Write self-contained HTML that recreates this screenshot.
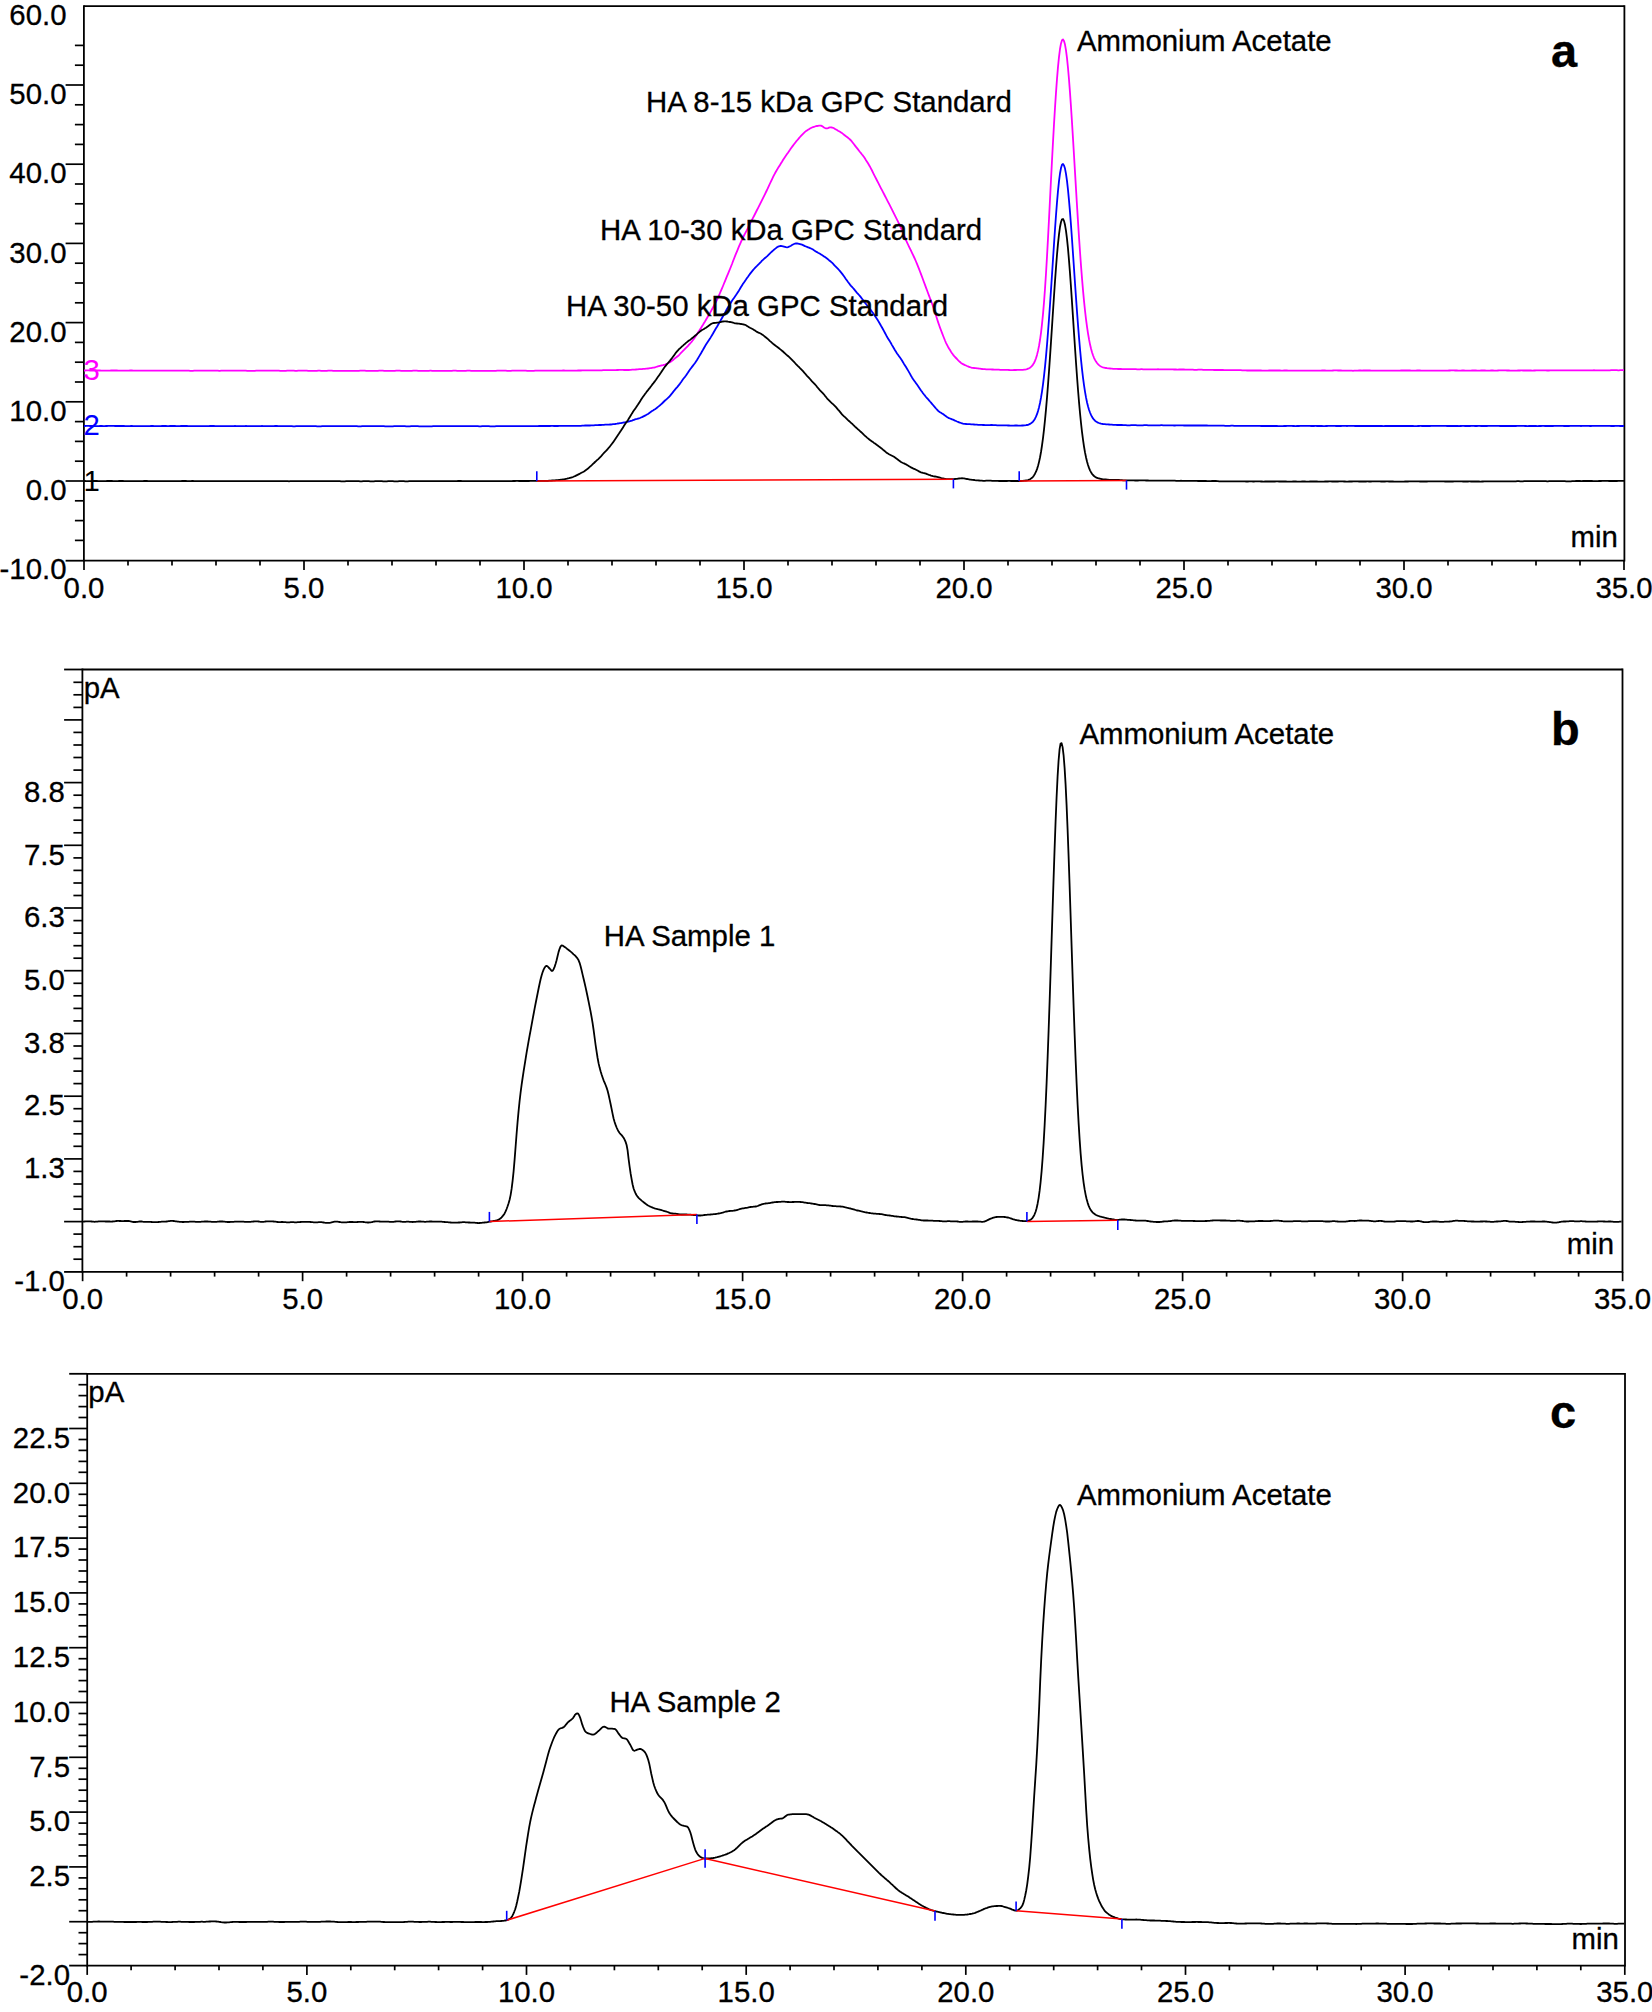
<!DOCTYPE html>
<html lang="en"><head><meta charset="utf-8"><title>GPC chromatograms</title>
<style>html,body{margin:0;padding:0;background:#fff;overflow:hidden}svg{display:block}text{font-family:'Liberation Sans', Arial, Helvetica, sans-serif;}</style></head>
<body>
<svg width="1652" height="2012" viewBox="0 0 1652 2012">
<rect x="0" y="0" width="1652" height="2012" fill="#ffffff"/>
<line x1="83.9" y1="6.2" x2="1624.4" y2="6.2" stroke="#000" stroke-width="1.8" stroke-linecap="butt"/>
<line x1="1624.4" y1="5.3" x2="1624.4" y2="561.6" stroke="#000" stroke-width="1.8" stroke-linecap="butt"/>
<line x1="83.9" y1="5.3" x2="83.9" y2="561.6" stroke="#000" stroke-width="1.8" stroke-linecap="butt"/>
<line x1="83.9" y1="560.7" x2="1624.4" y2="560.7" stroke="#000" stroke-width="1.8" stroke-linecap="butt"/>
<line x1="74.9" y1="540.4" x2="83.9" y2="540.4" stroke="#000" stroke-width="1.7" stroke-linecap="butt"/>
<line x1="74.9" y1="520.6" x2="83.9" y2="520.6" stroke="#000" stroke-width="1.7" stroke-linecap="butt"/>
<line x1="74.9" y1="500.8" x2="83.9" y2="500.8" stroke="#000" stroke-width="1.7" stroke-linecap="butt"/>
<line x1="74.9" y1="461.2" x2="83.9" y2="461.2" stroke="#000" stroke-width="1.7" stroke-linecap="butt"/>
<line x1="74.9" y1="441.4" x2="83.9" y2="441.4" stroke="#000" stroke-width="1.7" stroke-linecap="butt"/>
<line x1="74.9" y1="421.6" x2="83.9" y2="421.6" stroke="#000" stroke-width="1.7" stroke-linecap="butt"/>
<line x1="74.9" y1="382" x2="83.9" y2="382" stroke="#000" stroke-width="1.7" stroke-linecap="butt"/>
<line x1="74.9" y1="362.2" x2="83.9" y2="362.2" stroke="#000" stroke-width="1.7" stroke-linecap="butt"/>
<line x1="74.9" y1="342.4" x2="83.9" y2="342.4" stroke="#000" stroke-width="1.7" stroke-linecap="butt"/>
<line x1="74.9" y1="302.8" x2="83.9" y2="302.8" stroke="#000" stroke-width="1.7" stroke-linecap="butt"/>
<line x1="74.9" y1="283" x2="83.9" y2="283" stroke="#000" stroke-width="1.7" stroke-linecap="butt"/>
<line x1="74.9" y1="263.2" x2="83.9" y2="263.2" stroke="#000" stroke-width="1.7" stroke-linecap="butt"/>
<line x1="74.9" y1="223.6" x2="83.9" y2="223.6" stroke="#000" stroke-width="1.7" stroke-linecap="butt"/>
<line x1="74.9" y1="203.8" x2="83.9" y2="203.8" stroke="#000" stroke-width="1.7" stroke-linecap="butt"/>
<line x1="74.9" y1="184" x2="83.9" y2="184" stroke="#000" stroke-width="1.7" stroke-linecap="butt"/>
<line x1="74.9" y1="144.4" x2="83.9" y2="144.4" stroke="#000" stroke-width="1.7" stroke-linecap="butt"/>
<line x1="74.9" y1="124.6" x2="83.9" y2="124.6" stroke="#000" stroke-width="1.7" stroke-linecap="butt"/>
<line x1="74.9" y1="104.8" x2="83.9" y2="104.8" stroke="#000" stroke-width="1.7" stroke-linecap="butt"/>
<line x1="74.9" y1="65.2" x2="83.9" y2="65.2" stroke="#000" stroke-width="1.7" stroke-linecap="butt"/>
<line x1="74.9" y1="45.4" x2="83.9" y2="45.4" stroke="#000" stroke-width="1.7" stroke-linecap="butt"/>
<line x1="65.6" y1="85" x2="83.9" y2="85" stroke="#000" stroke-width="1.7" stroke-linecap="butt"/>
<line x1="65.6" y1="164.2" x2="83.9" y2="164.2" stroke="#000" stroke-width="1.7" stroke-linecap="butt"/>
<line x1="65.6" y1="243.4" x2="83.9" y2="243.4" stroke="#000" stroke-width="1.7" stroke-linecap="butt"/>
<line x1="65.6" y1="322.6" x2="83.9" y2="322.6" stroke="#000" stroke-width="1.7" stroke-linecap="butt"/>
<line x1="65.6" y1="401.8" x2="83.9" y2="401.8" stroke="#000" stroke-width="1.7" stroke-linecap="butt"/>
<line x1="65.6" y1="481" x2="83.9" y2="481" stroke="#000" stroke-width="1.7" stroke-linecap="butt"/>
<line x1="65.6" y1="560.7" x2="83.9" y2="560.7" stroke="#000" stroke-width="1.8" stroke-linecap="butt"/>
<text transform="translate(66.5 25) scale(1 1.025)" font-size="29.4" text-anchor="end" fill="#000" stroke="#000" stroke-width="0.3">60.0</text>
<text transform="translate(66.5 104.2) scale(1 1.025)" font-size="29.4" text-anchor="end" fill="#000" stroke="#000" stroke-width="0.3">50.0</text>
<text transform="translate(66.5 183.4) scale(1 1.025)" font-size="29.4" text-anchor="end" fill="#000" stroke="#000" stroke-width="0.3">40.0</text>
<text transform="translate(66.5 262.6) scale(1 1.025)" font-size="29.4" text-anchor="end" fill="#000" stroke="#000" stroke-width="0.3">30.0</text>
<text transform="translate(66.5 341.8) scale(1 1.025)" font-size="29.4" text-anchor="end" fill="#000" stroke="#000" stroke-width="0.3">20.0</text>
<text transform="translate(66.5 421) scale(1 1.025)" font-size="29.4" text-anchor="end" fill="#000" stroke="#000" stroke-width="0.3">10.0</text>
<text transform="translate(66.5 500.2) scale(1 1.025)" font-size="29.4" text-anchor="end" fill="#000" stroke="#000" stroke-width="0.3">0.0</text>
<text transform="translate(66.5 579.4) scale(1 1.025)" font-size="29.4" text-anchor="end" fill="#000" stroke="#000" stroke-width="0.3">-10.0</text>
<line x1="84" y1="560.7" x2="84" y2="570" stroke="#000" stroke-width="1.7" stroke-linecap="butt"/>
<line x1="128" y1="560.7" x2="128" y2="565.4" stroke="#000" stroke-width="1.7" stroke-linecap="butt"/>
<line x1="172" y1="560.7" x2="172" y2="565.4" stroke="#000" stroke-width="1.7" stroke-linecap="butt"/>
<line x1="216" y1="560.7" x2="216" y2="565.4" stroke="#000" stroke-width="1.7" stroke-linecap="butt"/>
<line x1="260" y1="560.7" x2="260" y2="565.4" stroke="#000" stroke-width="1.7" stroke-linecap="butt"/>
<line x1="304" y1="560.7" x2="304" y2="570" stroke="#000" stroke-width="1.7" stroke-linecap="butt"/>
<line x1="348" y1="560.7" x2="348" y2="565.4" stroke="#000" stroke-width="1.7" stroke-linecap="butt"/>
<line x1="392" y1="560.7" x2="392" y2="565.4" stroke="#000" stroke-width="1.7" stroke-linecap="butt"/>
<line x1="436" y1="560.7" x2="436" y2="565.4" stroke="#000" stroke-width="1.7" stroke-linecap="butt"/>
<line x1="480" y1="560.7" x2="480" y2="565.4" stroke="#000" stroke-width="1.7" stroke-linecap="butt"/>
<line x1="524" y1="560.7" x2="524" y2="570" stroke="#000" stroke-width="1.7" stroke-linecap="butt"/>
<line x1="568" y1="560.7" x2="568" y2="565.4" stroke="#000" stroke-width="1.7" stroke-linecap="butt"/>
<line x1="612" y1="560.7" x2="612" y2="565.4" stroke="#000" stroke-width="1.7" stroke-linecap="butt"/>
<line x1="656" y1="560.7" x2="656" y2="565.4" stroke="#000" stroke-width="1.7" stroke-linecap="butt"/>
<line x1="700" y1="560.7" x2="700" y2="565.4" stroke="#000" stroke-width="1.7" stroke-linecap="butt"/>
<line x1="744" y1="560.7" x2="744" y2="570" stroke="#000" stroke-width="1.7" stroke-linecap="butt"/>
<line x1="788" y1="560.7" x2="788" y2="565.4" stroke="#000" stroke-width="1.7" stroke-linecap="butt"/>
<line x1="832" y1="560.7" x2="832" y2="565.4" stroke="#000" stroke-width="1.7" stroke-linecap="butt"/>
<line x1="876" y1="560.7" x2="876" y2="565.4" stroke="#000" stroke-width="1.7" stroke-linecap="butt"/>
<line x1="920" y1="560.7" x2="920" y2="565.4" stroke="#000" stroke-width="1.7" stroke-linecap="butt"/>
<line x1="964" y1="560.7" x2="964" y2="570" stroke="#000" stroke-width="1.7" stroke-linecap="butt"/>
<line x1="1008" y1="560.7" x2="1008" y2="565.4" stroke="#000" stroke-width="1.7" stroke-linecap="butt"/>
<line x1="1052" y1="560.7" x2="1052" y2="565.4" stroke="#000" stroke-width="1.7" stroke-linecap="butt"/>
<line x1="1096" y1="560.7" x2="1096" y2="565.4" stroke="#000" stroke-width="1.7" stroke-linecap="butt"/>
<line x1="1140" y1="560.7" x2="1140" y2="565.4" stroke="#000" stroke-width="1.7" stroke-linecap="butt"/>
<line x1="1184" y1="560.7" x2="1184" y2="570" stroke="#000" stroke-width="1.7" stroke-linecap="butt"/>
<line x1="1228" y1="560.7" x2="1228" y2="565.4" stroke="#000" stroke-width="1.7" stroke-linecap="butt"/>
<line x1="1272" y1="560.7" x2="1272" y2="565.4" stroke="#000" stroke-width="1.7" stroke-linecap="butt"/>
<line x1="1316" y1="560.7" x2="1316" y2="565.4" stroke="#000" stroke-width="1.7" stroke-linecap="butt"/>
<line x1="1360" y1="560.7" x2="1360" y2="565.4" stroke="#000" stroke-width="1.7" stroke-linecap="butt"/>
<line x1="1404" y1="560.7" x2="1404" y2="570" stroke="#000" stroke-width="1.7" stroke-linecap="butt"/>
<line x1="1448" y1="560.7" x2="1448" y2="565.4" stroke="#000" stroke-width="1.7" stroke-linecap="butt"/>
<line x1="1492" y1="560.7" x2="1492" y2="565.4" stroke="#000" stroke-width="1.7" stroke-linecap="butt"/>
<line x1="1536" y1="560.7" x2="1536" y2="565.4" stroke="#000" stroke-width="1.7" stroke-linecap="butt"/>
<line x1="1580" y1="560.7" x2="1580" y2="565.4" stroke="#000" stroke-width="1.7" stroke-linecap="butt"/>
<line x1="1624" y1="560.7" x2="1624" y2="570" stroke="#000" stroke-width="1.7" stroke-linecap="butt"/>
<text transform="translate(84 597.8) scale(1 1.025)" font-size="29.4" text-anchor="middle" fill="#000" stroke="#000" stroke-width="0.3">0.0</text>
<text transform="translate(304 597.8) scale(1 1.025)" font-size="29.4" text-anchor="middle" fill="#000" stroke="#000" stroke-width="0.3">5.0</text>
<text transform="translate(524 597.8) scale(1 1.025)" font-size="29.4" text-anchor="middle" fill="#000" stroke="#000" stroke-width="0.3">10.0</text>
<text transform="translate(744 597.8) scale(1 1.025)" font-size="29.4" text-anchor="middle" fill="#000" stroke="#000" stroke-width="0.3">15.0</text>
<text transform="translate(964 597.8) scale(1 1.025)" font-size="29.4" text-anchor="middle" fill="#000" stroke="#000" stroke-width="0.3">20.0</text>
<text transform="translate(1184 597.8) scale(1 1.025)" font-size="29.4" text-anchor="middle" fill="#000" stroke="#000" stroke-width="0.3">25.0</text>
<text transform="translate(1404 597.8) scale(1 1.025)" font-size="29.4" text-anchor="middle" fill="#000" stroke="#000" stroke-width="0.3">30.0</text>
<text transform="translate(1624 597.8) scale(1 1.025)" font-size="29.4" text-anchor="middle" fill="#000" stroke="#000" stroke-width="0.3">35.0</text>
<text transform="translate(1617.8 547) scale(1 1.025)" font-size="29.4" text-anchor="end" fill="#000" stroke="#000" stroke-width="0.3">min</text>
<text transform="translate(1550.9 66.6) scale(1 1.0)" font-size="47" text-anchor="start" fill="#000" stroke="#000" stroke-width="0.3" font-weight="bold">a</text>
<path d="M84 370.5 L85 370.5 L86 370.4 L87 370.4 L88 370.4 L89 370.4 L90 370.5 L91 370.5 L92 370.5 L93 370.5 L94 370.5 L95 370.5 L96 370.5 L97 370.5 L98 370.5 L99 370.5 L100 370.5 L101 370.6 L102 370.6 L103 370.6 L104 370.6 L105 370.6 L106 370.6 L107 370.6 L108 370.6 L109 370.6 L110 370.6 L111 370.5 L112 370.5 L113 370.5 L114 370.5 L115 370.5 L116 370.5 L117 370.5 L118 370.6 L119 370.6 L120 370.6 L121 370.6 L122 370.6 L123 370.6 L124 370.6 L125 370.6 L126 370.6 L127 370.6 L128 370.6 L129 370.6 L130 370.5 L131 370.5 L132 370.5 L133 370.6 L134 370.6 L135 370.6 L136 370.7 L137 370.7 L138 370.7 L139 370.7 L140 370.6 L141 370.6 L142 370.6 L143 370.6 L144 370.6 L145 370.6 L146 370.6 L147 370.6 L148 370.7 L149 370.7 L150 370.6 L151 370.6 L152 370.6 L153 370.6 L154 370.7 L155 370.7 L156 370.7 L157 370.7 L158 370.7 L159 370.7 L160 370.7 L161 370.6 L162 370.6 L163 370.6 L164 370.6 L165 370.6 L166 370.6 L167 370.6 L168 370.6 L169 370.6 L170 370.6 L171 370.6 L172 370.6 L173 370.6 L174 370.6 L175 370.6 L176 370.7 L177 370.7 L178 370.7 L179 370.7 L180 370.7 L181 370.7 L182 370.7 L183 370.7 L184 370.7 L185 370.7 L186 370.6 L187 370.7 L188 370.7 L189 370.7 L190 370.8 L191 370.8 L192 370.8 L193 370.8 L194 370.7 L195 370.7 L196 370.6 L197 370.6 L198 370.7 L199 370.7 L200 370.7 L201 370.7 L202 370.7 L203 370.7 L204 370.7 L205 370.7 L206 370.7 L207 370.7 L208 370.7 L209 370.7 L210 370.7 L211 370.7 L212 370.7 L213 370.7 L214 370.7 L215 370.7 L216 370.7 L217 370.7 L218 370.7 L219 370.8 L220 370.8 L221 370.7 L222 370.7 L223 370.7 L224 370.7 L225 370.7 L226 370.7 L227 370.7 L228 370.7 L229 370.7 L230 370.7 L231 370.7 L232 370.7 L233 370.7 L234 370.7 L235 370.7 L236 370.7 L237 370.7 L238 370.7 L239 370.7 L240 370.7 L241 370.7 L242 370.7 L243 370.7 L244 370.7 L245 370.7 L246 370.7 L247 370.8 L248 370.8 L249 370.9 L250 370.9 L251 370.9 L252 370.9 L253 370.8 L254 370.8 L255 370.8 L256 370.7 L257 370.7 L258 370.7 L259 370.7 L260 370.7 L261 370.7 L262 370.7 L263 370.7 L264 370.7 L265 370.7 L266 370.7 L267 370.7 L268 370.7 L269 370.7 L270 370.7 L271 370.7 L272 370.7 L273 370.7 L274 370.7 L275 370.6 L276 370.6 L277 370.6 L278 370.7 L279 370.7 L280 370.8 L281 370.8 L282 370.8 L283 370.9 L284 370.8 L285 370.8 L286 370.8 L287 370.7 L288 370.7 L289 370.7 L290 370.6 L291 370.6 L292 370.6 L293 370.7 L294 370.7 L295 370.8 L296 370.8 L297 370.8 L298 370.7 L299 370.7 L300 370.7 L301 370.7 L302 370.7 L303 370.7 L304 370.7 L305 370.7 L306 370.7 L307 370.7 L308 370.8 L309 370.8 L310 370.8 L311 370.8 L312 370.8 L313 370.8 L314 370.8 L315 370.8 L316 370.8 L317 370.8 L318 370.7 L319 370.7 L320 370.7 L321 370.8 L322 370.8 L323 370.9 L324 370.9 L325 370.8 L326 370.8 L327 370.8 L328 370.7 L329 370.7 L330 370.7 L331 370.7 L332 370.7 L333 370.8 L334 370.8 L335 370.8 L336 370.8 L337 370.8 L338 370.8 L339 370.8 L340 370.8 L341 370.8 L342 370.8 L343 370.9 L344 370.9 L345 370.9 L346 370.9 L347 370.9 L348 370.8 L349 370.8 L350 370.9 L351 370.9 L352 370.9 L353 370.9 L354 370.9 L355 370.8 L356 370.8 L357 370.8 L358 370.8 L359 370.8 L360 370.7 L361 370.7 L362 370.7 L363 370.7 L364 370.7 L365 370.7 L366 370.8 L367 370.8 L368 370.8 L369 370.8 L370 370.8 L371 370.9 L372 370.9 L373 370.9 L374 370.9 L375 370.9 L376 370.8 L377 370.8 L378 370.8 L379 370.7 L380 370.7 L381 370.7 L382 370.7 L383 370.7 L384 370.8 L385 370.8 L386 370.8 L387 370.8 L388 370.8 L389 370.8 L390 370.8 L391 370.8 L392 370.8 L393 370.8 L394 370.8 L395 370.8 L396 370.7 L397 370.7 L398 370.7 L399 370.7 L400 370.7 L401 370.8 L402 370.8 L403 370.8 L404 370.8 L405 370.8 L406 370.8 L407 370.8 L408 370.8 L409 370.8 L410 370.8 L411 370.8 L412 370.8 L413 370.7 L414 370.7 L415 370.7 L416 370.7 L417 370.7 L418 370.8 L419 370.8 L420 370.9 L421 370.9 L422 370.9 L423 370.8 L424 370.8 L425 370.8 L426 370.8 L427 370.8 L428 370.8 L429 370.8 L430 370.7 L431 370.7 L432 370.8 L433 370.8 L434 370.8 L435 370.8 L436 370.8 L437 370.8 L438 370.8 L439 370.8 L440 370.8 L441 370.8 L442 370.8 L443 370.8 L444 370.8 L445 370.9 L446 370.9 L447 370.8 L448 370.8 L449 370.8 L450 370.8 L451 370.8 L452 370.8 L453 370.7 L454 370.7 L455 370.7 L456 370.7 L457 370.8 L458 370.8 L459 370.9 L460 370.9 L461 370.9 L462 370.9 L463 370.9 L464 370.9 L465 370.8 L466 370.8 L467 370.7 L468 370.7 L469 370.7 L470 370.7 L471 370.8 L472 370.8 L473 370.8 L474 370.8 L475 370.8 L476 370.8 L477 370.8 L478 370.9 L479 370.9 L480 370.9 L481 370.9 L482 370.9 L483 370.9 L484 370.9 L485 370.9 L486 370.8 L487 370.8 L488 370.8 L489 370.8 L490 370.8 L491 370.8 L492 370.8 L493 370.8 L494 370.8 L495 370.8 L496 370.8 L497 370.7 L498 370.7 L499 370.7 L500 370.7 L501 370.7 L502 370.7 L503 370.7 L504 370.7 L505 370.7 L506 370.7 L507 370.8 L508 370.8 L509 370.8 L510 370.8 L511 370.8 L512 370.7 L513 370.6 L514 370.6 L515 370.6 L516 370.6 L517 370.6 L518 370.6 L519 370.7 L520 370.7 L521 370.7 L522 370.7 L523 370.7 L524 370.7 L525 370.7 L526 370.7 L527 370.8 L528 370.8 L529 370.8 L530 370.8 L531 370.8 L532 370.8 L533 370.8 L534 370.8 L535 370.7 L536 370.7 L537 370.7 L538 370.7 L539 370.7 L540 370.7 L541 370.7 L542 370.7 L543 370.7 L544 370.6 L545 370.6 L546 370.6 L547 370.6 L548 370.6 L549 370.6 L550 370.7 L551 370.7 L552 370.7 L553 370.7 L554 370.7 L555 370.6 L556 370.6 L557 370.6 L558 370.6 L559 370.6 L560 370.6 L561 370.6 L562 370.6 L563 370.5 L564 370.5 L565 370.6 L566 370.6 L567 370.6 L568 370.6 L569 370.6 L570 370.6 L571 370.6 L572 370.6 L573 370.6 L574 370.6 L575 370.6 L576 370.6 L577 370.6 L578 370.5 L579 370.5 L580 370.5 L581 370.5 L582 370.4 L583 370.4 L584 370.4 L585 370.4 L586 370.4 L587 370.4 L588 370.4 L589 370.4 L590 370.4 L591 370.4 L592 370.3 L593 370.3 L594 370.3 L595 370.3 L596 370.3 L597 370.3 L598 370.3 L599 370.3 L600 370.3 L601 370.3 L602 370.3 L603 370.2 L604 370.2 L605 370.2 L606 370.2 L607 370.2 L608 370.2 L609 370.2 L610 370.2 L611 370.2 L612 370.1 L613 370.1 L614 370.1 L615 370.1 L616 370.1 L617 370 L618 370 L619 369.9 L620 369.9 L621 369.9 L622 369.9 L623 369.9 L624 370 L625 370 L626 370 L627 370 L628 370 L629 370 L630 369.9 L631 369.8 L632 369.7 L633 369.7 L634 369.6 L635 369.6 L636 369.5 L637 369.4 L638 369.3 L639 369.2 L640 369.2 L641 369.2 L642 369.1 L643 368.9 L644 368.9 L645 368.8 L646 368.7 L647 368.6 L648 368.5 L649 368.4 L650 368.2 L651 368.1 L652 367.9 L653 367.7 L654 367.6 L655 367.3 L656 367 L657 366.7 L658 366.3 L659 366 L660 365.8 L661 365.5 L662 365.3 L663 365.1 L664 364.8 L665 364.5 L666 364.1 L667 363.7 L668 363.2 L669 362.7 L670 362.2 L671 361.5 L672 360.8 L673 360 L674 359.1 L675 358.3 L676 357.6 L677 356.8 L678 356 L679 355.1 L680 354 L681 352.9 L682 351.9 L683 350.8 L684 349.9 L685 348.8 L686 347.8 L687 346.8 L688 345.8 L689 344.7 L690 343.6 L691 342.5 L692 341.3 L693 340 L694 338.7 L695 337.3 L696 335.8 L697 334.2 L698 332.6 L699 331.1 L700 329.5 L701 327.9 L702 326.3 L703 324.7 L704 323 L705 321.4 L706 319.7 L707 318 L708 316.2 L709 314.5 L710 312.9 L711 311.1 L712 309.3 L713 307.5 L714 305.6 L715 303.7 L716 301.8 L717 299.8 L718 297.6 L719 295.3 L720 293 L721 290.7 L722 288.4 L723 286 L724 283.5 L725 281.1 L726 278.6 L727 276.2 L728 273.8 L729 271.4 L730 269 L731 266.5 L732 264 L733 261.3 L734 258.7 L735 256.2 L736 253.7 L737 251.3 L738 248.8 L739 246.4 L740 244.1 L741 241.8 L742 239.6 L743 237.5 L744 235.5 L745 233.6 L746 231.8 L747 229.8 L748 227.8 L749 225.7 L750 223.6 L751 221.7 L752 219.8 L753 217.9 L754 216 L755 214 L756 212 L757 210 L758 208.1 L759 206.2 L760 204.2 L761 202.2 L762 200.2 L763 198.2 L764 196.1 L765 194.1 L766 192 L767 190 L768 187.8 L769 185.7 L770 183.5 L771 181.4 L772 179.3 L773 177.2 L774 175.2 L775 173.3 L776 171.5 L777 169.8 L778 168.1 L779 166.5 L780 164.9 L781 163.3 L782 161.7 L783 160 L784 158.4 L785 156.9 L786 155.5 L787 154.1 L788 152.7 L789 151.2 L790 149.8 L791 148.3 L792 146.9 L793 145.6 L794 144.3 L795 143 L796 141.7 L797 140.5 L798 139.4 L799 138.2 L800 137 L801 135.9 L802 134.8 L803 133.8 L804 132.8 L805 131.9 L806 131.1 L807 130.4 L808 129.8 L809 129.2 L810 128.6 L811 128 L812 127.5 L813 127.1 L814 126.8 L815 126.5 L816 126.2 L817 126 L818 125.8 L819 125.6 L820 125.6 L821 125.7 L822 126.1 L823 126.7 L824 127.4 L825 128 L826 128.4 L827 128.4 L828 128.1 L829 127.7 L830 127.3 L831 127.3 L832 127.5 L833 127.8 L834 128.3 L835 128.9 L836 129.5 L837 130.1 L838 130.7 L839 131.2 L840 131.8 L841 132.4 L842 133.1 L843 133.9 L844 134.7 L845 135.5 L846 136.3 L847 137 L848 137.8 L849 138.6 L850 139.5 L851 140.5 L852 141.7 L853 143 L854 144.3 L855 145.6 L856 146.9 L857 148.1 L858 149.4 L859 150.7 L860 152 L861 153.2 L862 154.5 L863 155.7 L864 157.1 L865 158.6 L866 160.2 L867 161.7 L868 163.3 L869 165 L870 166.7 L871 168.6 L872 170.5 L873 172.6 L874 174.6 L875 176.6 L876 178.5 L877 180.5 L878 182.4 L879 184.4 L880 186.4 L881 188.3 L882 190.2 L883 192.1 L884 194 L885 196 L886 197.9 L887 199.9 L888 201.8 L889 203.7 L890 205.6 L891 207.6 L892 209.6 L893 211.7 L894 213.7 L895 215.7 L896 217.6 L897 219.6 L898 221.6 L899 223.7 L900 225.9 L901 228.2 L902 230.5 L903 232.9 L904 235.3 L905 237.7 L906 240.1 L907 242.3 L908 244.5 L909 246.6 L910 248.6 L911 250.7 L912 252.8 L913 254.9 L914 257 L915 259.2 L916 261.5 L917 263.9 L918 266.4 L919 268.9 L920 271.5 L921 274.1 L922 276.7 L923 279.5 L924 282.2 L925 284.9 L926 287.6 L927 290.3 L928 293 L929 295.6 L930 298.2 L931 300.8 L932 303.5 L933 306.3 L934 309.2 L935 312.4 L936 315.6 L937 318.8 L938 321.9 L939 324.8 L940 327.6 L941 330.3 L942 332.9 L943 335.5 L944 338 L945 340.5 L946 342.8 L947 344.8 L948 346.7 L949 348.5 L950 350.1 L951 351.7 L952 353.2 L953 354.6 L954 355.9 L955 357 L956 358 L957 359 L958 360.1 L959 361.1 L960 362 L961 362.9 L962 363.6 L963 364.1 L964 364.6 L965 365.1 L966 365.5 L967 366 L968 366.4 L969 366.8 L970 367.2 L971 367.5 L972 367.8 L973 367.9 L974 368 L975 368.1 L976 368.2 L977 368.3 L978 368.4 L979 368.6 L980 368.7 L981 368.9 L982 369 L983 369.1 L984 369.2 L985 369.2 L986 369.3 L987 369.3 L988 369.3 L989 369.4 L990 369.4 L991 369.4 L992 369.5 L993 369.5 L994 369.6 L995 369.6 L996 369.6 L997 369.6 L998 369.7 L999 369.7 L1000 369.8 L1001 369.8 L1002 369.8 L1003 369.8 L1004 369.8 L1005 369.8 L1006 369.8 L1007 369.9 L1008 369.9 L1009 370 L1010 370.1 L1011 370.1 L1012 370.1 L1013 370.1 L1014 370 L1015 370 L1016 370 L1017 369.9 L1018 369.9 L1019 369.9 L1020 369.9 L1021 369.9 L1022 369.8 L1023 369.8 L1024 369.7 L1025 369.6 L1026 369.4 L1027 369.1 L1028 368.7 L1029 368.3 L1030 367.7 L1031 366.9 L1032 365.9 L1033 364.6 L1034 363 L1035 360.9 L1036 358.2 L1037 354.9 L1038 350.9 L1039 346 L1040 340 L1041 332.8 L1042 324.2 L1043 314.1 L1044 302.3 L1045 288.8 L1046 273.5 L1047 256.6 L1048 238.4 L1049 219.2 L1050 199.5 L1051 179.8 L1052 160.5 L1053 142 L1054 124.3 L1055 107.8 L1056 92.6 L1057 78.9 L1058 66.9 L1059 56.9 L1060 49 L1061 43.4 L1062 40.2 L1063 39.4 L1064 40.9 L1065 44.6 L1066 50.4 L1067 58.2 L1068 68 L1069 79.5 L1070 92.6 L1071 107 L1072 122.4 L1073 138.6 L1074 155.2 L1075 172.1 L1076 188.9 L1077 205.5 L1078 221.6 L1079 237.1 L1080 251.8 L1081 265.6 L1082 278.4 L1083 290.1 L1084 300.8 L1085 310.5 L1086 319.1 L1087 326.7 L1088 333.4 L1089 339.2 L1090 344.3 L1091 348.5 L1092 352.2 L1093 355.2 L1094 357.8 L1095 359.9 L1096 361.6 L1097 363 L1098 364.1 L1099 365.1 L1100 365.9 L1101 366.5 L1102 367 L1103 367.4 L1104 367.6 L1105 367.8 L1106 368 L1107 368.2 L1108 368.3 L1109 368.4 L1110 368.5 L1111 368.6 L1112 368.7 L1113 368.8 L1114 368.8 L1115 368.9 L1116 368.9 L1117 368.9 L1118 369 L1119 369 L1120 369 L1121 369 L1122 369.1 L1123 369.1 L1124 369.1 L1125 369.1 L1126 369.1 L1127 369.1 L1128 369.1 L1129 369.1 L1130 369.2 L1131 369.2 L1132 369.2 L1133 369.2 L1134 369.2 L1135 369.2 L1136 369.2 L1137 369.3 L1138 369.3 L1139 369.3 L1140 369.3 L1141 369.2 L1142 369.2 L1143 369.3 L1144 369.3 L1145 369.3 L1146 369.3 L1147 369.3 L1148 369.3 L1149 369.3 L1150 369.3 L1151 369.3 L1152 369.3 L1153 369.3 L1154 369.3 L1155 369.3 L1156 369.3 L1157 369.3 L1158 369.2 L1159 369.3 L1160 369.3 L1161 369.3 L1162 369.3 L1163 369.3 L1164 369.3 L1165 369.3 L1166 369.3 L1167 369.4 L1168 369.4 L1169 369.4 L1170 369.4 L1171 369.4 L1172 369.4 L1173 369.4 L1174 369.5 L1175 369.5 L1176 369.5 L1177 369.6 L1178 369.6 L1179 369.5 L1180 369.5 L1181 369.5 L1182 369.5 L1183 369.5 L1184 369.5 L1185 369.6 L1186 369.6 L1187 369.6 L1188 369.6 L1189 369.7 L1190 369.7 L1191 369.7 L1192 369.7 L1193 369.7 L1194 369.8 L1195 369.8 L1196 369.8 L1197 369.8 L1198 369.7 L1199 369.7 L1200 369.7 L1201 369.7 L1202 369.7 L1203 369.8 L1204 369.8 L1205 369.9 L1206 369.9 L1207 369.9 L1208 369.9 L1209 369.9 L1210 369.9 L1211 369.9 L1212 369.9 L1213 369.9 L1214 370 L1215 370 L1216 370 L1217 370 L1218 370 L1219 370 L1220 370 L1221 370 L1222 370 L1223 370 L1224 370.1 L1225 370.1 L1226 370.1 L1227 370.1 L1228 370.2 L1229 370.2 L1230 370.2 L1231 370.2 L1232 370.2 L1233 370.2 L1234 370.2 L1235 370.2 L1236 370.2 L1237 370.2 L1238 370.2 L1239 370.2 L1240 370.2 L1241 370.2 L1242 370.3 L1243 370.3 L1244 370.4 L1245 370.4 L1246 370.4 L1247 370.5 L1248 370.5 L1249 370.5 L1250 370.5 L1251 370.5 L1252 370.5 L1253 370.5 L1254 370.5 L1255 370.4 L1256 370.5 L1257 370.5 L1258 370.5 L1259 370.5 L1260 370.5 L1261 370.5 L1262 370.6 L1263 370.6 L1264 370.6 L1265 370.6 L1266 370.6 L1267 370.6 L1268 370.6 L1269 370.5 L1270 370.5 L1271 370.5 L1272 370.5 L1273 370.5 L1274 370.5 L1275 370.5 L1276 370.5 L1277 370.5 L1278 370.5 L1279 370.5 L1280 370.5 L1281 370.6 L1282 370.6 L1283 370.6 L1284 370.5 L1285 370.5 L1286 370.5 L1287 370.5 L1288 370.6 L1289 370.6 L1290 370.6 L1291 370.6 L1292 370.6 L1293 370.6 L1294 370.6 L1295 370.6 L1296 370.6 L1297 370.6 L1298 370.6 L1299 370.6 L1300 370.6 L1301 370.7 L1302 370.7 L1303 370.6 L1304 370.6 L1305 370.6 L1306 370.6 L1307 370.6 L1308 370.6 L1309 370.7 L1310 370.7 L1311 370.7 L1312 370.6 L1313 370.6 L1314 370.6 L1315 370.6 L1316 370.6 L1317 370.6 L1318 370.6 L1319 370.6 L1320 370.6 L1321 370.6 L1322 370.5 L1323 370.5 L1324 370.5 L1325 370.5 L1326 370.6 L1327 370.6 L1328 370.6 L1329 370.6 L1330 370.6 L1331 370.6 L1332 370.6 L1333 370.5 L1334 370.4 L1335 370.4 L1336 370.4 L1337 370.4 L1338 370.5 L1339 370.5 L1340 370.5 L1341 370.5 L1342 370.6 L1343 370.6 L1344 370.7 L1345 370.7 L1346 370.7 L1347 370.7 L1348 370.6 L1349 370.7 L1350 370.7 L1351 370.7 L1352 370.7 L1353 370.8 L1354 370.7 L1355 370.7 L1356 370.6 L1357 370.6 L1358 370.6 L1359 370.5 L1360 370.5 L1361 370.5 L1362 370.6 L1363 370.5 L1364 370.5 L1365 370.5 L1366 370.4 L1367 370.5 L1368 370.5 L1369 370.5 L1370 370.5 L1371 370.6 L1372 370.6 L1373 370.6 L1374 370.6 L1375 370.6 L1376 370.6 L1377 370.6 L1378 370.6 L1379 370.6 L1380 370.6 L1381 370.6 L1382 370.6 L1383 370.6 L1384 370.6 L1385 370.6 L1386 370.6 L1387 370.6 L1388 370.6 L1389 370.6 L1390 370.6 L1391 370.6 L1392 370.6 L1393 370.6 L1394 370.6 L1395 370.6 L1396 370.6 L1397 370.6 L1398 370.6 L1399 370.6 L1400 370.6 L1401 370.5 L1402 370.5 L1403 370.5 L1404 370.5 L1405 370.5 L1406 370.5 L1407 370.5 L1408 370.5 L1409 370.5 L1410 370.5 L1411 370.6 L1412 370.6 L1413 370.6 L1414 370.6 L1415 370.6 L1416 370.6 L1417 370.5 L1418 370.5 L1419 370.5 L1420 370.5 L1421 370.6 L1422 370.7 L1423 370.7 L1424 370.7 L1425 370.7 L1426 370.7 L1427 370.7 L1428 370.7 L1429 370.6 L1430 370.6 L1431 370.6 L1432 370.7 L1433 370.7 L1434 370.6 L1435 370.6 L1436 370.6 L1437 370.6 L1438 370.6 L1439 370.6 L1440 370.6 L1441 370.6 L1442 370.6 L1443 370.6 L1444 370.6 L1445 370.7 L1446 370.7 L1447 370.7 L1448 370.6 L1449 370.5 L1450 370.5 L1451 370.4 L1452 370.4 L1453 370.4 L1454 370.4 L1455 370.5 L1456 370.5 L1457 370.5 L1458 370.6 L1459 370.6 L1460 370.6 L1461 370.6 L1462 370.5 L1463 370.5 L1464 370.5 L1465 370.6 L1466 370.6 L1467 370.6 L1468 370.6 L1469 370.6 L1470 370.6 L1471 370.6 L1472 370.5 L1473 370.5 L1474 370.5 L1475 370.5 L1476 370.5 L1477 370.6 L1478 370.6 L1479 370.6 L1480 370.6 L1481 370.5 L1482 370.5 L1483 370.5 L1484 370.5 L1485 370.5 L1486 370.6 L1487 370.6 L1488 370.6 L1489 370.6 L1490 370.6 L1491 370.5 L1492 370.5 L1493 370.5 L1494 370.6 L1495 370.6 L1496 370.6 L1497 370.6 L1498 370.5 L1499 370.4 L1500 370.4 L1501 370.4 L1502 370.4 L1503 370.4 L1504 370.4 L1505 370.4 L1506 370.4 L1507 370.5 L1508 370.5 L1509 370.5 L1510 370.6 L1511 370.6 L1512 370.6 L1513 370.6 L1514 370.6 L1515 370.6 L1516 370.6 L1517 370.6 L1518 370.5 L1519 370.5 L1520 370.5 L1521 370.4 L1522 370.4 L1523 370.5 L1524 370.5 L1525 370.5 L1526 370.5 L1527 370.5 L1528 370.5 L1529 370.5 L1530 370.5 L1531 370.5 L1532 370.6 L1533 370.6 L1534 370.5 L1535 370.5 L1536 370.4 L1537 370.4 L1538 370.4 L1539 370.4 L1540 370.4 L1541 370.3 L1542 370.3 L1543 370.4 L1544 370.4 L1545 370.4 L1546 370.4 L1547 370.5 L1548 370.5 L1549 370.5 L1550 370.4 L1551 370.4 L1552 370.3 L1553 370.3 L1554 370.3 L1555 370.3 L1556 370.3 L1557 370.3 L1558 370.4 L1559 370.4 L1560 370.4 L1561 370.4 L1562 370.4 L1563 370.4 L1564 370.4 L1565 370.4 L1566 370.4 L1567 370.4 L1568 370.4 L1569 370.3 L1570 370.3 L1571 370.3 L1572 370.3 L1573 370.3 L1574 370.3 L1575 370.3 L1576 370.3 L1577 370.3 L1578 370.3 L1579 370.3 L1580 370.3 L1581 370.3 L1582 370.3 L1583 370.3 L1584 370.3 L1585 370.3 L1586 370.3 L1587 370.4 L1588 370.4 L1589 370.4 L1590 370.3 L1591 370.3 L1592 370.3 L1593 370.3 L1594 370.2 L1595 370.3 L1596 370.3 L1597 370.4 L1598 370.4 L1599 370.4 L1600 370.4 L1601 370.4 L1602 370.3 L1603 370.3 L1604 370.3 L1605 370.3 L1606 370.3 L1607 370.3 L1608 370.3 L1609 370.3 L1610 370.3 L1611 370.2 L1612 370.2 L1613 370.2 L1614 370.2 L1615 370.2 L1616 370.2 L1617 370.2 L1618 370.3 L1619 370.3 L1620 370.2 L1621 370.2 L1622 370.2 L1623 370.2 L1624 370.2" fill="none" stroke="#ff00ff" stroke-width="1.8" stroke-linejoin="round" stroke-linecap="butt"/>
<path d="M84 426 L85 426 L86 425.9 L87 425.9 L88 425.9 L89 425.9 L90 426 L91 426 L92 426 L93 426.1 L94 426.1 L95 426.1 L96 426.1 L97 426.1 L98 426.1 L99 426.1 L100 426 L101 426 L102 426 L103 426.1 L104 426.1 L105 426.1 L106 426 L107 426 L108 425.9 L109 425.8 L110 425.8 L111 425.8 L112 425.8 L113 425.9 L114 425.9 L115 426 L116 426 L117 426 L118 426 L119 426 L120 426 L121 426 L122 426 L123 426 L124 426 L125 426.1 L126 426.1 L127 426.1 L128 426.1 L129 426.1 L130 426.1 L131 426 L132 426 L133 426.1 L134 426.1 L135 426.1 L136 426.1 L137 426.1 L138 426.1 L139 426.1 L140 426.1 L141 426.1 L142 426.1 L143 426.1 L144 426.1 L145 426.1 L146 426.1 L147 426.1 L148 426.1 L149 426.1 L150 426.1 L151 426 L152 426 L153 426 L154 426.1 L155 426.1 L156 426.1 L157 426.1 L158 426.2 L159 426.1 L160 426.1 L161 426.1 L162 426 L163 426 L164 426 L165 426 L166 426 L167 426.1 L168 426.1 L169 426.1 L170 426 L171 426 L172 426 L173 426 L174 426 L175 426 L176 426.1 L177 426.1 L178 426.1 L179 426.1 L180 426.1 L181 426 L182 426 L183 426 L184 426 L185 426 L186 426 L187 426 L188 426.1 L189 426.1 L190 426.1 L191 426.1 L192 426.2 L193 426.2 L194 426.2 L195 426.2 L196 426.2 L197 426.2 L198 426.2 L199 426.1 L200 426.1 L201 426.1 L202 426.1 L203 426.1 L204 426.2 L205 426.2 L206 426.2 L207 426.1 L208 426.1 L209 426.1 L210 426 L211 426 L212 426 L213 426 L214 426 L215 426.1 L216 426.1 L217 426.2 L218 426.2 L219 426.2 L220 426.2 L221 426.2 L222 426.2 L223 426.2 L224 426.2 L225 426.1 L226 426.1 L227 426.1 L228 426.2 L229 426.2 L230 426.2 L231 426.2 L232 426.1 L233 426.1 L234 426.1 L235 426 L236 426.1 L237 426.1 L238 426.1 L239 426.1 L240 426.1 L241 426.2 L242 426.1 L243 426.1 L244 426.1 L245 426.1 L246 426 L247 426.1 L248 426.1 L249 426.1 L250 426.1 L251 426.1 L252 426.1 L253 426.1 L254 426.1 L255 426.1 L256 426.1 L257 426.1 L258 426.1 L259 426.1 L260 426.1 L261 426.1 L262 426 L263 426.1 L264 426.1 L265 426.1 L266 426.1 L267 426.1 L268 426.1 L269 426.2 L270 426.2 L271 426.2 L272 426.1 L273 426.1 L274 426.1 L275 426 L276 426 L277 426 L278 426.1 L279 426.1 L280 426.1 L281 426.1 L282 426.1 L283 426.1 L284 426.1 L285 426.1 L286 426.2 L287 426.2 L288 426.2 L289 426.2 L290 426.2 L291 426.2 L292 426.2 L293 426.3 L294 426.3 L295 426.3 L296 426.2 L297 426.1 L298 426.1 L299 426.1 L300 426.1 L301 426.1 L302 426.1 L303 426.1 L304 426.1 L305 426.1 L306 426.1 L307 426.2 L308 426.2 L309 426.1 L310 426.1 L311 426.1 L312 426.1 L313 426.1 L314 426.1 L315 426.2 L316 426.2 L317 426.3 L318 426.3 L319 426.3 L320 426.3 L321 426.3 L322 426.2 L323 426.1 L324 426.1 L325 426.1 L326 426.1 L327 426.1 L328 426.1 L329 426.2 L330 426.2 L331 426.2 L332 426.2 L333 426.2 L334 426.2 L335 426.1 L336 426.1 L337 426.1 L338 426.1 L339 426.1 L340 426.1 L341 426.1 L342 426.1 L343 426.1 L344 426.1 L345 426.1 L346 426.1 L347 426.2 L348 426.2 L349 426.2 L350 426.2 L351 426.2 L352 426.2 L353 426.2 L354 426.2 L355 426.2 L356 426.2 L357 426.2 L358 426.3 L359 426.3 L360 426.3 L361 426.3 L362 426.2 L363 426.2 L364 426.2 L365 426.2 L366 426.2 L367 426.2 L368 426.1 L369 426.1 L370 426.1 L371 426.1 L372 426.1 L373 426.1 L374 426.1 L375 426.2 L376 426.2 L377 426.2 L378 426.2 L379 426.2 L380 426.2 L381 426.2 L382 426.2 L383 426.2 L384 426.2 L385 426.3 L386 426.3 L387 426.3 L388 426.3 L389 426.3 L390 426.3 L391 426.3 L392 426.3 L393 426.3 L394 426.2 L395 426.2 L396 426.2 L397 426.2 L398 426.2 L399 426.2 L400 426.2 L401 426.2 L402 426.2 L403 426.2 L404 426.2 L405 426.2 L406 426.3 L407 426.3 L408 426.3 L409 426.3 L410 426.3 L411 426.2 L412 426.2 L413 426.2 L414 426.2 L415 426.2 L416 426.2 L417 426.2 L418 426.2 L419 426.3 L420 426.3 L421 426.3 L422 426.3 L423 426.3 L424 426.3 L425 426.3 L426 426.3 L427 426.3 L428 426.3 L429 426.3 L430 426.3 L431 426.3 L432 426.3 L433 426.2 L434 426.2 L435 426.2 L436 426.2 L437 426.2 L438 426.2 L439 426.2 L440 426.2 L441 426.2 L442 426.2 L443 426.2 L444 426.2 L445 426.2 L446 426.2 L447 426.2 L448 426.2 L449 426.2 L450 426.2 L451 426.2 L452 426.1 L453 426.1 L454 426.1 L455 426.1 L456 426.1 L457 426.1 L458 426.1 L459 426.1 L460 426.1 L461 426.1 L462 426.1 L463 426.1 L464 426.2 L465 426.2 L466 426.2 L467 426.2 L468 426.2 L469 426.2 L470 426.2 L471 426.2 L472 426.2 L473 426.2 L474 426.2 L475 426.2 L476 426.2 L477 426.2 L478 426.2 L479 426.3 L480 426.3 L481 426.3 L482 426.2 L483 426.2 L484 426.2 L485 426.2 L486 426.2 L487 426.2 L488 426.2 L489 426.2 L490 426.3 L491 426.3 L492 426.3 L493 426.3 L494 426.3 L495 426.3 L496 426.2 L497 426.2 L498 426.2 L499 426.2 L500 426.1 L501 426.1 L502 426.1 L503 426.1 L504 426.1 L505 426.2 L506 426.2 L507 426.2 L508 426.1 L509 426.1 L510 426.1 L511 426.1 L512 426.2 L513 426.2 L514 426.2 L515 426.2 L516 426.2 L517 426.2 L518 426.2 L519 426.2 L520 426.2 L521 426.2 L522 426.1 L523 426.1 L524 426.1 L525 426.1 L526 426.1 L527 426.2 L528 426.2 L529 426.2 L530 426.2 L531 426.2 L532 426.1 L533 426.1 L534 426.1 L535 426.1 L536 426.1 L537 426.1 L538 426.1 L539 426 L540 426 L541 426 L542 426 L543 426 L544 426 L545 425.9 L546 426 L547 426 L548 426 L549 426 L550 426 L551 425.9 L552 425.9 L553 425.9 L554 426 L555 426 L556 426 L557 426 L558 426 L559 425.9 L560 425.9 L561 425.9 L562 425.9 L563 425.9 L564 425.9 L565 425.9 L566 425.9 L567 425.8 L568 425.8 L569 425.8 L570 425.8 L571 425.8 L572 425.8 L573 425.8 L574 425.8 L575 425.8 L576 425.8 L577 425.9 L578 425.9 L579 425.9 L580 425.9 L581 425.8 L582 425.7 L583 425.6 L584 425.6 L585 425.5 L586 425.5 L587 425.5 L588 425.5 L589 425.5 L590 425.5 L591 425.4 L592 425.4 L593 425.3 L594 425.3 L595 425.2 L596 425.2 L597 425.1 L598 425.1 L599 425 L600 425 L601 425 L602 424.9 L603 424.9 L604 424.8 L605 424.7 L606 424.7 L607 424.6 L608 424.6 L609 424.6 L610 424.5 L611 424.5 L612 424.4 L613 424.2 L614 424.1 L615 424 L616 423.8 L617 423.7 L618 423.5 L619 423.4 L620 423.2 L621 423.1 L622 422.9 L623 422.7 L624 422.5 L625 422.3 L626 422.1 L627 421.9 L628 421.7 L629 421.5 L630 421.2 L631 420.9 L632 420.6 L633 420.2 L634 419.8 L635 419.4 L636 419.1 L637 418.9 L638 418.6 L639 418.3 L640 418 L641 417.5 L642 417.1 L643 416.6 L644 416.1 L645 415.6 L646 415.1 L647 414.5 L648 413.9 L649 413.2 L650 412.5 L651 411.8 L652 411.1 L653 410.5 L654 409.8 L655 409.2 L656 408.5 L657 407.7 L658 406.9 L659 406.1 L660 405.3 L661 404.4 L662 403.5 L663 402.5 L664 401.5 L665 400.5 L666 399.7 L667 398.8 L668 397.9 L669 397 L670 395.8 L671 394.6 L672 393.4 L673 392.1 L674 390.8 L675 389.6 L676 388.4 L677 387.3 L678 386.1 L679 384.9 L680 383.6 L681 382.2 L682 380.7 L683 379.3 L684 378 L685 376.8 L686 375.5 L687 374 L688 372.6 L689 371 L690 369.6 L691 368.2 L692 366.9 L693 365.6 L694 364.3 L695 362.9 L696 361.4 L697 359.9 L698 358.3 L699 356.6 L700 354.9 L701 353.3 L702 351.5 L703 349.8 L704 348 L705 346.2 L706 344.6 L707 343.1 L708 341.6 L709 340.1 L710 338.6 L711 336.9 L712 335.2 L713 333.5 L714 331.7 L715 330 L716 328.3 L717 326.7 L718 325 L719 323.3 L720 321.6 L721 319.8 L722 318 L723 316.3 L724 314.5 L725 312.7 L726 310.8 L727 309 L728 307.3 L729 305.6 L730 304 L731 302.4 L732 300.8 L733 299.3 L734 297.9 L735 296.5 L736 295.1 L737 293.6 L738 292 L739 290.4 L740 288.7 L741 287 L742 285.4 L743 283.8 L744 282.4 L745 281 L746 279.6 L747 278.1 L748 276.7 L749 275.2 L750 273.9 L751 272.6 L752 271.4 L753 270.2 L754 269 L755 267.9 L756 266.8 L757 265.9 L758 264.9 L759 263.9 L760 262.8 L761 261.8 L762 260.7 L763 259.8 L764 258.9 L765 258 L766 257.2 L767 256.3 L768 255.3 L769 254.3 L770 253.3 L771 252.4 L772 251.5 L773 250.6 L774 249.7 L775 248.9 L776 248.1 L777 247.3 L778 246.7 L779 246.3 L780 246 L781 246 L782 246.1 L783 246.3 L784 246.6 L785 246.9 L786 247.2 L787 247.3 L788 247.1 L789 246.7 L790 246.2 L791 245.7 L792 245.1 L793 244.5 L794 244 L795 243.7 L796 243.5 L797 243.5 L798 243.7 L799 243.9 L800 244.1 L801 244.4 L802 244.7 L803 245.1 L804 245.6 L805 246.1 L806 246.5 L807 246.9 L808 247.3 L809 247.7 L810 248.1 L811 248.5 L812 249 L813 249.6 L814 250.3 L815 250.9 L816 251.6 L817 252.1 L818 252.7 L819 253.2 L820 253.8 L821 254.4 L822 255.1 L823 255.7 L824 256.4 L825 257.1 L826 257.8 L827 258.5 L828 259.3 L829 260.2 L830 261 L831 261.8 L832 262.7 L833 263.7 L834 264.8 L835 265.9 L836 266.9 L837 267.9 L838 268.9 L839 270 L840 271.2 L841 272.4 L842 273.6 L843 274.9 L844 276.3 L845 277.7 L846 279.2 L847 280.6 L848 282 L849 283.3 L850 284.6 L851 285.8 L852 286.9 L853 288 L854 289.2 L855 290.4 L856 291.6 L857 292.8 L858 293.9 L859 295 L860 296.2 L861 297.4 L862 298.7 L863 300.1 L864 301.5 L865 302.8 L866 304 L867 305.3 L868 306.5 L869 307.8 L870 309.1 L871 310.4 L872 311.7 L873 313 L874 314.4 L875 315.9 L876 317.4 L877 319 L878 320.6 L879 322.3 L880 324 L881 325.8 L882 327.5 L883 329.3 L884 331.1 L885 333 L886 334.9 L887 336.8 L888 338.4 L889 340 L890 341.6 L891 343.3 L892 345.1 L893 346.8 L894 348.5 L895 350.2 L896 351.8 L897 353.4 L898 354.8 L899 356.2 L900 357.6 L901 359 L902 360.5 L903 362.2 L904 363.9 L905 365.5 L906 367.1 L907 368.7 L908 370.4 L909 372.1 L910 373.9 L911 375.7 L912 377.4 L913 379 L914 380.4 L915 381.8 L916 383.2 L917 384.6 L918 386 L919 387.5 L920 389 L921 390.5 L922 391.8 L923 393.2 L924 394.5 L925 395.7 L926 397 L927 398.1 L928 399.2 L929 400.3 L930 401.5 L931 402.6 L932 403.8 L933 405 L934 406.2 L935 407.3 L936 408.5 L937 409.6 L938 410.7 L939 411.5 L940 412.2 L941 412.8 L942 413.4 L943 414 L944 414.8 L945 415.6 L946 416.3 L947 417 L948 417.6 L949 418.1 L950 418.5 L951 418.9 L952 419.3 L953 419.7 L954 420.1 L955 420.6 L956 421 L957 421.5 L958 421.9 L959 422.3 L960 422.7 L961 423 L962 423.3 L963 423.6 L964 423.8 L965 423.9 L966 424 L967 424.1 L968 424.1 L969 424.2 L970 424.2 L971 424.3 L972 424.4 L973 424.4 L974 424.5 L975 424.6 L976 424.6 L977 424.7 L978 424.8 L979 424.8 L980 424.8 L981 424.9 L982 424.9 L983 425 L984 425 L985 425.1 L986 425.1 L987 425.1 L988 425.1 L989 425.1 L990 425.1 L991 425 L992 425 L993 425.1 L994 425.1 L995 425.2 L996 425.2 L997 425.3 L998 425.3 L999 425.4 L1000 425.4 L1001 425.4 L1002 425.4 L1003 425.4 L1004 425.4 L1005 425.4 L1006 425.4 L1007 425.4 L1008 425.5 L1009 425.5 L1010 425.6 L1011 425.6 L1012 425.6 L1013 425.6 L1014 425.6 L1015 425.5 L1016 425.5 L1017 425.5 L1018 425.6 L1019 425.6 L1020 425.6 L1021 425.6 L1022 425.5 L1023 425.5 L1024 425.4 L1025 425.3 L1026 425.2 L1027 425 L1028 424.8 L1029 424.4 L1030 423.9 L1031 423.3 L1032 422.6 L1033 421.6 L1034 420.3 L1035 418.7 L1036 416.7 L1037 414.2 L1038 411.1 L1039 407.4 L1040 403 L1041 397.7 L1042 391.6 L1043 384.4 L1044 376.2 L1045 366.8 L1046 356.4 L1047 344.8 L1048 332.3 L1049 318.9 L1050 304.7 L1051 289.9 L1052 274.7 L1053 259.4 L1054 244.1 L1055 229.3 L1056 215.3 L1057 202.4 L1058 190.9 L1059 181.2 L1060 173.5 L1061 168 L1062 164.8 L1063 164 L1064 165.4 L1065 168.6 L1066 173.8 L1067 180.9 L1068 189.8 L1069 200.3 L1070 212.2 L1071 225.3 L1072 239.2 L1073 253.7 L1074 268.4 L1075 283.2 L1076 297.6 L1077 311.6 L1078 324.9 L1079 337.4 L1080 349 L1081 359.6 L1082 369.1 L1083 377.7 L1084 385.2 L1085 391.7 L1086 397.4 L1087 402.2 L1088 406.2 L1089 409.7 L1090 412.5 L1091 414.9 L1092 416.8 L1093 418.4 L1094 419.7 L1095 420.7 L1096 421.5 L1097 422.1 L1098 422.6 L1099 423 L1100 423.3 L1101 423.6 L1102 423.8 L1103 424 L1104 424.1 L1105 424.2 L1106 424.3 L1107 424.3 L1108 424.4 L1109 424.5 L1110 424.6 L1111 424.6 L1112 424.7 L1113 424.8 L1114 424.8 L1115 424.9 L1116 424.9 L1117 425 L1118 425 L1119 425 L1120 425 L1121 425 L1122 425 L1123 425.1 L1124 425.1 L1125 425.2 L1126 425.2 L1127 425.3 L1128 425.3 L1129 425.3 L1130 425.3 L1131 425.2 L1132 425.2 L1133 425.2 L1134 425.2 L1135 425.2 L1136 425.2 L1137 425.3 L1138 425.3 L1139 425.3 L1140 425.3 L1141 425.3 L1142 425.3 L1143 425.3 L1144 425.2 L1145 425.2 L1146 425.2 L1147 425.2 L1148 425.3 L1149 425.3 L1150 425.3 L1151 425.4 L1152 425.4 L1153 425.4 L1154 425.4 L1155 425.4 L1156 425.4 L1157 425.4 L1158 425.3 L1159 425.3 L1160 425.3 L1161 425.2 L1162 425.2 L1163 425.3 L1164 425.3 L1165 425.4 L1166 425.4 L1167 425.4 L1168 425.4 L1169 425.3 L1170 425.3 L1171 425.4 L1172 425.4 L1173 425.4 L1174 425.5 L1175 425.5 L1176 425.4 L1177 425.4 L1178 425.4 L1179 425.4 L1180 425.4 L1181 425.4 L1182 425.4 L1183 425.4 L1184 425.5 L1185 425.5 L1186 425.5 L1187 425.5 L1188 425.5 L1189 425.5 L1190 425.5 L1191 425.5 L1192 425.5 L1193 425.5 L1194 425.5 L1195 425.5 L1196 425.5 L1197 425.5 L1198 425.5 L1199 425.5 L1200 425.5 L1201 425.5 L1202 425.5 L1203 425.5 L1204 425.5 L1205 425.5 L1206 425.5 L1207 425.5 L1208 425.6 L1209 425.6 L1210 425.6 L1211 425.6 L1212 425.6 L1213 425.6 L1214 425.6 L1215 425.6 L1216 425.7 L1217 425.7 L1218 425.7 L1219 425.7 L1220 425.7 L1221 425.7 L1222 425.7 L1223 425.7 L1224 425.7 L1225 425.8 L1226 425.8 L1227 425.8 L1228 425.8 L1229 425.8 L1230 425.8 L1231 425.7 L1232 425.7 L1233 425.7 L1234 425.8 L1235 425.8 L1236 425.8 L1237 425.8 L1238 425.8 L1239 425.8 L1240 425.8 L1241 425.8 L1242 425.8 L1243 425.8 L1244 425.8 L1245 425.8 L1246 425.8 L1247 425.8 L1248 425.8 L1249 425.8 L1250 425.8 L1251 425.8 L1252 425.8 L1253 425.8 L1254 425.8 L1255 425.9 L1256 425.9 L1257 425.9 L1258 425.9 L1259 425.9 L1260 425.9 L1261 426 L1262 426 L1263 426 L1264 426 L1265 426 L1266 426 L1267 426 L1268 426 L1269 426 L1270 426 L1271 426 L1272 426 L1273 426 L1274 426 L1275 426 L1276 426 L1277 426 L1278 426.1 L1279 426.1 L1280 426.1 L1281 426.1 L1282 426.1 L1283 426.1 L1284 426 L1285 426 L1286 426 L1287 425.9 L1288 425.9 L1289 425.9 L1290 425.9 L1291 425.9 L1292 425.9 L1293 426 L1294 426 L1295 426.1 L1296 426.1 L1297 426 L1298 426 L1299 426 L1300 425.9 L1301 425.9 L1302 425.9 L1303 425.9 L1304 425.9 L1305 425.9 L1306 425.8 L1307 425.8 L1308 425.8 L1309 425.9 L1310 425.9 L1311 426 L1312 426 L1313 426 L1314 426 L1315 425.9 L1316 425.9 L1317 426 L1318 426 L1319 426 L1320 426 L1321 426 L1322 426 L1323 426.1 L1324 426.1 L1325 426.1 L1326 426 L1327 426 L1328 425.9 L1329 425.9 L1330 425.9 L1331 425.9 L1332 425.9 L1333 425.9 L1334 425.9 L1335 425.9 L1336 426 L1337 426 L1338 426 L1339 426 L1340 426 L1341 426 L1342 425.9 L1343 425.9 L1344 425.9 L1345 425.9 L1346 425.9 L1347 426 L1348 425.9 L1349 425.9 L1350 425.9 L1351 425.9 L1352 425.9 L1353 425.9 L1354 425.9 L1355 426 L1356 426 L1357 426 L1358 426 L1359 426 L1360 426 L1361 426 L1362 426 L1363 426 L1364 426 L1365 426 L1366 426 L1367 426 L1368 426 L1369 426 L1370 426 L1371 426 L1372 426 L1373 426 L1374 426 L1375 426 L1376 426 L1377 426 L1378 426 L1379 426 L1380 426 L1381 426 L1382 426 L1383 426.1 L1384 426.1 L1385 426 L1386 426 L1387 426 L1388 426 L1389 426 L1390 426 L1391 426 L1392 426 L1393 426 L1394 426 L1395 426 L1396 426 L1397 426 L1398 426 L1399 426 L1400 426 L1401 426 L1402 426 L1403 426 L1404 426 L1405 426 L1406 426 L1407 426 L1408 426 L1409 426 L1410 426 L1411 426 L1412 426 L1413 426 L1414 426.1 L1415 426.1 L1416 426.1 L1417 426.1 L1418 426 L1419 426 L1420 425.9 L1421 425.9 L1422 426 L1423 426 L1424 426 L1425 426 L1426 426 L1427 426 L1428 426 L1429 426 L1430 426 L1431 425.9 L1432 425.9 L1433 425.9 L1434 425.9 L1435 425.9 L1436 425.9 L1437 425.9 L1438 425.9 L1439 425.9 L1440 425.9 L1441 425.9 L1442 425.9 L1443 425.9 L1444 425.9 L1445 425.9 L1446 425.9 L1447 426 L1448 426 L1449 426 L1450 426 L1451 426 L1452 426 L1453 426 L1454 426 L1455 425.9 L1456 426 L1457 426 L1458 426 L1459 426.1 L1460 426 L1461 426 L1462 425.9 L1463 425.9 L1464 425.9 L1465 426 L1466 426 L1467 426 L1468 426 L1469 426 L1470 426 L1471 425.9 L1472 425.9 L1473 425.9 L1474 425.9 L1475 426 L1476 426 L1477 426 L1478 425.9 L1479 425.9 L1480 425.9 L1481 426 L1482 426 L1483 426 L1484 426 L1485 426 L1486 426 L1487 426 L1488 425.9 L1489 425.9 L1490 425.9 L1491 425.9 L1492 425.9 L1493 425.9 L1494 425.9 L1495 425.9 L1496 425.9 L1497 425.9 L1498 425.9 L1499 425.9 L1500 426 L1501 426 L1502 426 L1503 426 L1504 426 L1505 426 L1506 426 L1507 426 L1508 426 L1509 426 L1510 426 L1511 426 L1512 426 L1513 426 L1514 426 L1515 426 L1516 426 L1517 425.9 L1518 425.9 L1519 425.9 L1520 425.9 L1521 425.9 L1522 425.9 L1523 425.9 L1524 425.9 L1525 426 L1526 426 L1527 426.1 L1528 426.1 L1529 426 L1530 426 L1531 426 L1532 425.9 L1533 426 L1534 426 L1535 426 L1536 426 L1537 426.1 L1538 426.1 L1539 426 L1540 426 L1541 426 L1542 425.9 L1543 425.9 L1544 425.9 L1545 426 L1546 426 L1547 426 L1548 426 L1549 426 L1550 426 L1551 426 L1552 426 L1553 426 L1554 425.9 L1555 425.9 L1556 425.9 L1557 425.9 L1558 425.8 L1559 425.9 L1560 425.9 L1561 425.9 L1562 425.9 L1563 425.9 L1564 426 L1565 426 L1566 426 L1567 426 L1568 426 L1569 426 L1570 425.9 L1571 425.9 L1572 425.9 L1573 425.9 L1574 425.9 L1575 425.9 L1576 425.9 L1577 425.9 L1578 425.9 L1579 425.9 L1580 425.9 L1581 426 L1582 425.9 L1583 425.9 L1584 425.9 L1585 425.9 L1586 425.9 L1587 425.9 L1588 425.9 L1589 425.9 L1590 426 L1591 426 L1592 425.9 L1593 425.9 L1594 425.9 L1595 425.9 L1596 425.9 L1597 425.9 L1598 425.9 L1599 425.9 L1600 425.8 L1601 425.8 L1602 425.8 L1603 425.9 L1604 425.9 L1605 425.9 L1606 425.9 L1607 425.9 L1608 425.9 L1609 425.9 L1610 425.9 L1611 426 L1612 426 L1613 426 L1614 426 L1615 425.9 L1616 425.9 L1617 425.9 L1618 425.9 L1619 425.9 L1620 426 L1621 426 L1622 426 L1623 426 L1624 425.9" fill="none" stroke="#0000ff" stroke-width="1.8" stroke-linejoin="round" stroke-linecap="butt"/>
<path d="M84 481 L85 481 L86 481.1 L87 481.1 L88 481.1 L89 481.1 L90 481.1 L91 481.1 L92 481.1 L93 481 L94 481 L95 481 L96 481 L97 481 L98 481.1 L99 481.1 L100 481.1 L101 481.1 L102 481.1 L103 481.1 L104 481.1 L105 481.1 L106 481.1 L107 481 L108 481 L109 481 L110 481 L111 481 L112 481 L113 481.1 L114 481.1 L115 481.1 L116 481.1 L117 481.1 L118 481.1 L119 481 L120 481 L121 481 L122 481 L123 481 L124 481.1 L125 481.1 L126 481.1 L127 481.1 L128 481.1 L129 481.1 L130 481.1 L131 481.1 L132 481.1 L133 481.1 L134 481.1 L135 481.1 L136 481.1 L137 481.1 L138 481.2 L139 481.2 L140 481.2 L141 481.1 L142 481.1 L143 481.1 L144 481 L145 481 L146 481 L147 481 L148 481.1 L149 481.1 L150 481.1 L151 481.1 L152 481.2 L153 481.1 L154 481.1 L155 481.1 L156 481.1 L157 481.1 L158 481.1 L159 481.1 L160 481.1 L161 481.1 L162 481.1 L163 481.1 L164 481.1 L165 481.1 L166 481.1 L167 481.1 L168 481.1 L169 481.1 L170 481.1 L171 481.1 L172 481.1 L173 481.1 L174 481.1 L175 481.2 L176 481.2 L177 481.2 L178 481.2 L179 481.2 L180 481.1 L181 481.1 L182 481 L183 481 L184 481 L185 481 L186 481 L187 481.1 L188 481.1 L189 481.1 L190 481.1 L191 481.1 L192 481 L193 481 L194 481.1 L195 481.1 L196 481.1 L197 481.1 L198 481.1 L199 481.2 L200 481.2 L201 481.2 L202 481.2 L203 481.2 L204 481.2 L205 481.2 L206 481.2 L207 481.1 L208 481.1 L209 481.1 L210 481.1 L211 481.1 L212 481.1 L213 481.1 L214 481.1 L215 481.1 L216 481.1 L217 481.1 L218 481.1 L219 481.1 L220 481.1 L221 481.1 L222 481.1 L223 481.2 L224 481.2 L225 481.2 L226 481.1 L227 481.1 L228 481.1 L229 481.1 L230 481.1 L231 481.2 L232 481.2 L233 481.2 L234 481.2 L235 481.2 L236 481.2 L237 481.2 L238 481.2 L239 481.2 L240 481.2 L241 481.2 L242 481.2 L243 481.2 L244 481.2 L245 481.1 L246 481.1 L247 481.1 L248 481.2 L249 481.2 L250 481.2 L251 481.2 L252 481.1 L253 481.1 L254 481.1 L255 481.2 L256 481.2 L257 481.2 L258 481.2 L259 481.2 L260 481.2 L261 481.2 L262 481.2 L263 481.2 L264 481.2 L265 481.2 L266 481.1 L267 481.1 L268 481.1 L269 481.2 L270 481.2 L271 481.2 L272 481.2 L273 481.2 L274 481.2 L275 481.2 L276 481.2 L277 481.2 L278 481.2 L279 481.2 L280 481.2 L281 481.2 L282 481.2 L283 481.2 L284 481.2 L285 481.2 L286 481.2 L287 481.2 L288 481.2 L289 481.3 L290 481.2 L291 481.2 L292 481.1 L293 481.1 L294 481.1 L295 481.1 L296 481.1 L297 481.1 L298 481.1 L299 481.2 L300 481.2 L301 481.2 L302 481.2 L303 481.1 L304 481.1 L305 481.1 L306 481.1 L307 481.1 L308 481.1 L309 481.2 L310 481.2 L311 481.2 L312 481.2 L313 481.2 L314 481.2 L315 481.2 L316 481.1 L317 481.1 L318 481.1 L319 481.1 L320 481.2 L321 481.2 L322 481.2 L323 481.2 L324 481.2 L325 481.1 L326 481.1 L327 481.1 L328 481.2 L329 481.2 L330 481.2 L331 481.2 L332 481.2 L333 481.2 L334 481.2 L335 481.2 L336 481.2 L337 481.2 L338 481.2 L339 481.2 L340 481.2 L341 481.3 L342 481.3 L343 481.3 L344 481.3 L345 481.3 L346 481.2 L347 481.2 L348 481.2 L349 481.2 L350 481.2 L351 481.2 L352 481.2 L353 481.2 L354 481.2 L355 481.2 L356 481.2 L357 481.2 L358 481.2 L359 481.2 L360 481.3 L361 481.3 L362 481.3 L363 481.2 L364 481.2 L365 481.2 L366 481.2 L367 481.2 L368 481.2 L369 481.2 L370 481.3 L371 481.3 L372 481.3 L373 481.3 L374 481.3 L375 481.2 L376 481.2 L377 481.2 L378 481.2 L379 481.2 L380 481.2 L381 481.2 L382 481.2 L383 481.3 L384 481.3 L385 481.3 L386 481.3 L387 481.3 L388 481.2 L389 481.2 L390 481.2 L391 481.2 L392 481.2 L393 481.2 L394 481.3 L395 481.3 L396 481.3 L397 481.3 L398 481.3 L399 481.2 L400 481.2 L401 481.2 L402 481.2 L403 481.2 L404 481.2 L405 481.3 L406 481.3 L407 481.3 L408 481.3 L409 481.2 L410 481.2 L411 481.1 L412 481.1 L413 481.1 L414 481.1 L415 481.1 L416 481.1 L417 481.1 L418 481.1 L419 481.2 L420 481.2 L421 481.2 L422 481.2 L423 481.2 L424 481.2 L425 481.2 L426 481.2 L427 481.2 L428 481.1 L429 481.2 L430 481.2 L431 481.2 L432 481.1 L433 481.1 L434 481.1 L435 481.1 L436 481.1 L437 481.1 L438 481.2 L439 481.2 L440 481.2 L441 481.2 L442 481.1 L443 481.1 L444 481.1 L445 481.1 L446 481.1 L447 481.2 L448 481.1 L449 481.1 L450 481.1 L451 481.1 L452 481.1 L453 481.1 L454 481.1 L455 481.1 L456 481.1 L457 481.1 L458 481 L459 481 L460 481 L461 481 L462 481.1 L463 481.1 L464 481.1 L465 481.1 L466 481.1 L467 481.1 L468 481.1 L469 481.1 L470 481.1 L471 481.1 L472 481.1 L473 481.1 L474 481.1 L475 481.2 L476 481.2 L477 481.2 L478 481.2 L479 481.2 L480 481.2 L481 481.2 L482 481.2 L483 481.2 L484 481.2 L485 481.2 L486 481.1 L487 481.1 L488 481.1 L489 481.1 L490 481.1 L491 481.1 L492 481.1 L493 481.1 L494 481.1 L495 481.1 L496 481.1 L497 481.1 L498 481.1 L499 481.1 L500 481.1 L501 481.2 L502 481.2 L503 481.2 L504 481.2 L505 481.1 L506 481.1 L507 481.1 L508 481.1 L509 481.1 L510 481.1 L511 481.1 L512 481.1 L513 481 L514 481 L515 481 L516 480.9 L517 480.9 L518 480.9 L519 481 L520 481 L521 481 L522 481 L523 481 L524 481 L525 481 L526 481 L527 481 L528 481 L529 481 L530 480.9 L531 480.9 L532 480.9 L533 480.9 L534 480.9 L535 480.9 L536 480.9 L537 480.9 L538 480.9 L539 480.9 L540 480.9 L541 480.9 L542 480.9 L543 480.9 L544 480.9 L545 480.9 L546 480.9 L547 480.8 L548 480.8 L549 480.7 L550 480.6 L551 480.6 L552 480.5 L553 480.4 L554 480.3 L555 480.3 L556 480.2 L557 480.1 L558 480.1 L559 480 L560 479.9 L561 479.7 L562 479.6 L563 479.4 L564 479.3 L565 479.1 L566 478.9 L567 478.7 L568 478.4 L569 478.2 L570 477.9 L571 477.6 L572 477.3 L573 477 L574 476.5 L575 476.1 L576 475.6 L577 475.1 L578 474.6 L579 474.1 L580 473.6 L581 473 L582 472.5 L583 472 L584 471.4 L585 470.7 L586 470 L587 469.3 L588 468.5 L589 467.6 L590 466.7 L591 465.8 L592 464.9 L593 463.9 L594 463 L595 462 L596 461.1 L597 460.2 L598 459.3 L599 458.3 L600 457.3 L601 456.3 L602 455.2 L603 454 L604 452.9 L605 451.9 L606 450.9 L607 449.8 L608 448.7 L609 447.5 L610 446.3 L611 445 L612 443.7 L613 442.4 L614 440.9 L615 439.4 L616 437.9 L617 436.4 L618 435 L619 433.6 L620 432.1 L621 430.6 L622 429 L623 427.4 L624 425.8 L625 424.3 L626 422.8 L627 421.4 L628 419.9 L629 418.3 L630 416.7 L631 415.1 L632 413.4 L633 411.8 L634 410.3 L635 408.9 L636 407.5 L637 406 L638 404.6 L639 403 L640 401.4 L641 399.8 L642 398.2 L643 396.8 L644 395.4 L645 394 L646 392.7 L647 391.3 L648 390.1 L649 388.8 L650 387.6 L651 386.3 L652 384.9 L653 383.7 L654 382.4 L655 381.1 L656 379.7 L657 378.2 L658 376.8 L659 375.4 L660 374 L661 372.6 L662 371 L663 369.5 L664 368 L665 366.6 L666 365.4 L667 364.2 L668 363 L669 361.8 L670 360.6 L671 359.3 L672 358.1 L673 356.7 L674 355.4 L675 354 L676 352.6 L677 351.4 L678 350.3 L679 349.2 L680 348.3 L681 347.4 L682 346.4 L683 345.6 L684 344.7 L685 343.8 L686 342.9 L687 342.1 L688 341.3 L689 340.6 L690 339.9 L691 339.1 L692 338.3 L693 337.5 L694 336.6 L695 335.8 L696 335 L697 334.1 L698 333.2 L699 332.3 L700 331.4 L701 330.7 L702 330 L703 329.5 L704 328.9 L705 328.3 L706 327.7 L707 327 L708 326.3 L709 325.5 L710 324.8 L711 324.1 L712 323.5 L713 323.2 L714 323 L715 322.9 L716 322.8 L717 322.7 L718 322.6 L719 322.4 L720 322.2 L721 322 L722 321.7 L723 321.5 L724 321.4 L725 321.3 L726 321.4 L727 321.5 L728 321.7 L729 321.8 L730 322 L731 322.2 L732 322.4 L733 322.7 L734 323 L735 323.3 L736 323.4 L737 323.5 L738 323.6 L739 323.7 L740 323.9 L741 324 L742 324.1 L743 324.3 L744 324.5 L745 324.8 L746 325.3 L747 325.9 L748 326.6 L749 327.2 L750 327.8 L751 328.3 L752 328.8 L753 329.3 L754 329.9 L755 330.6 L756 331.3 L757 331.9 L758 332.4 L759 332.8 L760 333.3 L761 333.8 L762 334.4 L763 335.1 L764 335.9 L765 336.7 L766 337.5 L767 338.3 L768 339.2 L769 340.1 L770 341.1 L771 341.9 L772 342.8 L773 343.7 L774 344.5 L775 345.3 L776 346.1 L777 346.7 L778 347.5 L779 348.3 L780 349.1 L781 349.9 L782 350.7 L783 351.5 L784 352.5 L785 353.4 L786 354.3 L787 355.2 L788 356 L789 356.9 L790 357.8 L791 358.8 L792 359.8 L793 360.9 L794 361.9 L795 363 L796 364.1 L797 365.1 L798 366.1 L799 367 L800 368.1 L801 369.1 L802 370.1 L803 371.2 L804 372.3 L805 373.5 L806 374.7 L807 375.8 L808 376.8 L809 377.9 L810 379 L811 380.2 L812 381.3 L813 382.3 L814 383.3 L815 384.4 L816 385.5 L817 386.8 L818 388 L819 389.2 L820 390.3 L821 391.3 L822 392.3 L823 393.3 L824 394.5 L825 395.8 L826 397 L827 398.3 L828 399.4 L829 400.4 L830 401.4 L831 402.4 L832 403.3 L833 404.2 L834 405.1 L835 406.1 L836 407.2 L837 408.4 L838 409.6 L839 410.7 L840 411.9 L841 413.1 L842 414.3 L843 415.4 L844 416.3 L845 417.2 L846 418.1 L847 419.1 L848 420.1 L849 421 L850 421.9 L851 422.8 L852 423.7 L853 424.7 L854 425.6 L855 426.6 L856 427.5 L857 428.4 L858 429.3 L859 430.2 L860 431.1 L861 432 L862 432.9 L863 433.9 L864 434.9 L865 435.8 L866 436.7 L867 437.6 L868 438.4 L869 439.2 L870 440 L871 440.7 L872 441.4 L873 442.1 L874 442.9 L875 443.6 L876 444.3 L877 445.1 L878 445.8 L879 446.6 L880 447.3 L881 448.1 L882 448.8 L883 449.7 L884 450.5 L885 451.3 L886 452.2 L887 452.9 L888 453.6 L889 454.2 L890 454.7 L891 455.2 L892 455.7 L893 456.2 L894 456.8 L895 457.5 L896 458.2 L897 458.9 L898 459.7 L899 460.5 L900 461.2 L901 461.9 L902 462.5 L903 463 L904 463.4 L905 463.9 L906 464.3 L907 464.9 L908 465.6 L909 466.2 L910 466.8 L911 467.4 L912 467.9 L913 468.4 L914 468.8 L915 469.2 L916 469.7 L917 470.2 L918 470.8 L919 471.4 L920 471.9 L921 472.3 L922 472.6 L923 472.9 L924 473.1 L925 473.4 L926 473.7 L927 474.1 L928 474.5 L929 474.9 L930 475.2 L931 475.6 L932 475.8 L933 476.1 L934 476.3 L935 476.5 L936 476.7 L937 476.9 L938 477.1 L939 477.4 L940 477.7 L941 478 L942 478.3 L943 478.4 L944 478.6 L945 478.8 L946 479 L947 479.1 L948 479.1 L949 479.1 L950 479.2 L951 479.2 L952 479.2 L953 479.2 L954 479.2 L955 479 L956 478.9 L957 478.8 L958 478.6 L959 478.5 L960 478.4 L961 478.3 L962 478.2 L963 478.3 L964 478.4 L965 478.6 L966 478.8 L967 479 L968 479.2 L969 479.4 L970 479.6 L971 479.7 L972 479.8 L973 479.9 L974 480 L975 480.2 L976 480.3 L977 480.3 L978 480.4 L979 480.5 L980 480.6 L981 480.7 L982 480.7 L983 480.8 L984 480.8 L985 480.8 L986 480.7 L987 480.7 L988 480.7 L989 480.7 L990 480.7 L991 480.7 L992 480.8 L993 480.8 L994 480.8 L995 480.8 L996 480.8 L997 480.9 L998 480.9 L999 481 L1000 481 L1001 481 L1002 481 L1003 481 L1004 480.9 L1005 481 L1006 481 L1007 481 L1008 480.9 L1009 480.9 L1010 480.9 L1011 481 L1012 481 L1013 481 L1014 481 L1015 481 L1016 481 L1017 481 L1018 481 L1019 481.1 L1020 481 L1021 481 L1022 480.9 L1023 480.8 L1024 480.7 L1025 480.7 L1026 480.5 L1027 480.4 L1028 480.1 L1029 479.7 L1030 479.2 L1031 478.6 L1032 477.8 L1033 476.8 L1034 475.4 L1035 473.7 L1036 471.7 L1037 469.1 L1038 466 L1039 462.1 L1040 457.5 L1041 452 L1042 445.5 L1043 438.1 L1044 429.6 L1045 420 L1046 409.4 L1047 397.6 L1048 384.9 L1049 371.2 L1050 356.9 L1051 341.9 L1052 326.6 L1053 311.2 L1054 296 L1055 281.3 L1056 267.5 L1057 254.8 L1058 243.7 L1059 234.3 L1060 227 L1061 222 L1062 219.3 L1063 219 L1064 220.9 L1065 224.8 L1066 230.8 L1067 238.8 L1068 248.7 L1069 260.3 L1070 273.3 L1071 287.3 L1072 302.1 L1073 317.4 L1074 332.7 L1075 347.8 L1076 362.5 L1077 376.5 L1078 389.7 L1079 401.9 L1080 413 L1081 423 L1082 431.9 L1083 439.7 L1084 446.5 L1085 452.4 L1086 457.3 L1087 461.5 L1088 465 L1089 467.9 L1090 470.3 L1091 472.2 L1092 473.8 L1093 475 L1094 476 L1095 476.8 L1096 477.4 L1097 477.8 L1098 478.2 L1099 478.5 L1100 478.7 L1101 479 L1102 479.1 L1103 479.3 L1104 479.4 L1105 479.4 L1106 479.5 L1107 479.6 L1108 479.7 L1109 479.8 L1110 479.9 L1111 480 L1112 480 L1113 480 L1114 480 L1115 480 L1116 480 L1117 480 L1118 480 L1119 480 L1120 480.1 L1121 480.2 L1122 480.2 L1123 480.3 L1124 480.3 L1125 480.3 L1126 480.3 L1127 480.3 L1128 480.3 L1129 480.3 L1130 480.3 L1131 480.3 L1132 480.3 L1133 480.4 L1134 480.4 L1135 480.5 L1136 480.5 L1137 480.5 L1138 480.5 L1139 480.4 L1140 480.4 L1141 480.4 L1142 480.4 L1143 480.4 L1144 480.4 L1145 480.4 L1146 480.5 L1147 480.5 L1148 480.5 L1149 480.6 L1150 480.6 L1151 480.6 L1152 480.6 L1153 480.6 L1154 480.6 L1155 480.6 L1156 480.7 L1157 480.7 L1158 480.7 L1159 480.7 L1160 480.7 L1161 480.7 L1162 480.7 L1163 480.6 L1164 480.6 L1165 480.6 L1166 480.6 L1167 480.6 L1168 480.7 L1169 480.7 L1170 480.7 L1171 480.7 L1172 480.7 L1173 480.7 L1174 480.7 L1175 480.7 L1176 480.8 L1177 480.8 L1178 480.8 L1179 480.8 L1180 480.8 L1181 480.7 L1182 480.8 L1183 480.8 L1184 480.8 L1185 480.8 L1186 480.8 L1187 480.8 L1188 480.9 L1189 480.9 L1190 480.9 L1191 480.9 L1192 480.9 L1193 480.9 L1194 480.9 L1195 480.9 L1196 480.9 L1197 480.9 L1198 481 L1199 481 L1200 481 L1201 481 L1202 481 L1203 481 L1204 481 L1205 481 L1206 481 L1207 481.1 L1208 481.1 L1209 481.1 L1210 481.1 L1211 481.1 L1212 481 L1213 481 L1214 481 L1215 481 L1216 481 L1217 481.1 L1218 481.2 L1219 481.3 L1220 481.3 L1221 481.3 L1222 481.3 L1223 481.3 L1224 481.3 L1225 481.3 L1226 481.3 L1227 481.3 L1228 481.3 L1229 481.3 L1230 481.3 L1231 481.3 L1232 481.3 L1233 481.3 L1234 481.3 L1235 481.3 L1236 481.3 L1237 481.3 L1238 481.4 L1239 481.4 L1240 481.4 L1241 481.4 L1242 481.4 L1243 481.4 L1244 481.4 L1245 481.4 L1246 481.5 L1247 481.5 L1248 481.5 L1249 481.4 L1250 481.4 L1251 481.4 L1252 481.4 L1253 481.5 L1254 481.5 L1255 481.4 L1256 481.4 L1257 481.4 L1258 481.4 L1259 481.4 L1260 481.4 L1261 481.5 L1262 481.5 L1263 481.6 L1264 481.6 L1265 481.5 L1266 481.5 L1267 481.5 L1268 481.5 L1269 481.5 L1270 481.5 L1271 481.5 L1272 481.5 L1273 481.5 L1274 481.5 L1275 481.5 L1276 481.4 L1277 481.4 L1278 481.4 L1279 481.5 L1280 481.5 L1281 481.5 L1282 481.5 L1283 481.5 L1284 481.5 L1285 481.5 L1286 481.5 L1287 481.6 L1288 481.6 L1289 481.6 L1290 481.6 L1291 481.6 L1292 481.6 L1293 481.5 L1294 481.5 L1295 481.5 L1296 481.5 L1297 481.6 L1298 481.6 L1299 481.6 L1300 481.6 L1301 481.6 L1302 481.5 L1303 481.5 L1304 481.5 L1305 481.5 L1306 481.6 L1307 481.6 L1308 481.6 L1309 481.6 L1310 481.5 L1311 481.5 L1312 481.5 L1313 481.5 L1314 481.5 L1315 481.5 L1316 481.5 L1317 481.5 L1318 481.6 L1319 481.6 L1320 481.6 L1321 481.6 L1322 481.6 L1323 481.6 L1324 481.6 L1325 481.5 L1326 481.5 L1327 481.5 L1328 481.5 L1329 481.4 L1330 481.4 L1331 481.4 L1332 481.5 L1333 481.5 L1334 481.5 L1335 481.5 L1336 481.5 L1337 481.5 L1338 481.5 L1339 481.4 L1340 481.4 L1341 481.4 L1342 481.4 L1343 481.4 L1344 481.5 L1345 481.5 L1346 481.6 L1347 481.6 L1348 481.6 L1349 481.5 L1350 481.5 L1351 481.5 L1352 481.5 L1353 481.4 L1354 481.4 L1355 481.4 L1356 481.4 L1357 481.4 L1358 481.4 L1359 481.5 L1360 481.5 L1361 481.5 L1362 481.5 L1363 481.5 L1364 481.5 L1365 481.5 L1366 481.5 L1367 481.4 L1368 481.4 L1369 481.5 L1370 481.5 L1371 481.5 L1372 481.4 L1373 481.4 L1374 481.4 L1375 481.4 L1376 481.4 L1377 481.4 L1378 481.4 L1379 481.4 L1380 481.4 L1381 481.5 L1382 481.5 L1383 481.5 L1384 481.5 L1385 481.5 L1386 481.4 L1387 481.4 L1388 481.4 L1389 481.5 L1390 481.5 L1391 481.5 L1392 481.5 L1393 481.5 L1394 481.6 L1395 481.6 L1396 481.6 L1397 481.6 L1398 481.6 L1399 481.6 L1400 481.6 L1401 481.6 L1402 481.6 L1403 481.6 L1404 481.6 L1405 481.5 L1406 481.5 L1407 481.5 L1408 481.5 L1409 481.4 L1410 481.4 L1411 481.4 L1412 481.4 L1413 481.4 L1414 481.4 L1415 481.4 L1416 481.4 L1417 481.4 L1418 481.4 L1419 481.4 L1420 481.5 L1421 481.5 L1422 481.5 L1423 481.5 L1424 481.5 L1425 481.5 L1426 481.5 L1427 481.5 L1428 481.4 L1429 481.4 L1430 481.4 L1431 481.4 L1432 481.4 L1433 481.4 L1434 481.4 L1435 481.4 L1436 481.4 L1437 481.4 L1438 481.4 L1439 481.4 L1440 481.4 L1441 481.4 L1442 481.4 L1443 481.4 L1444 481.4 L1445 481.5 L1446 481.5 L1447 481.5 L1448 481.5 L1449 481.5 L1450 481.5 L1451 481.5 L1452 481.5 L1453 481.5 L1454 481.4 L1455 481.4 L1456 481.4 L1457 481.4 L1458 481.4 L1459 481.4 L1460 481.4 L1461 481.4 L1462 481.4 L1463 481.5 L1464 481.5 L1465 481.5 L1466 481.5 L1467 481.5 L1468 481.5 L1469 481.4 L1470 481.4 L1471 481.5 L1472 481.5 L1473 481.5 L1474 481.5 L1475 481.5 L1476 481.5 L1477 481.5 L1478 481.5 L1479 481.5 L1480 481.6 L1481 481.6 L1482 481.5 L1483 481.5 L1484 481.4 L1485 481.4 L1486 481.4 L1487 481.3 L1488 481.3 L1489 481.3 L1490 481.3 L1491 481.3 L1492 481.3 L1493 481.3 L1494 481.4 L1495 481.4 L1496 481.4 L1497 481.4 L1498 481.4 L1499 481.4 L1500 481.4 L1501 481.4 L1502 481.4 L1503 481.4 L1504 481.3 L1505 481.3 L1506 481.3 L1507 481.3 L1508 481.3 L1509 481.3 L1510 481.3 L1511 481.3 L1512 481.3 L1513 481.3 L1514 481.3 L1515 481.3 L1516 481.3 L1517 481.2 L1518 481.2 L1519 481.2 L1520 481.3 L1521 481.3 L1522 481.3 L1523 481.3 L1524 481.2 L1525 481.2 L1526 481.2 L1527 481.2 L1528 481.2 L1529 481.2 L1530 481.2 L1531 481.2 L1532 481.2 L1533 481.2 L1534 481.2 L1535 481.2 L1536 481.2 L1537 481.2 L1538 481.2 L1539 481.2 L1540 481.2 L1541 481.1 L1542 481.1 L1543 481.1 L1544 481.1 L1545 481.2 L1546 481.2 L1547 481.3 L1548 481.3 L1549 481.2 L1550 481.2 L1551 481.2 L1552 481.2 L1553 481.2 L1554 481.2 L1555 481.2 L1556 481.2 L1557 481.2 L1558 481.2 L1559 481.2 L1560 481.2 L1561 481.1 L1562 481.1 L1563 481.1 L1564 481.2 L1565 481.2 L1566 481.3 L1567 481.3 L1568 481.3 L1569 481.3 L1570 481.3 L1571 481.3 L1572 481.2 L1573 481.2 L1574 481.1 L1575 481.1 L1576 481 L1577 481 L1578 481 L1579 481 L1580 481 L1581 481.1 L1582 481.1 L1583 481 L1584 481 L1585 481 L1586 481 L1587 481 L1588 481 L1589 481 L1590 481 L1591 481 L1592 481 L1593 481.1 L1594 481.1 L1595 481.1 L1596 481.1 L1597 481.1 L1598 481.1 L1599 481 L1600 481 L1601 481 L1602 480.9 L1603 480.9 L1604 480.9 L1605 480.9 L1606 480.9 L1607 480.9 L1608 480.9 L1609 481 L1610 481 L1611 481 L1612 481 L1613 481 L1614 481 L1615 481 L1616 481 L1617 481 L1618 480.9 L1619 480.9 L1620 480.9 L1621 480.9 L1622 480.8 L1623 480.8 L1624 480.8" fill="none" stroke="#000" stroke-width="1.8" stroke-linejoin="round" stroke-linecap="butt"/>
<line x1="536.8" y1="481" x2="953.4" y2="479.2" stroke="#ff0000" stroke-width="1.5" stroke-linecap="butt"/>
<line x1="1019.2" y1="481" x2="1126.5" y2="480.4" stroke="#ff0000" stroke-width="1.5" stroke-linecap="butt"/>
<line x1="536.8" y1="471.3" x2="536.8" y2="481" stroke="#0000ff" stroke-width="1.6" stroke-linecap="butt"/>
<line x1="953.4" y1="479.2" x2="953.4" y2="488.4" stroke="#0000ff" stroke-width="1.6" stroke-linecap="butt"/>
<line x1="1019.2" y1="471.3" x2="1019.2" y2="481" stroke="#0000ff" stroke-width="1.6" stroke-linecap="butt"/>
<line x1="1126.5" y1="480.4" x2="1126.5" y2="489.6" stroke="#0000ff" stroke-width="1.6" stroke-linecap="butt"/>
<text transform="translate(83.5 379.8) scale(1 1.025)" font-size="29.4" text-anchor="start" fill="#ff00ff" stroke="#ff00ff" stroke-width="0">3</text>
<text transform="translate(83.5 434.6) scale(1 1.025)" font-size="29.4" text-anchor="start" fill="#0000ff" stroke="#0000ff" stroke-width="0">2</text>
<text transform="translate(83.5 490.6) scale(1 1.025)" font-size="29.4" text-anchor="start" fill="#000" stroke="#000" stroke-width="0">1</text>
<text transform="translate(646 112.2) scale(1 1.025)" font-size="29.4" text-anchor="start" fill="#000" stroke="#000" stroke-width="0.3">HA 8-15 kDa GPC Standard</text>
<text transform="translate(600 239.6) scale(1 1.025)" font-size="29.4" text-anchor="start" fill="#000" stroke="#000" stroke-width="0.3">HA 10-30 kDa GPC Standard</text>
<text transform="translate(566 315.8) scale(1 1.025)" font-size="29.4" text-anchor="start" fill="#000" stroke="#000" stroke-width="0.3">HA 30-50 kDa GPC Standard</text>
<text transform="translate(1076.9 50.8) scale(1 1.025)" font-size="29.4" text-anchor="start" fill="#000" stroke="#000" stroke-width="0.3">Ammonium Acetate</text>
<line x1="82.4" y1="669.5" x2="1622.5" y2="669.5" stroke="#000" stroke-width="1.8" stroke-linecap="butt"/>
<line x1="1622.5" y1="668.6" x2="1622.5" y2="1272.8" stroke="#000" stroke-width="1.8" stroke-linecap="butt"/>
<line x1="82.4" y1="668.6" x2="82.4" y2="1272.8" stroke="#000" stroke-width="1.8" stroke-linecap="butt"/>
<line x1="82.4" y1="1271.9" x2="1622.5" y2="1271.9" stroke="#000" stroke-width="1.8" stroke-linecap="butt"/>
<line x1="73.4" y1="1259.2" x2="82.4" y2="1259.2" stroke="#000" stroke-width="1.7" stroke-linecap="butt"/>
<line x1="73.4" y1="1246.7" x2="82.4" y2="1246.7" stroke="#000" stroke-width="1.7" stroke-linecap="butt"/>
<line x1="73.4" y1="1234.1" x2="82.4" y2="1234.1" stroke="#000" stroke-width="1.7" stroke-linecap="butt"/>
<line x1="73.4" y1="1209.1" x2="82.4" y2="1209.1" stroke="#000" stroke-width="1.7" stroke-linecap="butt"/>
<line x1="73.4" y1="1196.5" x2="82.4" y2="1196.5" stroke="#000" stroke-width="1.7" stroke-linecap="butt"/>
<line x1="73.4" y1="1184" x2="82.4" y2="1184" stroke="#000" stroke-width="1.7" stroke-linecap="butt"/>
<line x1="73.4" y1="1171.4" x2="82.4" y2="1171.4" stroke="#000" stroke-width="1.7" stroke-linecap="butt"/>
<line x1="73.4" y1="1146.3" x2="82.4" y2="1146.3" stroke="#000" stroke-width="1.7" stroke-linecap="butt"/>
<line x1="73.4" y1="1133.8" x2="82.4" y2="1133.8" stroke="#000" stroke-width="1.7" stroke-linecap="butt"/>
<line x1="73.4" y1="1121.3" x2="82.4" y2="1121.3" stroke="#000" stroke-width="1.7" stroke-linecap="butt"/>
<line x1="73.4" y1="1108.7" x2="82.4" y2="1108.7" stroke="#000" stroke-width="1.7" stroke-linecap="butt"/>
<line x1="73.4" y1="1083.6" x2="82.4" y2="1083.6" stroke="#000" stroke-width="1.7" stroke-linecap="butt"/>
<line x1="73.4" y1="1071.1" x2="82.4" y2="1071.1" stroke="#000" stroke-width="1.7" stroke-linecap="butt"/>
<line x1="73.4" y1="1058.5" x2="82.4" y2="1058.5" stroke="#000" stroke-width="1.7" stroke-linecap="butt"/>
<line x1="73.4" y1="1046" x2="82.4" y2="1046" stroke="#000" stroke-width="1.7" stroke-linecap="butt"/>
<line x1="73.4" y1="1020.9" x2="82.4" y2="1020.9" stroke="#000" stroke-width="1.7" stroke-linecap="butt"/>
<line x1="73.4" y1="1008.4" x2="82.4" y2="1008.4" stroke="#000" stroke-width="1.7" stroke-linecap="butt"/>
<line x1="73.4" y1="995.8" x2="82.4" y2="995.8" stroke="#000" stroke-width="1.7" stroke-linecap="butt"/>
<line x1="73.4" y1="983.3" x2="82.4" y2="983.3" stroke="#000" stroke-width="1.7" stroke-linecap="butt"/>
<line x1="73.4" y1="958.2" x2="82.4" y2="958.2" stroke="#000" stroke-width="1.7" stroke-linecap="butt"/>
<line x1="73.4" y1="945.7" x2="82.4" y2="945.7" stroke="#000" stroke-width="1.7" stroke-linecap="butt"/>
<line x1="73.4" y1="933.1" x2="82.4" y2="933.1" stroke="#000" stroke-width="1.7" stroke-linecap="butt"/>
<line x1="73.4" y1="920.6" x2="82.4" y2="920.6" stroke="#000" stroke-width="1.7" stroke-linecap="butt"/>
<line x1="73.4" y1="895.5" x2="82.4" y2="895.5" stroke="#000" stroke-width="1.7" stroke-linecap="butt"/>
<line x1="73.4" y1="883" x2="82.4" y2="883" stroke="#000" stroke-width="1.7" stroke-linecap="butt"/>
<line x1="73.4" y1="870.4" x2="82.4" y2="870.4" stroke="#000" stroke-width="1.7" stroke-linecap="butt"/>
<line x1="73.4" y1="857.9" x2="82.4" y2="857.9" stroke="#000" stroke-width="1.7" stroke-linecap="butt"/>
<line x1="73.4" y1="832.8" x2="82.4" y2="832.8" stroke="#000" stroke-width="1.7" stroke-linecap="butt"/>
<line x1="73.4" y1="820.2" x2="82.4" y2="820.2" stroke="#000" stroke-width="1.7" stroke-linecap="butt"/>
<line x1="73.4" y1="807.7" x2="82.4" y2="807.7" stroke="#000" stroke-width="1.7" stroke-linecap="butt"/>
<line x1="73.4" y1="795.2" x2="82.4" y2="795.2" stroke="#000" stroke-width="1.7" stroke-linecap="butt"/>
<line x1="73.4" y1="770.1" x2="82.4" y2="770.1" stroke="#000" stroke-width="1.7" stroke-linecap="butt"/>
<line x1="73.4" y1="757.5" x2="82.4" y2="757.5" stroke="#000" stroke-width="1.7" stroke-linecap="butt"/>
<line x1="73.4" y1="745" x2="82.4" y2="745" stroke="#000" stroke-width="1.7" stroke-linecap="butt"/>
<line x1="73.4" y1="732.4" x2="82.4" y2="732.4" stroke="#000" stroke-width="1.7" stroke-linecap="butt"/>
<line x1="73.4" y1="707.4" x2="82.4" y2="707.4" stroke="#000" stroke-width="1.7" stroke-linecap="butt"/>
<line x1="73.4" y1="694.8" x2="82.4" y2="694.8" stroke="#000" stroke-width="1.7" stroke-linecap="butt"/>
<line x1="73.4" y1="682.3" x2="82.4" y2="682.3" stroke="#000" stroke-width="1.7" stroke-linecap="butt"/>
<line x1="64.1" y1="719.9" x2="82.4" y2="719.9" stroke="#000" stroke-width="1.7" stroke-linecap="butt"/>
<line x1="64.1" y1="782.6" x2="82.4" y2="782.6" stroke="#000" stroke-width="1.7" stroke-linecap="butt"/>
<line x1="64.1" y1="845.3" x2="82.4" y2="845.3" stroke="#000" stroke-width="1.7" stroke-linecap="butt"/>
<line x1="64.1" y1="908" x2="82.4" y2="908" stroke="#000" stroke-width="1.7" stroke-linecap="butt"/>
<line x1="64.1" y1="970.7" x2="82.4" y2="970.7" stroke="#000" stroke-width="1.7" stroke-linecap="butt"/>
<line x1="64.1" y1="1033.5" x2="82.4" y2="1033.5" stroke="#000" stroke-width="1.7" stroke-linecap="butt"/>
<line x1="64.1" y1="1096.2" x2="82.4" y2="1096.2" stroke="#000" stroke-width="1.7" stroke-linecap="butt"/>
<line x1="64.1" y1="1158.9" x2="82.4" y2="1158.9" stroke="#000" stroke-width="1.7" stroke-linecap="butt"/>
<line x1="64.1" y1="1221.6" x2="82.4" y2="1221.6" stroke="#000" stroke-width="1.7" stroke-linecap="butt"/>
<line x1="64.1" y1="669.5" x2="82.4" y2="669.5" stroke="#000" stroke-width="1.8" stroke-linecap="butt"/>
<line x1="64.1" y1="1271.9" x2="82.4" y2="1271.9" stroke="#000" stroke-width="1.8" stroke-linecap="butt"/>
<text transform="translate(64.8 801.8) scale(1 1.025)" font-size="29.4" text-anchor="end" fill="#000" stroke="#000" stroke-width="0.3">8.8</text>
<text transform="translate(64.8 864.5) scale(1 1.025)" font-size="29.4" text-anchor="end" fill="#000" stroke="#000" stroke-width="0.3">7.5</text>
<text transform="translate(64.8 927.2) scale(1 1.025)" font-size="29.4" text-anchor="end" fill="#000" stroke="#000" stroke-width="0.3">6.3</text>
<text transform="translate(64.8 989.9) scale(1 1.025)" font-size="29.4" text-anchor="end" fill="#000" stroke="#000" stroke-width="0.3">5.0</text>
<text transform="translate(64.8 1052.7) scale(1 1.025)" font-size="29.4" text-anchor="end" fill="#000" stroke="#000" stroke-width="0.3">3.8</text>
<text transform="translate(64.8 1115.4) scale(1 1.025)" font-size="29.4" text-anchor="end" fill="#000" stroke="#000" stroke-width="0.3">2.5</text>
<text transform="translate(64.8 1178.1) scale(1 1.025)" font-size="29.4" text-anchor="end" fill="#000" stroke="#000" stroke-width="0.3">1.3</text>
<text transform="translate(64.8 1291) scale(1 1.025)" font-size="29.4" text-anchor="end" fill="#000" stroke="#000" stroke-width="0.3">-1.0</text>
<line x1="82.6" y1="1271.9" x2="82.6" y2="1281.2" stroke="#000" stroke-width="1.7" stroke-linecap="butt"/>
<line x1="126.6" y1="1271.9" x2="126.6" y2="1276.6" stroke="#000" stroke-width="1.7" stroke-linecap="butt"/>
<line x1="170.6" y1="1271.9" x2="170.6" y2="1276.6" stroke="#000" stroke-width="1.7" stroke-linecap="butt"/>
<line x1="214.6" y1="1271.9" x2="214.6" y2="1276.6" stroke="#000" stroke-width="1.7" stroke-linecap="butt"/>
<line x1="258.6" y1="1271.9" x2="258.6" y2="1276.6" stroke="#000" stroke-width="1.7" stroke-linecap="butt"/>
<line x1="302.6" y1="1271.9" x2="302.6" y2="1281.2" stroke="#000" stroke-width="1.7" stroke-linecap="butt"/>
<line x1="346.6" y1="1271.9" x2="346.6" y2="1276.6" stroke="#000" stroke-width="1.7" stroke-linecap="butt"/>
<line x1="390.6" y1="1271.9" x2="390.6" y2="1276.6" stroke="#000" stroke-width="1.7" stroke-linecap="butt"/>
<line x1="434.6" y1="1271.9" x2="434.6" y2="1276.6" stroke="#000" stroke-width="1.7" stroke-linecap="butt"/>
<line x1="478.6" y1="1271.9" x2="478.6" y2="1276.6" stroke="#000" stroke-width="1.7" stroke-linecap="butt"/>
<line x1="522.6" y1="1271.9" x2="522.6" y2="1281.2" stroke="#000" stroke-width="1.7" stroke-linecap="butt"/>
<line x1="566.6" y1="1271.9" x2="566.6" y2="1276.6" stroke="#000" stroke-width="1.7" stroke-linecap="butt"/>
<line x1="610.6" y1="1271.9" x2="610.6" y2="1276.6" stroke="#000" stroke-width="1.7" stroke-linecap="butt"/>
<line x1="654.6" y1="1271.9" x2="654.6" y2="1276.6" stroke="#000" stroke-width="1.7" stroke-linecap="butt"/>
<line x1="698.6" y1="1271.9" x2="698.6" y2="1276.6" stroke="#000" stroke-width="1.7" stroke-linecap="butt"/>
<line x1="742.6" y1="1271.9" x2="742.6" y2="1281.2" stroke="#000" stroke-width="1.7" stroke-linecap="butt"/>
<line x1="786.6" y1="1271.9" x2="786.6" y2="1276.6" stroke="#000" stroke-width="1.7" stroke-linecap="butt"/>
<line x1="830.6" y1="1271.9" x2="830.6" y2="1276.6" stroke="#000" stroke-width="1.7" stroke-linecap="butt"/>
<line x1="874.6" y1="1271.9" x2="874.6" y2="1276.6" stroke="#000" stroke-width="1.7" stroke-linecap="butt"/>
<line x1="918.6" y1="1271.9" x2="918.6" y2="1276.6" stroke="#000" stroke-width="1.7" stroke-linecap="butt"/>
<line x1="962.6" y1="1271.9" x2="962.6" y2="1281.2" stroke="#000" stroke-width="1.7" stroke-linecap="butt"/>
<line x1="1006.6" y1="1271.9" x2="1006.6" y2="1276.6" stroke="#000" stroke-width="1.7" stroke-linecap="butt"/>
<line x1="1050.6" y1="1271.9" x2="1050.6" y2="1276.6" stroke="#000" stroke-width="1.7" stroke-linecap="butt"/>
<line x1="1094.6" y1="1271.9" x2="1094.6" y2="1276.6" stroke="#000" stroke-width="1.7" stroke-linecap="butt"/>
<line x1="1138.6" y1="1271.9" x2="1138.6" y2="1276.6" stroke="#000" stroke-width="1.7" stroke-linecap="butt"/>
<line x1="1182.6" y1="1271.9" x2="1182.6" y2="1281.2" stroke="#000" stroke-width="1.7" stroke-linecap="butt"/>
<line x1="1226.6" y1="1271.9" x2="1226.6" y2="1276.6" stroke="#000" stroke-width="1.7" stroke-linecap="butt"/>
<line x1="1270.6" y1="1271.9" x2="1270.6" y2="1276.6" stroke="#000" stroke-width="1.7" stroke-linecap="butt"/>
<line x1="1314.6" y1="1271.9" x2="1314.6" y2="1276.6" stroke="#000" stroke-width="1.7" stroke-linecap="butt"/>
<line x1="1358.6" y1="1271.9" x2="1358.6" y2="1276.6" stroke="#000" stroke-width="1.7" stroke-linecap="butt"/>
<line x1="1402.6" y1="1271.9" x2="1402.6" y2="1281.2" stroke="#000" stroke-width="1.7" stroke-linecap="butt"/>
<line x1="1446.6" y1="1271.9" x2="1446.6" y2="1276.6" stroke="#000" stroke-width="1.7" stroke-linecap="butt"/>
<line x1="1490.6" y1="1271.9" x2="1490.6" y2="1276.6" stroke="#000" stroke-width="1.7" stroke-linecap="butt"/>
<line x1="1534.6" y1="1271.9" x2="1534.6" y2="1276.6" stroke="#000" stroke-width="1.7" stroke-linecap="butt"/>
<line x1="1578.6" y1="1271.9" x2="1578.6" y2="1276.6" stroke="#000" stroke-width="1.7" stroke-linecap="butt"/>
<line x1="1622.6" y1="1271.9" x2="1622.6" y2="1281.2" stroke="#000" stroke-width="1.7" stroke-linecap="butt"/>
<text transform="translate(82.6 1308.7) scale(1 1.025)" font-size="29.4" text-anchor="middle" fill="#000" stroke="#000" stroke-width="0.3">0.0</text>
<text transform="translate(302.6 1308.7) scale(1 1.025)" font-size="29.4" text-anchor="middle" fill="#000" stroke="#000" stroke-width="0.3">5.0</text>
<text transform="translate(522.6 1308.7) scale(1 1.025)" font-size="29.4" text-anchor="middle" fill="#000" stroke="#000" stroke-width="0.3">10.0</text>
<text transform="translate(742.6 1308.7) scale(1 1.025)" font-size="29.4" text-anchor="middle" fill="#000" stroke="#000" stroke-width="0.3">15.0</text>
<text transform="translate(962.6 1308.7) scale(1 1.025)" font-size="29.4" text-anchor="middle" fill="#000" stroke="#000" stroke-width="0.3">20.0</text>
<text transform="translate(1182.6 1308.7) scale(1 1.025)" font-size="29.4" text-anchor="middle" fill="#000" stroke="#000" stroke-width="0.3">25.0</text>
<text transform="translate(1402.6 1308.7) scale(1 1.025)" font-size="29.4" text-anchor="middle" fill="#000" stroke="#000" stroke-width="0.3">30.0</text>
<text transform="translate(1622.6 1308.7) scale(1 1.025)" font-size="29.4" text-anchor="middle" fill="#000" stroke="#000" stroke-width="0.3">35.0</text>
<text transform="translate(83.7 697.8) scale(1 1.025)" font-size="29.4" text-anchor="start" fill="#000" stroke="#000" stroke-width="0.3">pA</text>
<text transform="translate(1614.2 1254.3) scale(1 1.025)" font-size="29.4" text-anchor="end" fill="#000" stroke="#000" stroke-width="0.3">min</text>
<text transform="translate(1551 745.3) scale(1 1.0)" font-size="47" text-anchor="start" fill="#000" stroke="#000" stroke-width="0.3" font-weight="bold">b</text>
<path d="M82.6 1221.7 L83.6 1221.6 L84.6 1221.5 L85.6 1221.4 L86.6 1221.3 L87.6 1221.3 L88.6 1221.3 L89.6 1221.3 L90.6 1221.4 L91.6 1221.5 L92.6 1221.6 L93.6 1221.7 L94.6 1221.8 L95.6 1221.7 L96.6 1221.7 L97.6 1221.6 L98.6 1221.4 L99.6 1221.4 L100.6 1221.3 L101.6 1221.3 L102.6 1221.3 L103.6 1221.4 L104.6 1221.4 L105.6 1221.5 L106.6 1221.5 L107.6 1221.5 L108.6 1221.5 L109.6 1221.5 L110.6 1221.6 L111.6 1221.6 L112.6 1221.5 L113.6 1221.4 L114.6 1221.3 L115.6 1221.1 L116.6 1221 L117.6 1220.9 L118.6 1220.9 L119.6 1221 L120.6 1221 L121.6 1221.1 L122.6 1221.1 L123.6 1221.1 L124.6 1221 L125.6 1221 L126.6 1221 L127.6 1221 L128.6 1221 L129.6 1221.2 L130.6 1221.4 L131.6 1221.6 L132.6 1221.8 L133.6 1222 L134.6 1222 L135.6 1222 L136.6 1221.9 L137.6 1221.8 L138.6 1221.6 L139.6 1221.5 L140.6 1221.5 L141.6 1221.5 L142.6 1221.7 L143.6 1221.8 L144.6 1221.9 L145.6 1221.9 L146.6 1221.9 L147.6 1221.9 L148.6 1221.9 L149.6 1221.9 L150.6 1221.9 L151.6 1222 L152.6 1222.1 L153.6 1222.2 L154.6 1222.2 L155.6 1222.2 L156.6 1222.2 L157.6 1222.1 L158.6 1222 L159.6 1221.9 L160.6 1221.8 L161.6 1221.7 L162.6 1221.7 L163.6 1221.6 L164.6 1221.6 L165.6 1221.6 L166.6 1221.5 L167.6 1221.4 L168.6 1221.2 L169.6 1221.1 L170.6 1220.9 L171.6 1220.9 L172.6 1220.9 L173.6 1221 L174.6 1221.1 L175.6 1221.3 L176.6 1221.4 L177.6 1221.6 L178.6 1221.7 L179.6 1221.8 L180.6 1221.9 L181.6 1221.9 L182.6 1222 L183.6 1222 L184.6 1221.9 L185.6 1221.9 L186.6 1221.9 L187.6 1221.8 L188.6 1221.8 L189.6 1221.7 L190.6 1221.7 L191.6 1221.7 L192.6 1221.7 L193.6 1221.7 L194.6 1221.7 L195.6 1221.8 L196.6 1221.8 L197.6 1221.9 L198.6 1221.9 L199.6 1221.9 L200.6 1221.8 L201.6 1221.7 L202.6 1221.6 L203.6 1221.6 L204.6 1221.5 L205.6 1221.5 L206.6 1221.5 L207.6 1221.5 L208.6 1221.6 L209.6 1221.6 L210.6 1221.7 L211.6 1221.8 L212.6 1221.9 L213.6 1221.9 L214.6 1221.9 L215.6 1221.9 L216.6 1221.8 L217.6 1221.7 L218.6 1221.6 L219.6 1221.5 L220.6 1221.5 L221.6 1221.4 L222.6 1221.5 L223.6 1221.6 L224.6 1221.7 L225.6 1221.8 L226.6 1221.9 L227.6 1222 L228.6 1222 L229.6 1222 L230.6 1221.9 L231.6 1221.9 L232.6 1221.8 L233.6 1221.8 L234.6 1221.7 L235.6 1221.7 L236.6 1221.7 L237.6 1221.7 L238.6 1221.7 L239.6 1221.7 L240.6 1221.7 L241.6 1221.7 L242.6 1221.7 L243.6 1221.7 L244.6 1221.8 L245.6 1221.8 L246.6 1221.8 L247.6 1221.8 L248.6 1221.8 L249.6 1221.8 L250.6 1221.8 L251.6 1221.7 L252.6 1221.6 L253.6 1221.5 L254.6 1221.4 L255.6 1221.4 L256.6 1221.4 L257.6 1221.4 L258.6 1221.5 L259.6 1221.7 L260.6 1221.8 L261.6 1221.9 L262.6 1221.9 L263.6 1221.8 L264.6 1221.7 L265.6 1221.5 L266.6 1221.4 L267.6 1221.3 L268.6 1221.3 L269.6 1221.3 L270.6 1221.3 L271.6 1221.4 L272.6 1221.4 L273.6 1221.5 L274.6 1221.6 L275.6 1221.7 L276.6 1221.9 L277.6 1222 L278.6 1222.1 L279.6 1222.1 L280.6 1222.1 L281.6 1222 L282.6 1222 L283.6 1222.1 L284.6 1222.1 L285.6 1222.2 L286.6 1222.3 L287.6 1222.3 L288.6 1222.3 L289.6 1222.3 L290.6 1222.2 L291.6 1222.2 L292.6 1222.2 L293.6 1222.2 L294.6 1222.3 L295.6 1222.3 L296.6 1222.3 L297.6 1222.2 L298.6 1222.1 L299.6 1222.1 L300.6 1222 L301.6 1221.9 L302.6 1221.9 L303.6 1221.9 L304.6 1221.9 L305.6 1221.9 L306.6 1221.9 L307.6 1221.9 L308.6 1221.9 L309.6 1221.9 L310.6 1222 L311.6 1222.1 L312.6 1222.2 L313.6 1222.3 L314.6 1222.4 L315.6 1222.4 L316.6 1222.4 L317.6 1222.3 L318.6 1222.2 L319.6 1222.2 L320.6 1222.2 L321.6 1222.2 L322.6 1222.4 L323.6 1222.5 L324.6 1222.7 L325.6 1222.8 L326.6 1222.9 L327.6 1222.9 L328.6 1222.9 L329.6 1222.8 L330.6 1222.6 L331.6 1222.3 L332.6 1222.1 L333.6 1221.9 L334.6 1221.7 L335.6 1221.6 L336.6 1221.7 L337.6 1221.7 L338.6 1221.9 L339.6 1222 L340.6 1222.2 L341.6 1222.3 L342.6 1222.4 L343.6 1222.4 L344.6 1222.4 L345.6 1222.3 L346.6 1222.3 L347.6 1222.2 L348.6 1222.1 L349.6 1222 L350.6 1222 L351.6 1222 L352.6 1222 L353.6 1222.1 L354.6 1222.1 L355.6 1222.1 L356.6 1222.1 L357.6 1222 L358.6 1221.9 L359.6 1221.8 L360.6 1221.8 L361.6 1221.8 L362.6 1221.9 L363.6 1222 L364.6 1222.2 L365.6 1222.3 L366.6 1222.4 L367.6 1222.5 L368.6 1222.5 L369.6 1222.4 L370.6 1222.3 L371.6 1222.2 L372.6 1222 L373.6 1221.7 L374.6 1221.5 L375.6 1221.4 L376.6 1221.3 L377.6 1221.3 L378.6 1221.4 L379.6 1221.5 L380.6 1221.6 L381.6 1221.6 L382.6 1221.6 L383.6 1221.6 L384.6 1221.6 L385.6 1221.6 L386.6 1221.6 L387.6 1221.6 L388.6 1221.7 L389.6 1221.8 L390.6 1221.8 L391.6 1221.9 L392.6 1221.8 L393.6 1221.8 L394.6 1221.6 L395.6 1221.5 L396.6 1221.4 L397.6 1221.3 L398.6 1221.3 L399.6 1221.4 L400.6 1221.5 L401.6 1221.7 L402.6 1221.8 L403.6 1221.8 L404.6 1221.8 L405.6 1221.8 L406.6 1221.7 L407.6 1221.7 L408.6 1221.7 L409.6 1221.8 L410.6 1221.9 L411.6 1221.9 L412.6 1222 L413.6 1221.9 L414.6 1221.9 L415.6 1221.8 L416.6 1221.7 L417.6 1221.6 L418.6 1221.5 L419.6 1221.5 L420.6 1221.5 L421.6 1221.6 L422.6 1221.6 L423.6 1221.7 L424.6 1221.8 L425.6 1221.8 L426.6 1221.7 L427.6 1221.6 L428.6 1221.6 L429.6 1221.5 L430.6 1221.5 L431.6 1221.5 L432.6 1221.6 L433.6 1221.7 L434.6 1221.7 L435.6 1221.7 L436.6 1221.7 L437.6 1221.6 L438.6 1221.6 L439.6 1221.6 L440.6 1221.6 L441.6 1221.7 L442.6 1221.8 L443.6 1221.9 L444.6 1222 L445.6 1222.1 L446.6 1222.1 L447.6 1222.2 L448.6 1222.3 L449.6 1222.4 L450.6 1222.5 L451.6 1222.6 L452.6 1222.7 L453.6 1222.7 L454.6 1222.7 L455.6 1222.7 L456.6 1222.6 L457.6 1222.6 L458.6 1222.5 L459.6 1222.5 L460.6 1222.4 L461.6 1222.3 L462.6 1222.2 L463.6 1222.2 L464.6 1222.2 L465.6 1222.3 L466.6 1222.3 L467.6 1222.4 L468.6 1222.5 L469.6 1222.5 L470.6 1222.6 L471.6 1222.6 L472.6 1222.6 L473.6 1222.6 L474.6 1222.7 L475.6 1222.8 L476.6 1222.9 L477.6 1223 L478.6 1223.1 L479.6 1223 L480.6 1222.9 L481.6 1222.8 L482.6 1222.7 L483.6 1222.6 L484.6 1222.5 L485.6 1222.4 L486.6 1222.3 L487.6 1222.1 L488.6 1221.9 L489.6 1221.7 L490.6 1221.5 L491.6 1221.3 L492.6 1221.2 L493.6 1221 L494.6 1220.9 L495.6 1220.7 L496.6 1220.5 L497.6 1220.1 L498.6 1219.7 L499.6 1219.1 L500.6 1218.3 L501.6 1217.3 L502.6 1216.2 L503.6 1214.9 L504.6 1213.4 L505.6 1211.4 L506.6 1209 L507.6 1206.3 L508.6 1203.3 L509.6 1199.7 L510.6 1195.1 L511.6 1188.9 L512.6 1180.8 L513.6 1171.4 L514.6 1159.6 L515.6 1146.7 L516.6 1133.8 L517.6 1121.7 L518.6 1110.9 L519.6 1101 L520.6 1092.5 L521.6 1084.9 L522.6 1078 L523.6 1071.4 L524.6 1065.1 L525.6 1058.8 L526.6 1052.7 L527.6 1046.9 L528.6 1041.2 L529.6 1035.7 L530.6 1030.3 L531.6 1024.8 L532.6 1019.4 L533.6 1014 L534.6 1008.7 L535.6 1003.5 L536.6 998.5 L537.6 993.5 L538.6 988.5 L539.6 983.7 L540.6 979.3 L541.6 975.5 L542.6 972.3 L543.6 969.6 L544.6 967.7 L545.6 966.3 L546.6 965.8 L547.6 966.4 L548.6 967.5 L549.6 968.5 L550.6 969.7 L551.6 970.8 L552.6 970.9 L553.6 969.2 L554.6 966.9 L555.6 963.8 L556.6 960.2 L557.6 956 L558.6 951.9 L559.6 948.8 L560.6 946.4 L561.6 945.5 L562.6 945.6 L563.6 946.2 L564.6 946.9 L565.6 947.6 L566.6 948.4 L567.6 949.3 L568.6 950 L569.6 950.8 L570.6 951.6 L571.6 952.4 L572.6 953.3 L573.6 954.3 L574.6 955.2 L575.6 956.2 L576.6 957.3 L577.6 958.6 L578.6 960.3 L579.6 962.8 L580.6 966.2 L581.6 970.3 L582.6 974.6 L583.6 978.8 L584.6 983 L585.6 987.4 L586.6 992 L587.6 996.7 L588.6 1001.6 L589.6 1006.6 L590.6 1011.7 L591.6 1017.2 L592.6 1023.2 L593.6 1029.8 L594.6 1037.5 L595.6 1045 L596.6 1051.7 L597.6 1058 L598.6 1063.4 L599.6 1067.6 L600.6 1071.2 L601.6 1074.5 L602.6 1077.5 L603.6 1080.3 L604.6 1082.7 L605.6 1085 L606.6 1087.6 L607.6 1090.7 L608.6 1094.7 L609.6 1099.4 L610.6 1104 L611.6 1108.9 L612.6 1113.9 L613.6 1118.5 L614.6 1122 L615.6 1124.9 L616.6 1127.5 L617.6 1129.7 L618.6 1131.6 L619.6 1133 L620.6 1134.2 L621.6 1135.2 L622.6 1136.4 L623.6 1137.8 L624.6 1139.6 L625.6 1141.9 L626.6 1145 L627.6 1150.4 L628.6 1159 L629.6 1166.5 L630.6 1173.4 L631.6 1179.2 L632.6 1184.5 L633.6 1188.5 L634.6 1191.2 L635.6 1193.5 L636.6 1195.3 L637.6 1196.7 L638.6 1197.9 L639.6 1198.8 L640.6 1199.7 L641.6 1200.6 L642.6 1201.4 L643.6 1202.2 L644.6 1203 L645.6 1203.8 L646.6 1204.5 L647.6 1205.2 L648.6 1205.8 L649.6 1206.3 L650.6 1206.7 L651.6 1207.2 L652.6 1207.6 L653.6 1208 L654.6 1208.4 L655.6 1208.7 L656.6 1208.9 L657.6 1209.2 L658.6 1209.4 L659.6 1209.6 L660.6 1209.9 L661.6 1210.2 L662.6 1210.5 L663.6 1210.8 L664.6 1211.1 L665.6 1211.4 L666.6 1211.7 L667.6 1212 L668.6 1212.4 L669.6 1212.8 L670.6 1213.1 L671.6 1213.4 L672.6 1213.5 L673.6 1213.6 L674.6 1213.7 L675.6 1213.7 L676.6 1213.8 L677.6 1214 L678.6 1214.1 L679.6 1214.3 L680.6 1214.4 L681.6 1214.5 L682.6 1214.5 L683.6 1214.5 L684.6 1214.5 L685.6 1214.5 L686.6 1214.5 L687.6 1214.6 L688.6 1214.6 L689.6 1214.7 L690.6 1214.7 L691.6 1214.8 L692.6 1214.9 L693.6 1215 L694.6 1215.1 L695.6 1215.2 L696.6 1215.3 L697.6 1215.4 L698.6 1215.5 L699.6 1215.5 L700.6 1215.5 L701.6 1215.4 L702.6 1215.3 L703.6 1215.1 L704.6 1215 L705.6 1214.9 L706.6 1214.8 L707.6 1214.7 L708.6 1214.6 L709.6 1214.6 L710.6 1214.5 L711.6 1214.4 L712.6 1214.3 L713.6 1214.2 L714.6 1214.1 L715.6 1214 L716.6 1213.8 L717.6 1213.7 L718.6 1213.5 L719.6 1213.3 L720.6 1213.1 L721.6 1212.8 L722.6 1212.6 L723.6 1212.3 L724.6 1212 L725.6 1211.7 L726.6 1211.5 L727.6 1211.3 L728.6 1211.1 L729.6 1211 L730.6 1210.9 L731.6 1210.8 L732.6 1210.8 L733.6 1210.7 L734.6 1210.5 L735.6 1210.4 L736.6 1210.1 L737.6 1209.8 L738.6 1209.5 L739.6 1209.2 L740.6 1208.9 L741.6 1208.6 L742.6 1208.4 L743.6 1208.3 L744.6 1208.1 L745.6 1207.9 L746.6 1207.8 L747.6 1207.6 L748.6 1207.3 L749.6 1207.1 L750.6 1207 L751.6 1206.9 L752.6 1206.8 L753.6 1206.7 L754.6 1206.7 L755.6 1206.5 L756.6 1206.3 L757.6 1206 L758.6 1205.6 L759.6 1205.2 L760.6 1204.8 L761.6 1204.4 L762.6 1204.1 L763.6 1203.8 L764.6 1203.7 L765.6 1203.5 L766.6 1203.4 L767.6 1203.3 L768.6 1203.2 L769.6 1203.1 L770.6 1202.9 L771.6 1202.7 L772.6 1202.5 L773.6 1202.4 L774.6 1202.2 L775.6 1202.1 L776.6 1202 L777.6 1202 L778.6 1201.9 L779.6 1201.9 L780.6 1201.8 L781.6 1201.7 L782.6 1201.7 L783.6 1201.7 L784.6 1201.7 L785.6 1201.8 L786.6 1201.9 L787.6 1202 L788.6 1202 L789.6 1202.1 L790.6 1202.1 L791.6 1202.1 L792.6 1202 L793.6 1202 L794.6 1201.9 L795.6 1201.9 L796.6 1201.9 L797.6 1201.8 L798.6 1201.8 L799.6 1201.9 L800.6 1202 L801.6 1202.1 L802.6 1202.2 L803.6 1202.4 L804.6 1202.6 L805.6 1202.7 L806.6 1202.8 L807.6 1203 L808.6 1203.1 L809.6 1203.2 L810.6 1203.3 L811.6 1203.5 L812.6 1203.6 L813.6 1203.8 L814.6 1204 L815.6 1204.2 L816.6 1204.4 L817.6 1204.6 L818.6 1204.8 L819.6 1205 L820.6 1205.1 L821.6 1205.2 L822.6 1205.2 L823.6 1205.2 L824.6 1205.2 L825.6 1205.2 L826.6 1205.3 L827.6 1205.3 L828.6 1205.4 L829.6 1205.6 L830.6 1205.7 L831.6 1205.9 L832.6 1206 L833.6 1206.1 L834.6 1206.2 L835.6 1206.2 L836.6 1206.3 L837.6 1206.3 L838.6 1206.3 L839.6 1206.4 L840.6 1206.5 L841.6 1206.6 L842.6 1206.7 L843.6 1206.9 L844.6 1207.2 L845.6 1207.4 L846.6 1207.7 L847.6 1207.9 L848.6 1208.1 L849.6 1208.3 L850.6 1208.5 L851.6 1208.8 L852.6 1209.1 L853.6 1209.4 L854.6 1209.7 L855.6 1210 L856.6 1210.3 L857.6 1210.5 L858.6 1210.7 L859.6 1210.9 L860.6 1211.2 L861.6 1211.4 L862.6 1211.7 L863.6 1211.9 L864.6 1212.2 L865.6 1212.4 L866.6 1212.5 L867.6 1212.7 L868.6 1212.8 L869.6 1213 L870.6 1213.2 L871.6 1213.3 L872.6 1213.4 L873.6 1213.6 L874.6 1213.7 L875.6 1213.7 L876.6 1213.8 L877.6 1213.9 L878.6 1213.9 L879.6 1214 L880.6 1214.1 L881.6 1214.2 L882.6 1214.4 L883.6 1214.6 L884.6 1214.8 L885.6 1215 L886.6 1215.1 L887.6 1215.3 L888.6 1215.4 L889.6 1215.5 L890.6 1215.6 L891.6 1215.8 L892.6 1215.9 L893.6 1216.1 L894.6 1216.3 L895.6 1216.4 L896.6 1216.5 L897.6 1216.6 L898.6 1216.7 L899.6 1216.8 L900.6 1216.9 L901.6 1217 L902.6 1217.1 L903.6 1217.1 L904.6 1217.2 L905.6 1217.4 L906.6 1217.6 L907.6 1217.8 L908.6 1218.1 L909.6 1218.3 L910.6 1218.6 L911.6 1218.8 L912.6 1219 L913.6 1219.2 L914.6 1219.3 L915.6 1219.4 L916.6 1219.5 L917.6 1219.6 L918.6 1219.8 L919.6 1219.9 L920.6 1220.1 L921.6 1220.3 L922.6 1220.4 L923.6 1220.5 L924.6 1220.5 L925.6 1220.5 L926.6 1220.5 L927.6 1220.5 L928.6 1220.6 L929.6 1220.6 L930.6 1220.6 L931.6 1220.7 L932.6 1220.7 L933.6 1220.8 L934.6 1220.8 L935.6 1220.9 L936.6 1220.9 L937.6 1220.9 L938.6 1220.9 L939.6 1221 L940.6 1221.1 L941.6 1221.2 L942.6 1221.3 L943.6 1221.4 L944.6 1221.4 L945.6 1221.4 L946.6 1221.3 L947.6 1221.2 L948.6 1221.2 L949.6 1221.2 L950.6 1221.3 L951.6 1221.3 L952.6 1221.3 L953.6 1221.3 L954.6 1221.3 L955.6 1221.4 L956.6 1221.4 L957.6 1221.5 L958.6 1221.7 L959.6 1221.8 L960.6 1221.9 L961.6 1221.9 L962.6 1221.8 L963.6 1221.7 L964.6 1221.6 L965.6 1221.5 L966.6 1221.5 L967.6 1221.5 L968.6 1221.6 L969.6 1221.6 L970.6 1221.6 L971.6 1221.6 L972.6 1221.5 L973.6 1221.5 L974.6 1221.5 L975.6 1221.5 L976.6 1221.5 L977.6 1221.5 L978.6 1221.6 L979.6 1221.6 L980.6 1221.7 L981.6 1221.8 L982.6 1221.8 L983.6 1221.7 L984.6 1221.5 L985.6 1221.1 L986.6 1220.7 L987.6 1220.1 L988.6 1219.6 L989.6 1219.1 L990.6 1218.6 L991.6 1218.3 L992.6 1217.9 L993.6 1217.6 L994.6 1217.3 L995.6 1217.1 L996.6 1217 L997.6 1216.9 L998.6 1216.9 L999.6 1216.8 L1000.6 1216.8 L1001.6 1216.8 L1002.6 1216.8 L1003.6 1216.9 L1004.6 1217 L1005.6 1217.1 L1006.6 1217.3 L1007.6 1217.5 L1008.6 1217.7 L1009.6 1218 L1010.6 1218.3 L1011.6 1218.7 L1012.6 1219.1 L1013.6 1219.4 L1014.6 1219.7 L1015.6 1220 L1016.6 1220.2 L1017.6 1220.4 L1018.6 1220.5 L1019.6 1220.7 L1020.6 1220.8 L1021.6 1220.9 L1022.6 1221 L1023.6 1221.1 L1024.6 1221.1 L1025.6 1221.1 L1026.6 1221 L1027.6 1220.9 L1028.6 1220.6 L1029.6 1220.2 L1030.6 1219.7 L1031.6 1218.9 L1032.6 1217.8 L1033.6 1216.3 L1034.6 1214.3 L1035.6 1211.7 L1036.6 1208.2 L1037.6 1203.7 L1038.6 1198.1 L1039.6 1190.9 L1040.6 1182.1 L1041.6 1171.4 L1042.6 1158.5 L1043.6 1143.4 L1044.6 1125.8 L1045.6 1105.7 L1046.6 1083.1 L1047.6 1058.1 L1048.6 1031 L1049.6 1002 L1050.6 971.6 L1051.6 940.4 L1052.6 909 L1053.6 878.1 L1054.6 848.6 L1055.6 821.3 L1056.6 797 L1057.6 776.4 L1058.6 760.3 L1059.6 749.2 L1060.6 743.5 L1061.6 743.2 L1062.6 747.1 L1063.6 755.3 L1064.6 767.9 L1065.6 784.6 L1066.6 805.4 L1067.6 829.5 L1068.6 856.4 L1069.6 885.3 L1070.6 915.5 L1071.6 946.1 L1072.6 976.4 L1073.6 1005.7 L1074.6 1033.5 L1075.6 1059.4 L1076.6 1083 L1077.6 1104.2 L1078.6 1122.9 L1079.6 1139.1 L1080.6 1153.1 L1081.6 1164.8 L1082.6 1174.5 L1083.6 1182.6 L1084.6 1189.2 L1085.6 1194.6 L1086.6 1199 L1087.6 1202.6 L1088.6 1205.6 L1089.6 1207.9 L1090.6 1209.8 L1091.6 1211.2 L1092.6 1212.4 L1093.6 1213.3 L1094.6 1214 L1095.6 1214.7 L1096.6 1215.2 L1097.6 1215.7 L1098.6 1216 L1099.6 1216.4 L1100.6 1216.6 L1101.6 1216.9 L1102.6 1217.1 L1103.6 1217.3 L1104.6 1217.6 L1105.6 1217.8 L1106.6 1218.1 L1107.6 1218.3 L1108.6 1218.6 L1109.6 1218.8 L1110.6 1219 L1111.6 1219.2 L1112.6 1219.4 L1113.6 1219.5 L1114.6 1219.7 L1115.6 1219.8 L1116.6 1219.8 L1117.6 1219.8 L1118.6 1219.8 L1119.6 1219.7 L1120.6 1219.6 L1121.6 1219.5 L1122.6 1219.5 L1123.6 1219.5 L1124.6 1219.5 L1125.6 1219.6 L1126.6 1219.7 L1127.6 1219.8 L1128.6 1219.8 L1129.6 1219.9 L1130.6 1220 L1131.6 1220.1 L1132.6 1220.2 L1133.6 1220.3 L1134.6 1220.4 L1135.6 1220.5 L1136.6 1220.6 L1137.6 1220.6 L1138.6 1220.7 L1139.6 1220.7 L1140.6 1220.7 L1141.6 1220.7 L1142.6 1220.6 L1143.6 1220.6 L1144.6 1220.6 L1145.6 1220.7 L1146.6 1220.8 L1147.6 1221 L1148.6 1221.2 L1149.6 1221.4 L1150.6 1221.5 L1151.6 1221.6 L1152.6 1221.7 L1153.6 1221.8 L1154.6 1221.8 L1155.6 1221.9 L1156.6 1222 L1157.6 1222 L1158.6 1222 L1159.6 1222 L1160.6 1221.9 L1161.6 1221.8 L1162.6 1221.6 L1163.6 1221.5 L1164.6 1221.4 L1165.6 1221.4 L1166.6 1221.3 L1167.6 1221.3 L1168.6 1221.2 L1169.6 1221.1 L1170.6 1221 L1171.6 1220.8 L1172.6 1220.7 L1173.6 1220.6 L1174.6 1220.5 L1175.6 1220.5 L1176.6 1220.5 L1177.6 1220.5 L1178.6 1220.6 L1179.6 1220.6 L1180.6 1220.7 L1181.6 1220.8 L1182.6 1220.8 L1183.6 1220.9 L1184.6 1220.9 L1185.6 1220.9 L1186.6 1220.9 L1187.6 1220.9 L1188.6 1220.8 L1189.6 1220.8 L1190.6 1220.8 L1191.6 1220.9 L1192.6 1220.9 L1193.6 1221 L1194.6 1221 L1195.6 1221.1 L1196.6 1221.1 L1197.6 1221.1 L1198.6 1221.1 L1199.6 1221.1 L1200.6 1221.2 L1201.6 1221.2 L1202.6 1221.1 L1203.6 1221.1 L1204.6 1221.1 L1205.6 1221 L1206.6 1221 L1207.6 1220.9 L1208.6 1220.9 L1209.6 1220.8 L1210.6 1220.7 L1211.6 1220.6 L1212.6 1220.5 L1213.6 1220.4 L1214.6 1220.4 L1215.6 1220.3 L1216.6 1220.3 L1217.6 1220.4 L1218.6 1220.4 L1219.6 1220.4 L1220.6 1220.5 L1221.6 1220.5 L1222.6 1220.5 L1223.6 1220.5 L1224.6 1220.5 L1225.6 1220.5 L1226.6 1220.6 L1227.6 1220.6 L1228.6 1220.7 L1229.6 1220.7 L1230.6 1220.8 L1231.6 1220.9 L1232.6 1220.9 L1233.6 1220.9 L1234.6 1220.8 L1235.6 1220.8 L1236.6 1220.7 L1237.6 1220.7 L1238.6 1220.7 L1239.6 1220.7 L1240.6 1220.8 L1241.6 1220.9 L1242.6 1221 L1243.6 1221.2 L1244.6 1221.3 L1245.6 1221.4 L1246.6 1221.5 L1247.6 1221.5 L1248.6 1221.5 L1249.6 1221.4 L1250.6 1221.4 L1251.6 1221.3 L1252.6 1221.3 L1253.6 1221.3 L1254.6 1221.3 L1255.6 1221.2 L1256.6 1221.2 L1257.6 1221.1 L1258.6 1221 L1259.6 1221 L1260.6 1221 L1261.6 1221 L1262.6 1221 L1263.6 1221.1 L1264.6 1221.1 L1265.6 1221.1 L1266.6 1221.1 L1267.6 1221.1 L1268.6 1221.1 L1269.6 1221.1 L1270.6 1221 L1271.6 1220.9 L1272.6 1220.8 L1273.6 1220.7 L1274.6 1220.7 L1275.6 1220.6 L1276.6 1220.6 L1277.6 1220.6 L1278.6 1220.7 L1279.6 1220.8 L1280.6 1220.9 L1281.6 1221 L1282.6 1221.2 L1283.6 1221.3 L1284.6 1221.4 L1285.6 1221.4 L1286.6 1221.4 L1287.6 1221.4 L1288.6 1221.4 L1289.6 1221.4 L1290.6 1221.4 L1291.6 1221.4 L1292.6 1221.3 L1293.6 1221.2 L1294.6 1221.2 L1295.6 1221.1 L1296.6 1221.1 L1297.6 1221.1 L1298.6 1221.1 L1299.6 1221.2 L1300.6 1221.2 L1301.6 1221.3 L1302.6 1221.3 L1303.6 1221.4 L1304.6 1221.4 L1305.6 1221.4 L1306.6 1221.4 L1307.6 1221.3 L1308.6 1221.2 L1309.6 1221.2 L1310.6 1221.2 L1311.6 1221.2 L1312.6 1221.2 L1313.6 1221.2 L1314.6 1221.2 L1315.6 1221.2 L1316.6 1221.2 L1317.6 1221.2 L1318.6 1221.1 L1319.6 1221.1 L1320.6 1221.1 L1321.6 1221.1 L1322.6 1221.2 L1323.6 1221.3 L1324.6 1221.4 L1325.6 1221.5 L1326.6 1221.5 L1327.6 1221.5 L1328.6 1221.5 L1329.6 1221.5 L1330.6 1221.4 L1331.6 1221.3 L1332.6 1221.2 L1333.6 1221.2 L1334.6 1221.2 L1335.6 1221.3 L1336.6 1221.4 L1337.6 1221.5 L1338.6 1221.6 L1339.6 1221.6 L1340.6 1221.7 L1341.6 1221.7 L1342.6 1221.7 L1343.6 1221.7 L1344.6 1221.7 L1345.6 1221.6 L1346.6 1221.4 L1347.6 1221.3 L1348.6 1221.1 L1349.6 1221 L1350.6 1220.9 L1351.6 1220.9 L1352.6 1220.9 L1353.6 1220.9 L1354.6 1221 L1355.6 1220.9 L1356.6 1220.8 L1357.6 1220.7 L1358.6 1220.6 L1359.6 1220.5 L1360.6 1220.5 L1361.6 1220.5 L1362.6 1220.6 L1363.6 1220.7 L1364.6 1220.7 L1365.6 1220.7 L1366.6 1220.7 L1367.6 1220.7 L1368.6 1220.7 L1369.6 1220.8 L1370.6 1220.9 L1371.6 1221.1 L1372.6 1221.2 L1373.6 1221.3 L1374.6 1221.3 L1375.6 1221.3 L1376.6 1221.2 L1377.6 1221.1 L1378.6 1221 L1379.6 1220.9 L1380.6 1220.9 L1381.6 1221 L1382.6 1221.1 L1383.6 1221.3 L1384.6 1221.5 L1385.6 1221.6 L1386.6 1221.6 L1387.6 1221.7 L1388.6 1221.7 L1389.6 1221.7 L1390.6 1221.7 L1391.6 1221.7 L1392.6 1221.7 L1393.6 1221.6 L1394.6 1221.5 L1395.6 1221.3 L1396.6 1221.2 L1397.6 1221.1 L1398.6 1221.1 L1399.6 1221.1 L1400.6 1221.1 L1401.6 1221.1 L1402.6 1221.1 L1403.6 1221.2 L1404.6 1221.2 L1405.6 1221.2 L1406.6 1221.3 L1407.6 1221.3 L1408.6 1221.4 L1409.6 1221.4 L1410.6 1221.5 L1411.6 1221.5 L1412.6 1221.5 L1413.6 1221.4 L1414.6 1221.3 L1415.6 1221.2 L1416.6 1221.1 L1417.6 1221 L1418.6 1221 L1419.6 1221.1 L1420.6 1221.3 L1421.6 1221.5 L1422.6 1221.8 L1423.6 1222 L1424.6 1222.1 L1425.6 1222.2 L1426.6 1222.2 L1427.6 1222.1 L1428.6 1222 L1429.6 1221.8 L1430.6 1221.7 L1431.6 1221.6 L1432.6 1221.5 L1433.6 1221.5 L1434.6 1221.4 L1435.6 1221.5 L1436.6 1221.5 L1437.6 1221.6 L1438.6 1221.7 L1439.6 1221.8 L1440.6 1221.9 L1441.6 1221.9 L1442.6 1221.9 L1443.6 1221.8 L1444.6 1221.7 L1445.6 1221.7 L1446.6 1221.6 L1447.6 1221.6 L1448.6 1221.6 L1449.6 1221.5 L1450.6 1221.4 L1451.6 1221.3 L1452.6 1221.1 L1453.6 1220.9 L1454.6 1220.8 L1455.6 1220.7 L1456.6 1220.7 L1457.6 1220.7 L1458.6 1220.8 L1459.6 1220.9 L1460.6 1220.9 L1461.6 1220.9 L1462.6 1220.9 L1463.6 1220.9 L1464.6 1221 L1465.6 1221.1 L1466.6 1221.2 L1467.6 1221.3 L1468.6 1221.4 L1469.6 1221.4 L1470.6 1221.4 L1471.6 1221.5 L1472.6 1221.5 L1473.6 1221.5 L1474.6 1221.6 L1475.6 1221.6 L1476.6 1221.6 L1477.6 1221.6 L1478.6 1221.6 L1479.6 1221.6 L1480.6 1221.5 L1481.6 1221.5 L1482.6 1221.5 L1483.6 1221.4 L1484.6 1221.4 L1485.6 1221.5 L1486.6 1221.5 L1487.6 1221.6 L1488.6 1221.7 L1489.6 1221.7 L1490.6 1221.8 L1491.6 1221.8 L1492.6 1221.8 L1493.6 1221.8 L1494.6 1221.7 L1495.6 1221.6 L1496.6 1221.5 L1497.6 1221.5 L1498.6 1221.4 L1499.6 1221.3 L1500.6 1221.3 L1501.6 1221.2 L1502.6 1221.1 L1503.6 1220.9 L1504.6 1220.9 L1505.6 1220.9 L1506.6 1221 L1507.6 1221.2 L1508.6 1221.4 L1509.6 1221.6 L1510.6 1221.7 L1511.6 1221.7 L1512.6 1221.7 L1513.6 1221.7 L1514.6 1221.7 L1515.6 1221.8 L1516.6 1221.8 L1517.6 1221.9 L1518.6 1222 L1519.6 1222.1 L1520.6 1222.1 L1521.6 1222.1 L1522.6 1222 L1523.6 1221.9 L1524.6 1221.8 L1525.6 1221.8 L1526.6 1221.7 L1527.6 1221.7 L1528.6 1221.6 L1529.6 1221.6 L1530.6 1221.5 L1531.6 1221.5 L1532.6 1221.5 L1533.6 1221.5 L1534.6 1221.5 L1535.6 1221.6 L1536.6 1221.6 L1537.6 1221.6 L1538.6 1221.7 L1539.6 1221.7 L1540.6 1221.6 L1541.6 1221.6 L1542.6 1221.5 L1543.6 1221.5 L1544.6 1221.5 L1545.6 1221.6 L1546.6 1221.7 L1547.6 1221.8 L1548.6 1221.9 L1549.6 1222.1 L1550.6 1222.2 L1551.6 1222.4 L1552.6 1222.5 L1553.6 1222.6 L1554.6 1222.6 L1555.6 1222.6 L1556.6 1222.6 L1557.6 1222.4 L1558.6 1222.3 L1559.6 1222 L1560.6 1221.8 L1561.6 1221.7 L1562.6 1221.6 L1563.6 1221.5 L1564.6 1221.5 L1565.6 1221.5 L1566.6 1221.4 L1567.6 1221.4 L1568.6 1221.3 L1569.6 1221.2 L1570.6 1221.2 L1571.6 1221.1 L1572.6 1221.2 L1573.6 1221.2 L1574.6 1221.3 L1575.6 1221.4 L1576.6 1221.4 L1577.6 1221.4 L1578.6 1221.4 L1579.6 1221.3 L1580.6 1221.2 L1581.6 1221.2 L1582.6 1221.3 L1583.6 1221.4 L1584.6 1221.4 L1585.6 1221.5 L1586.6 1221.6 L1587.6 1221.6 L1588.6 1221.7 L1589.6 1221.7 L1590.6 1221.7 L1591.6 1221.7 L1592.6 1221.7 L1593.6 1221.7 L1594.6 1221.7 L1595.6 1221.6 L1596.6 1221.6 L1597.6 1221.5 L1598.6 1221.4 L1599.6 1221.4 L1600.6 1221.4 L1601.6 1221.4 L1602.6 1221.4 L1603.6 1221.5 L1604.6 1221.5 L1605.6 1221.6 L1606.6 1221.6 L1607.6 1221.6 L1608.6 1221.5 L1609.6 1221.5 L1610.6 1221.5 L1611.6 1221.6 L1612.6 1221.7 L1613.6 1221.8 L1614.6 1221.9 L1615.6 1221.9 L1616.6 1221.9 L1617.6 1221.9 L1618.6 1221.8 L1619.6 1221.7 L1620.6 1221.6 L1621.6 1221.5" fill="none" stroke="#000" stroke-width="1.8" stroke-linejoin="round" stroke-linecap="butt"/>
<line x1="489.4" y1="1221.5" x2="696.9" y2="1214.6" stroke="#ff0000" stroke-width="1.5" stroke-linecap="butt"/>
<line x1="1026.9" y1="1221.5" x2="1117.8" y2="1220.2" stroke="#ff0000" stroke-width="1.5" stroke-linecap="butt"/>
<line x1="489.4" y1="1211.9" x2="489.4" y2="1221.5" stroke="#0000ff" stroke-width="1.6" stroke-linecap="butt"/>
<line x1="696.9" y1="1214.6" x2="696.9" y2="1224" stroke="#0000ff" stroke-width="1.6" stroke-linecap="butt"/>
<line x1="1026.9" y1="1211.9" x2="1026.9" y2="1221.5" stroke="#0000ff" stroke-width="1.6" stroke-linecap="butt"/>
<line x1="1117.8" y1="1220.2" x2="1117.8" y2="1229.9" stroke="#0000ff" stroke-width="1.6" stroke-linecap="butt"/>
<text transform="translate(603.8 946.3) scale(1 1.025)" font-size="29.4" text-anchor="start" fill="#000" stroke="#000" stroke-width="0.3">HA Sample 1</text>
<text transform="translate(1079.4 743.5) scale(1 1.025)" font-size="29.4" text-anchor="start" fill="#000" stroke="#000" stroke-width="0.3">Ammonium Acetate</text>
<line x1="87.2" y1="1373.8" x2="1625" y2="1373.8" stroke="#000" stroke-width="1.8" stroke-linecap="butt"/>
<line x1="1625" y1="1372.9" x2="1625" y2="1966.5" stroke="#000" stroke-width="1.8" stroke-linecap="butt"/>
<line x1="87.2" y1="1372.9" x2="87.2" y2="1966.5" stroke="#000" stroke-width="1.8" stroke-linecap="butt"/>
<line x1="87.2" y1="1965.6" x2="1625" y2="1965.6" stroke="#000" stroke-width="1.8" stroke-linecap="butt"/>
<line x1="78.5" y1="1954.6" x2="87.2" y2="1954.6" stroke="#000" stroke-width="1.7" stroke-linecap="butt"/>
<line x1="78.5" y1="1943.6" x2="87.2" y2="1943.6" stroke="#000" stroke-width="1.7" stroke-linecap="butt"/>
<line x1="78.5" y1="1932.7" x2="87.2" y2="1932.7" stroke="#000" stroke-width="1.7" stroke-linecap="butt"/>
<line x1="78.5" y1="1910.7" x2="87.2" y2="1910.7" stroke="#000" stroke-width="1.7" stroke-linecap="butt"/>
<line x1="78.5" y1="1899.8" x2="87.2" y2="1899.8" stroke="#000" stroke-width="1.7" stroke-linecap="butt"/>
<line x1="78.5" y1="1888.8" x2="87.2" y2="1888.8" stroke="#000" stroke-width="1.7" stroke-linecap="butt"/>
<line x1="78.5" y1="1877.9" x2="87.2" y2="1877.9" stroke="#000" stroke-width="1.7" stroke-linecap="butt"/>
<line x1="78.5" y1="1855.9" x2="87.2" y2="1855.9" stroke="#000" stroke-width="1.7" stroke-linecap="butt"/>
<line x1="78.5" y1="1845" x2="87.2" y2="1845" stroke="#000" stroke-width="1.7" stroke-linecap="butt"/>
<line x1="78.5" y1="1834" x2="87.2" y2="1834" stroke="#000" stroke-width="1.7" stroke-linecap="butt"/>
<line x1="78.5" y1="1823.1" x2="87.2" y2="1823.1" stroke="#000" stroke-width="1.7" stroke-linecap="butt"/>
<line x1="78.5" y1="1801.1" x2="87.2" y2="1801.1" stroke="#000" stroke-width="1.7" stroke-linecap="butt"/>
<line x1="78.5" y1="1790.2" x2="87.2" y2="1790.2" stroke="#000" stroke-width="1.7" stroke-linecap="butt"/>
<line x1="78.5" y1="1779.2" x2="87.2" y2="1779.2" stroke="#000" stroke-width="1.7" stroke-linecap="butt"/>
<line x1="78.5" y1="1768.3" x2="87.2" y2="1768.3" stroke="#000" stroke-width="1.7" stroke-linecap="butt"/>
<line x1="78.5" y1="1746.3" x2="87.2" y2="1746.3" stroke="#000" stroke-width="1.7" stroke-linecap="butt"/>
<line x1="78.5" y1="1735.4" x2="87.2" y2="1735.4" stroke="#000" stroke-width="1.7" stroke-linecap="butt"/>
<line x1="78.5" y1="1724.4" x2="87.2" y2="1724.4" stroke="#000" stroke-width="1.7" stroke-linecap="butt"/>
<line x1="78.5" y1="1713.5" x2="87.2" y2="1713.5" stroke="#000" stroke-width="1.7" stroke-linecap="butt"/>
<line x1="78.5" y1="1691.5" x2="87.2" y2="1691.5" stroke="#000" stroke-width="1.7" stroke-linecap="butt"/>
<line x1="78.5" y1="1680.6" x2="87.2" y2="1680.6" stroke="#000" stroke-width="1.7" stroke-linecap="butt"/>
<line x1="78.5" y1="1669.6" x2="87.2" y2="1669.6" stroke="#000" stroke-width="1.7" stroke-linecap="butt"/>
<line x1="78.5" y1="1658.7" x2="87.2" y2="1658.7" stroke="#000" stroke-width="1.7" stroke-linecap="butt"/>
<line x1="78.5" y1="1636.7" x2="87.2" y2="1636.7" stroke="#000" stroke-width="1.7" stroke-linecap="butt"/>
<line x1="78.5" y1="1625.8" x2="87.2" y2="1625.8" stroke="#000" stroke-width="1.7" stroke-linecap="butt"/>
<line x1="78.5" y1="1614.8" x2="87.2" y2="1614.8" stroke="#000" stroke-width="1.7" stroke-linecap="butt"/>
<line x1="78.5" y1="1603.9" x2="87.2" y2="1603.9" stroke="#000" stroke-width="1.7" stroke-linecap="butt"/>
<line x1="78.5" y1="1581.9" x2="87.2" y2="1581.9" stroke="#000" stroke-width="1.7" stroke-linecap="butt"/>
<line x1="78.5" y1="1571" x2="87.2" y2="1571" stroke="#000" stroke-width="1.7" stroke-linecap="butt"/>
<line x1="78.5" y1="1560" x2="87.2" y2="1560" stroke="#000" stroke-width="1.7" stroke-linecap="butt"/>
<line x1="78.5" y1="1549.1" x2="87.2" y2="1549.1" stroke="#000" stroke-width="1.7" stroke-linecap="butt"/>
<line x1="78.5" y1="1527.1" x2="87.2" y2="1527.1" stroke="#000" stroke-width="1.7" stroke-linecap="butt"/>
<line x1="78.5" y1="1516.2" x2="87.2" y2="1516.2" stroke="#000" stroke-width="1.7" stroke-linecap="butt"/>
<line x1="78.5" y1="1505.2" x2="87.2" y2="1505.2" stroke="#000" stroke-width="1.7" stroke-linecap="butt"/>
<line x1="78.5" y1="1494.3" x2="87.2" y2="1494.3" stroke="#000" stroke-width="1.7" stroke-linecap="butt"/>
<line x1="78.5" y1="1472.3" x2="87.2" y2="1472.3" stroke="#000" stroke-width="1.7" stroke-linecap="butt"/>
<line x1="78.5" y1="1461.4" x2="87.2" y2="1461.4" stroke="#000" stroke-width="1.7" stroke-linecap="butt"/>
<line x1="78.5" y1="1450.4" x2="87.2" y2="1450.4" stroke="#000" stroke-width="1.7" stroke-linecap="butt"/>
<line x1="78.5" y1="1439.5" x2="87.2" y2="1439.5" stroke="#000" stroke-width="1.7" stroke-linecap="butt"/>
<line x1="78.5" y1="1417.5" x2="87.2" y2="1417.5" stroke="#000" stroke-width="1.7" stroke-linecap="butt"/>
<line x1="78.5" y1="1406.6" x2="87.2" y2="1406.6" stroke="#000" stroke-width="1.7" stroke-linecap="butt"/>
<line x1="78.5" y1="1395.6" x2="87.2" y2="1395.6" stroke="#000" stroke-width="1.7" stroke-linecap="butt"/>
<line x1="78.5" y1="1384.7" x2="87.2" y2="1384.7" stroke="#000" stroke-width="1.7" stroke-linecap="butt"/>
<line x1="69.2" y1="1428.5" x2="87.2" y2="1428.5" stroke="#000" stroke-width="1.7" stroke-linecap="butt"/>
<line x1="69.2" y1="1483.3" x2="87.2" y2="1483.3" stroke="#000" stroke-width="1.7" stroke-linecap="butt"/>
<line x1="69.2" y1="1538.1" x2="87.2" y2="1538.1" stroke="#000" stroke-width="1.7" stroke-linecap="butt"/>
<line x1="69.2" y1="1592.9" x2="87.2" y2="1592.9" stroke="#000" stroke-width="1.7" stroke-linecap="butt"/>
<line x1="69.2" y1="1647.7" x2="87.2" y2="1647.7" stroke="#000" stroke-width="1.7" stroke-linecap="butt"/>
<line x1="69.2" y1="1702.5" x2="87.2" y2="1702.5" stroke="#000" stroke-width="1.7" stroke-linecap="butt"/>
<line x1="69.2" y1="1757.3" x2="87.2" y2="1757.3" stroke="#000" stroke-width="1.7" stroke-linecap="butt"/>
<line x1="69.2" y1="1812.1" x2="87.2" y2="1812.1" stroke="#000" stroke-width="1.7" stroke-linecap="butt"/>
<line x1="69.2" y1="1866.9" x2="87.2" y2="1866.9" stroke="#000" stroke-width="1.7" stroke-linecap="butt"/>
<line x1="69.2" y1="1921.7" x2="87.2" y2="1921.7" stroke="#000" stroke-width="1.7" stroke-linecap="butt"/>
<line x1="69.2" y1="1373.8" x2="87.2" y2="1373.8" stroke="#000" stroke-width="1.8" stroke-linecap="butt"/>
<line x1="69.2" y1="1965.6" x2="87.2" y2="1965.6" stroke="#000" stroke-width="1.8" stroke-linecap="butt"/>
<text transform="translate(70 1447.7) scale(1 1.025)" font-size="29.4" text-anchor="end" fill="#000" stroke="#000" stroke-width="0.3">22.5</text>
<text transform="translate(70 1502.5) scale(1 1.025)" font-size="29.4" text-anchor="end" fill="#000" stroke="#000" stroke-width="0.3">20.0</text>
<text transform="translate(70 1557.3) scale(1 1.025)" font-size="29.4" text-anchor="end" fill="#000" stroke="#000" stroke-width="0.3">17.5</text>
<text transform="translate(70 1612.1) scale(1 1.025)" font-size="29.4" text-anchor="end" fill="#000" stroke="#000" stroke-width="0.3">15.0</text>
<text transform="translate(70 1666.9) scale(1 1.025)" font-size="29.4" text-anchor="end" fill="#000" stroke="#000" stroke-width="0.3">12.5</text>
<text transform="translate(70 1721.7) scale(1 1.025)" font-size="29.4" text-anchor="end" fill="#000" stroke="#000" stroke-width="0.3">10.0</text>
<text transform="translate(70 1776.5) scale(1 1.025)" font-size="29.4" text-anchor="end" fill="#000" stroke="#000" stroke-width="0.3">7.5</text>
<text transform="translate(70 1831.3) scale(1 1.025)" font-size="29.4" text-anchor="end" fill="#000" stroke="#000" stroke-width="0.3">5.0</text>
<text transform="translate(70 1886.1) scale(1 1.025)" font-size="29.4" text-anchor="end" fill="#000" stroke="#000" stroke-width="0.3">2.5</text>
<text transform="translate(70 1984.7) scale(1 1.025)" font-size="29.4" text-anchor="end" fill="#000" stroke="#000" stroke-width="0.3">-2.0</text>
<line x1="87.2" y1="1965.6" x2="87.2" y2="1974.9" stroke="#000" stroke-width="1.7" stroke-linecap="butt"/>
<line x1="131.1" y1="1965.6" x2="131.1" y2="1970.3" stroke="#000" stroke-width="1.7" stroke-linecap="butt"/>
<line x1="175.1" y1="1965.6" x2="175.1" y2="1970.3" stroke="#000" stroke-width="1.7" stroke-linecap="butt"/>
<line x1="219" y1="1965.6" x2="219" y2="1970.3" stroke="#000" stroke-width="1.7" stroke-linecap="butt"/>
<line x1="262.9" y1="1965.6" x2="262.9" y2="1970.3" stroke="#000" stroke-width="1.7" stroke-linecap="butt"/>
<line x1="306.9" y1="1965.6" x2="306.9" y2="1974.9" stroke="#000" stroke-width="1.7" stroke-linecap="butt"/>
<line x1="350.8" y1="1965.6" x2="350.8" y2="1970.3" stroke="#000" stroke-width="1.7" stroke-linecap="butt"/>
<line x1="394.7" y1="1965.6" x2="394.7" y2="1970.3" stroke="#000" stroke-width="1.7" stroke-linecap="butt"/>
<line x1="438.6" y1="1965.6" x2="438.6" y2="1970.3" stroke="#000" stroke-width="1.7" stroke-linecap="butt"/>
<line x1="482.6" y1="1965.6" x2="482.6" y2="1970.3" stroke="#000" stroke-width="1.7" stroke-linecap="butt"/>
<line x1="526.5" y1="1965.6" x2="526.5" y2="1974.9" stroke="#000" stroke-width="1.7" stroke-linecap="butt"/>
<line x1="570.4" y1="1965.6" x2="570.4" y2="1970.3" stroke="#000" stroke-width="1.7" stroke-linecap="butt"/>
<line x1="614.4" y1="1965.6" x2="614.4" y2="1970.3" stroke="#000" stroke-width="1.7" stroke-linecap="butt"/>
<line x1="658.3" y1="1965.6" x2="658.3" y2="1970.3" stroke="#000" stroke-width="1.7" stroke-linecap="butt"/>
<line x1="702.2" y1="1965.6" x2="702.2" y2="1970.3" stroke="#000" stroke-width="1.7" stroke-linecap="butt"/>
<line x1="746.2" y1="1965.6" x2="746.2" y2="1974.9" stroke="#000" stroke-width="1.7" stroke-linecap="butt"/>
<line x1="790.1" y1="1965.6" x2="790.1" y2="1970.3" stroke="#000" stroke-width="1.7" stroke-linecap="butt"/>
<line x1="834" y1="1965.6" x2="834" y2="1970.3" stroke="#000" stroke-width="1.7" stroke-linecap="butt"/>
<line x1="877.9" y1="1965.6" x2="877.9" y2="1970.3" stroke="#000" stroke-width="1.7" stroke-linecap="butt"/>
<line x1="921.9" y1="1965.6" x2="921.9" y2="1970.3" stroke="#000" stroke-width="1.7" stroke-linecap="butt"/>
<line x1="965.8" y1="1965.6" x2="965.8" y2="1974.9" stroke="#000" stroke-width="1.7" stroke-linecap="butt"/>
<line x1="1009.7" y1="1965.6" x2="1009.7" y2="1970.3" stroke="#000" stroke-width="1.7" stroke-linecap="butt"/>
<line x1="1053.7" y1="1965.6" x2="1053.7" y2="1970.3" stroke="#000" stroke-width="1.7" stroke-linecap="butt"/>
<line x1="1097.6" y1="1965.6" x2="1097.6" y2="1970.3" stroke="#000" stroke-width="1.7" stroke-linecap="butt"/>
<line x1="1141.5" y1="1965.6" x2="1141.5" y2="1970.3" stroke="#000" stroke-width="1.7" stroke-linecap="butt"/>
<line x1="1185.5" y1="1965.6" x2="1185.5" y2="1974.9" stroke="#000" stroke-width="1.7" stroke-linecap="butt"/>
<line x1="1229.4" y1="1965.6" x2="1229.4" y2="1970.3" stroke="#000" stroke-width="1.7" stroke-linecap="butt"/>
<line x1="1273.3" y1="1965.6" x2="1273.3" y2="1970.3" stroke="#000" stroke-width="1.7" stroke-linecap="butt"/>
<line x1="1317.2" y1="1965.6" x2="1317.2" y2="1970.3" stroke="#000" stroke-width="1.7" stroke-linecap="butt"/>
<line x1="1361.2" y1="1965.6" x2="1361.2" y2="1970.3" stroke="#000" stroke-width="1.7" stroke-linecap="butt"/>
<line x1="1405.1" y1="1965.6" x2="1405.1" y2="1974.9" stroke="#000" stroke-width="1.7" stroke-linecap="butt"/>
<line x1="1449" y1="1965.6" x2="1449" y2="1970.3" stroke="#000" stroke-width="1.7" stroke-linecap="butt"/>
<line x1="1493" y1="1965.6" x2="1493" y2="1970.3" stroke="#000" stroke-width="1.7" stroke-linecap="butt"/>
<line x1="1536.9" y1="1965.6" x2="1536.9" y2="1970.3" stroke="#000" stroke-width="1.7" stroke-linecap="butt"/>
<line x1="1580.8" y1="1965.6" x2="1580.8" y2="1970.3" stroke="#000" stroke-width="1.7" stroke-linecap="butt"/>
<line x1="1624.8" y1="1965.6" x2="1624.8" y2="1974.9" stroke="#000" stroke-width="1.7" stroke-linecap="butt"/>
<text transform="translate(87.2 2002) scale(1 1.025)" font-size="29.4" text-anchor="middle" fill="#000" stroke="#000" stroke-width="0.3">0.0</text>
<text transform="translate(306.9 2002) scale(1 1.025)" font-size="29.4" text-anchor="middle" fill="#000" stroke="#000" stroke-width="0.3">5.0</text>
<text transform="translate(526.5 2002) scale(1 1.025)" font-size="29.4" text-anchor="middle" fill="#000" stroke="#000" stroke-width="0.3">10.0</text>
<text transform="translate(746.2 2002) scale(1 1.025)" font-size="29.4" text-anchor="middle" fill="#000" stroke="#000" stroke-width="0.3">15.0</text>
<text transform="translate(965.8 2002) scale(1 1.025)" font-size="29.4" text-anchor="middle" fill="#000" stroke="#000" stroke-width="0.3">20.0</text>
<text transform="translate(1185.5 2002) scale(1 1.025)" font-size="29.4" text-anchor="middle" fill="#000" stroke="#000" stroke-width="0.3">25.0</text>
<text transform="translate(1405.1 2002) scale(1 1.025)" font-size="29.4" text-anchor="middle" fill="#000" stroke="#000" stroke-width="0.3">30.0</text>
<text transform="translate(1624.8 2002) scale(1 1.025)" font-size="29.4" text-anchor="middle" fill="#000" stroke="#000" stroke-width="0.3">35.0</text>
<text transform="translate(88.3 1401.9) scale(1 1.025)" font-size="29.4" text-anchor="start" fill="#000" stroke="#000" stroke-width="0.3">pA</text>
<text transform="translate(1618.8 1949.3) scale(1 1.025)" font-size="29.4" text-anchor="end" fill="#000" stroke="#000" stroke-width="0.3">min</text>
<text transform="translate(1550 1427.6) scale(1 1.0)" font-size="47" text-anchor="start" fill="#000" stroke="#000" stroke-width="0.3" font-weight="bold">c</text>
<path d="M87.2 1921.9 L88.2 1921.9 L89.2 1921.9 L90.2 1921.9 L91.2 1921.8 L92.2 1921.8 L93.2 1921.7 L94.2 1921.7 L95.2 1921.6 L96.2 1921.6 L97.2 1921.6 L98.2 1921.5 L99.2 1921.5 L100.2 1921.6 L101.2 1921.6 L102.2 1921.6 L103.2 1921.6 L104.2 1921.6 L105.2 1921.6 L106.2 1921.6 L107.2 1921.6 L108.2 1921.6 L109.2 1921.6 L110.2 1921.7 L111.2 1921.7 L112.2 1921.7 L113.2 1921.7 L114.2 1921.8 L115.2 1921.8 L116.2 1921.8 L117.2 1921.8 L118.2 1921.8 L119.2 1921.8 L120.2 1921.9 L121.2 1921.9 L122.2 1921.9 L123.2 1921.9 L124.2 1922 L125.2 1922 L126.2 1922 L127.2 1922 L128.2 1922 L129.2 1922 L130.2 1922 L131.2 1922 L132.2 1922 L133.2 1922 L134.2 1922 L135.2 1922 L136.2 1922 L137.2 1921.9 L138.2 1921.9 L139.2 1921.9 L140.2 1921.9 L141.2 1921.9 L142.2 1922 L143.2 1922 L144.2 1922 L145.2 1922 L146.2 1922 L147.2 1922 L148.2 1921.9 L149.2 1921.9 L150.2 1921.9 L151.2 1921.8 L152.2 1921.8 L153.2 1921.7 L154.2 1921.7 L155.2 1921.7 L156.2 1921.7 L157.2 1921.7 L158.2 1921.7 L159.2 1921.7 L160.2 1921.7 L161.2 1921.8 L162.2 1921.8 L163.2 1921.8 L164.2 1921.9 L165.2 1921.9 L166.2 1922 L167.2 1922 L168.2 1922.1 L169.2 1922.1 L170.2 1922.1 L171.2 1922.1 L172.2 1922 L173.2 1921.9 L174.2 1921.9 L175.2 1921.8 L176.2 1921.8 L177.2 1921.8 L178.2 1921.7 L179.2 1921.7 L180.2 1921.7 L181.2 1921.8 L182.2 1921.8 L183.2 1921.8 L184.2 1921.8 L185.2 1921.9 L186.2 1921.9 L187.2 1921.9 L188.2 1921.9 L189.2 1922 L190.2 1922 L191.2 1922 L192.2 1922 L193.2 1922 L194.2 1922 L195.2 1921.9 L196.2 1921.9 L197.2 1921.9 L198.2 1921.8 L199.2 1921.8 L200.2 1921.8 L201.2 1921.7 L202.2 1921.7 L203.2 1921.8 L204.2 1921.8 L205.2 1921.8 L206.2 1921.7 L207.2 1921.7 L208.2 1921.6 L209.2 1921.5 L210.2 1921.5 L211.2 1921.4 L212.2 1921.3 L213.2 1921.3 L214.2 1921.3 L215.2 1921.4 L216.2 1921.5 L217.2 1921.6 L218.2 1921.7 L219.2 1921.9 L220.2 1922 L221.2 1922.2 L222.2 1922.3 L223.2 1922.4 L224.2 1922.5 L225.2 1922.5 L226.2 1922.5 L227.2 1922.4 L228.2 1922.4 L229.2 1922.3 L230.2 1922.2 L231.2 1922.1 L232.2 1922 L233.2 1921.9 L234.2 1921.9 L235.2 1921.9 L236.2 1921.9 L237.2 1921.9 L238.2 1921.9 L239.2 1922 L240.2 1922 L241.2 1922 L242.2 1922 L243.2 1922 L244.2 1922 L245.2 1922 L246.2 1922 L247.2 1921.9 L248.2 1921.9 L249.2 1921.9 L250.2 1921.9 L251.2 1921.9 L252.2 1921.9 L253.2 1921.9 L254.2 1921.9 L255.2 1921.9 L256.2 1921.9 L257.2 1921.9 L258.2 1921.9 L259.2 1921.9 L260.2 1921.9 L261.2 1921.9 L262.2 1921.9 L263.2 1921.8 L264.2 1921.8 L265.2 1921.8 L266.2 1921.8 L267.2 1921.8 L268.2 1921.7 L269.2 1921.7 L270.2 1921.7 L271.2 1921.7 L272.2 1921.7 L273.2 1921.7 L274.2 1921.8 L275.2 1921.8 L276.2 1921.9 L277.2 1921.9 L278.2 1921.9 L279.2 1922 L280.2 1922 L281.2 1922 L282.2 1922 L283.2 1922 L284.2 1922 L285.2 1921.9 L286.2 1921.9 L287.2 1921.9 L288.2 1921.8 L289.2 1921.8 L290.2 1921.8 L291.2 1921.8 L292.2 1921.8 L293.2 1921.9 L294.2 1921.9 L295.2 1921.9 L296.2 1921.8 L297.2 1921.8 L298.2 1921.8 L299.2 1921.8 L300.2 1921.7 L301.2 1921.7 L302.2 1921.7 L303.2 1921.7 L304.2 1921.7 L305.2 1921.7 L306.2 1921.7 L307.2 1921.8 L308.2 1921.8 L309.2 1921.8 L310.2 1921.8 L311.2 1921.8 L312.2 1921.9 L313.2 1921.9 L314.2 1921.9 L315.2 1921.9 L316.2 1921.9 L317.2 1921.9 L318.2 1921.8 L319.2 1921.8 L320.2 1921.8 L321.2 1921.7 L322.2 1921.7 L323.2 1921.6 L324.2 1921.6 L325.2 1921.6 L326.2 1921.5 L327.2 1921.5 L328.2 1921.5 L329.2 1921.5 L330.2 1921.5 L331.2 1921.6 L332.2 1921.6 L333.2 1921.6 L334.2 1921.7 L335.2 1921.8 L336.2 1921.9 L337.2 1922 L338.2 1922.1 L339.2 1922.1 L340.2 1922.2 L341.2 1922.2 L342.2 1922.2 L343.2 1922.2 L344.2 1922.2 L345.2 1922.1 L346.2 1922.1 L347.2 1922.1 L348.2 1922 L349.2 1922 L350.2 1922 L351.2 1922 L352.2 1922.1 L353.2 1922.1 L354.2 1922.1 L355.2 1922.1 L356.2 1922 L357.2 1922 L358.2 1922 L359.2 1921.9 L360.2 1921.9 L361.2 1921.9 L362.2 1921.9 L363.2 1921.8 L364.2 1921.8 L365.2 1921.8 L366.2 1921.8 L367.2 1921.7 L368.2 1921.7 L369.2 1921.7 L370.2 1921.7 L371.2 1921.6 L372.2 1921.6 L373.2 1921.6 L374.2 1921.6 L375.2 1921.6 L376.2 1921.6 L377.2 1921.6 L378.2 1921.6 L379.2 1921.7 L380.2 1921.7 L381.2 1921.8 L382.2 1921.9 L383.2 1922 L384.2 1922 L385.2 1922.1 L386.2 1922.2 L387.2 1922.2 L388.2 1922.2 L389.2 1922.2 L390.2 1922.2 L391.2 1922.2 L392.2 1922.2 L393.2 1922.2 L394.2 1922.2 L395.2 1922.2 L396.2 1922.2 L397.2 1922.2 L398.2 1922.2 L399.2 1922.2 L400.2 1922.2 L401.2 1922.2 L402.2 1922.1 L403.2 1922.1 L404.2 1922 L405.2 1921.9 L406.2 1921.8 L407.2 1921.8 L408.2 1921.7 L409.2 1921.7 L410.2 1921.6 L411.2 1921.6 L412.2 1921.7 L413.2 1921.7 L414.2 1921.8 L415.2 1921.8 L416.2 1921.9 L417.2 1921.9 L418.2 1921.9 L419.2 1922 L420.2 1922 L421.2 1922 L422.2 1921.9 L423.2 1921.9 L424.2 1921.9 L425.2 1921.8 L426.2 1921.8 L427.2 1921.8 L428.2 1921.7 L429.2 1921.7 L430.2 1921.7 L431.2 1921.8 L432.2 1921.8 L433.2 1921.9 L434.2 1921.9 L435.2 1922 L436.2 1922 L437.2 1922.1 L438.2 1922.1 L439.2 1922.1 L440.2 1922.1 L441.2 1922.1 L442.2 1922 L443.2 1922 L444.2 1922 L445.2 1921.9 L446.2 1921.9 L447.2 1921.9 L448.2 1921.9 L449.2 1921.9 L450.2 1922 L451.2 1922 L452.2 1922 L453.2 1921.9 L454.2 1921.9 L455.2 1921.9 L456.2 1921.9 L457.2 1921.9 L458.2 1921.9 L459.2 1921.9 L460.2 1921.9 L461.2 1922 L462.2 1922 L463.2 1922 L464.2 1922.1 L465.2 1922.1 L466.2 1922.1 L467.2 1922.2 L468.2 1922.2 L469.2 1922.2 L470.2 1922.2 L471.2 1922.2 L472.2 1922.1 L473.2 1922.1 L474.2 1922.1 L475.2 1922 L476.2 1922 L477.2 1922 L478.2 1922 L479.2 1922 L480.2 1922 L481.2 1922 L482.2 1922.1 L483.2 1922.1 L484.2 1922.1 L485.2 1922 L486.2 1922 L487.2 1922 L488.2 1921.9 L489.2 1921.8 L490.2 1921.8 L491.2 1921.7 L492.2 1921.6 L493.2 1921.5 L494.2 1921.4 L495.2 1921.3 L496.2 1921.2 L497.2 1921.2 L498.2 1921.2 L499.2 1921.1 L500.2 1921.1 L501.2 1921 L502.2 1920.9 L503.2 1920.8 L504.2 1920.7 L505.2 1920.5 L506.2 1920.3 L507.2 1920.1 L508.2 1919.7 L509.2 1919.1 L510.2 1918.4 L511.2 1917.6 L512.2 1916.2 L513.2 1914.2 L514.2 1911.8 L515.2 1909.2 L516.2 1905.7 L517.2 1901.5 L518.2 1896.8 L519.2 1891.9 L520.2 1886.2 L521.2 1880.1 L522.2 1873.6 L523.2 1867.1 L524.2 1860 L525.2 1852.8 L526.2 1845.9 L527.2 1839.5 L528.2 1833.2 L529.2 1827.2 L530.2 1821.8 L531.2 1817.1 L532.2 1812.9 L533.2 1808.9 L534.2 1805.1 L535.2 1801.4 L536.2 1797.6 L537.2 1793.9 L538.2 1790.3 L539.2 1786.8 L540.2 1783.3 L541.2 1779.8 L542.2 1776.3 L543.2 1772.7 L544.2 1769.1 L545.2 1765.3 L546.2 1761.5 L547.2 1757.6 L548.2 1753.9 L549.2 1750.5 L550.2 1747.5 L551.2 1744.7 L552.2 1742 L553.2 1739.5 L554.2 1737.2 L555.2 1735.1 L556.2 1733.3 L557.2 1731.5 L558.2 1730.1 L559.2 1729 L560.2 1728.5 L561.2 1728.2 L562.2 1727.9 L563.2 1727.4 L564.2 1726.7 L565.2 1725.6 L566.2 1724.3 L567.2 1723.1 L568.2 1722 L569.2 1721.2 L570.2 1720.4 L571.2 1719.7 L572.2 1718.8 L573.2 1717.8 L574.2 1716.2 L575.2 1714.6 L576.2 1713.8 L577.2 1713.4 L578.2 1713.6 L579.2 1715.4 L580.2 1717.8 L581.2 1721 L582.2 1724.4 L583.2 1727.1 L584.2 1729.5 L585.2 1731.4 L586.2 1732.3 L587.2 1732.9 L588.2 1733.3 L589.2 1733.7 L590.2 1734 L591.2 1734.3 L592.2 1734.5 L593.2 1734.6 L594.2 1734.4 L595.2 1733.8 L596.2 1733 L597.2 1732.1 L598.2 1731.2 L599.2 1730.4 L600.2 1729.4 L601.2 1728.3 L602.2 1727.4 L603.2 1726.8 L604.2 1726.6 L605.2 1726.9 L606.2 1727.5 L607.2 1728.1 L608.2 1728.6 L609.2 1728.7 L610.2 1728.7 L611.2 1728.7 L612.2 1728.7 L613.2 1728.8 L614.2 1728.8 L615.2 1729.1 L616.2 1730.1 L617.2 1731.6 L618.2 1733.1 L619.2 1734.4 L620.2 1735.7 L621.2 1737 L622.2 1737.8 L623.2 1738.2 L624.2 1738.4 L625.2 1738.5 L626.2 1738.8 L627.2 1739.7 L628.2 1741.2 L629.2 1743 L630.2 1744.7 L631.2 1746.6 L632.2 1748.7 L633.2 1750.3 L634.2 1750.8 L635.2 1750.5 L636.2 1750.1 L637.2 1749.7 L638.2 1749.3 L639.2 1749 L640.2 1748.9 L641.2 1749.2 L642.2 1749.8 L643.2 1750.5 L644.2 1751.4 L645.2 1752.6 L646.2 1754.4 L647.2 1756.9 L648.2 1759.8 L649.2 1763.4 L650.2 1768.4 L651.2 1773.5 L652.2 1777.9 L653.2 1782.2 L654.2 1785.7 L655.2 1788.5 L656.2 1790.9 L657.2 1793 L658.2 1794.7 L659.2 1796.1 L660.2 1797.2 L661.2 1798.2 L662.2 1799.2 L663.2 1800.4 L664.2 1801.9 L665.2 1803.8 L666.2 1806.2 L667.2 1808.7 L668.2 1810.9 L669.2 1812.7 L670.2 1814.3 L671.2 1815.7 L672.2 1816.9 L673.2 1818 L674.2 1819 L675.2 1820 L676.2 1821 L677.2 1822 L678.2 1822.9 L679.2 1823.7 L680.2 1824.4 L681.2 1825 L682.2 1825.4 L683.2 1825.6 L684.2 1825.9 L685.2 1826.1 L686.2 1826.3 L687.2 1826.7 L688.2 1827.7 L689.2 1829.6 L690.2 1832 L691.2 1835.3 L692.2 1839.3 L693.2 1843 L694.2 1846.4 L695.2 1849.6 L696.2 1851.8 L697.2 1853.5 L698.2 1854.9 L699.2 1856 L700.2 1856.8 L701.2 1857.4 L702.2 1857.9 L703.2 1858.2 L704.2 1858.5 L705.2 1858.5 L706.2 1858.5 L707.2 1858.5 L708.2 1858.4 L709.2 1858.3 L710.2 1858.3 L711.2 1858.2 L712.2 1858.1 L713.2 1858 L714.2 1857.8 L715.2 1857.7 L716.2 1857.4 L717.2 1857.2 L718.2 1856.9 L719.2 1856.6 L720.2 1856.3 L721.2 1856 L722.2 1855.7 L723.2 1855.3 L724.2 1855 L725.2 1854.7 L726.2 1854.3 L727.2 1853.9 L728.2 1853.4 L729.2 1853 L730.2 1852.5 L731.2 1852 L732.2 1851.4 L733.2 1850.8 L734.2 1850.2 L735.2 1849.4 L736.2 1848.5 L737.2 1847.6 L738.2 1846.6 L739.2 1845.6 L740.2 1844.6 L741.2 1843.7 L742.2 1842.8 L743.2 1842 L744.2 1841.3 L745.2 1840.6 L746.2 1840 L747.2 1839.4 L748.2 1838.8 L749.2 1838.2 L750.2 1837.6 L751.2 1837 L752.2 1836.4 L753.2 1835.7 L754.2 1835.1 L755.2 1834.4 L756.2 1833.7 L757.2 1832.9 L758.2 1832.2 L759.2 1831.5 L760.2 1830.7 L761.2 1830 L762.2 1829.3 L763.2 1828.6 L764.2 1827.9 L765.2 1827.2 L766.2 1826.5 L767.2 1825.9 L768.2 1825.2 L769.2 1824.5 L770.2 1823.7 L771.2 1823 L772.2 1822.2 L773.2 1821.5 L774.2 1820.8 L775.2 1820.2 L776.2 1819.7 L777.2 1819.3 L778.2 1819 L779.2 1818.9 L780.2 1818.7 L781.2 1818.6 L782.2 1818.5 L783.2 1818 L784.2 1817.3 L785.2 1816.5 L786.2 1815.7 L787.2 1815 L788.2 1814.7 L789.2 1814.6 L790.2 1814.4 L791.2 1814.3 L792.2 1814.2 L793.2 1814.2 L794.2 1814.1 L795.2 1814.1 L796.2 1814.1 L797.2 1814.2 L798.2 1814.2 L799.2 1814.2 L800.2 1814.2 L801.2 1814.2 L802.2 1814.2 L803.2 1814.2 L804.2 1814.2 L805.2 1814.2 L806.2 1814.2 L807.2 1814.3 L808.2 1814.5 L809.2 1814.9 L810.2 1815.4 L811.2 1815.9 L812.2 1816.5 L813.2 1817.1 L814.2 1817.7 L815.2 1818.2 L816.2 1818.7 L817.2 1819.2 L818.2 1819.7 L819.2 1820.2 L820.2 1820.8 L821.2 1821.3 L822.2 1821.9 L823.2 1822.5 L824.2 1823.1 L825.2 1823.7 L826.2 1824.3 L827.2 1824.9 L828.2 1825.6 L829.2 1826.2 L830.2 1826.8 L831.2 1827.5 L832.2 1828.1 L833.2 1828.8 L834.2 1829.5 L835.2 1830.2 L836.2 1830.9 L837.2 1831.6 L838.2 1832.4 L839.2 1833.1 L840.2 1833.9 L841.2 1834.8 L842.2 1835.7 L843.2 1836.6 L844.2 1837.6 L845.2 1838.6 L846.2 1839.7 L847.2 1840.8 L848.2 1841.8 L849.2 1842.9 L850.2 1844 L851.2 1845 L852.2 1846.1 L853.2 1847.1 L854.2 1848.1 L855.2 1849.1 L856.2 1850.1 L857.2 1851.2 L858.2 1852.2 L859.2 1853.1 L860.2 1854.1 L861.2 1855.1 L862.2 1856.1 L863.2 1857.1 L864.2 1858.1 L865.2 1859.1 L866.2 1860.1 L867.2 1861.1 L868.2 1862.1 L869.2 1863.1 L870.2 1864.1 L871.2 1865.1 L872.2 1866.1 L873.2 1867.1 L874.2 1868.1 L875.2 1869.1 L876.2 1870.1 L877.2 1871.1 L878.2 1872.1 L879.2 1873.1 L880.2 1874 L881.2 1875 L882.2 1875.9 L883.2 1876.7 L884.2 1877.6 L885.2 1878.5 L886.2 1879.3 L887.2 1880.2 L888.2 1881 L889.2 1881.9 L890.2 1882.8 L891.2 1883.8 L892.2 1884.7 L893.2 1885.7 L894.2 1886.6 L895.2 1887.5 L896.2 1888.5 L897.2 1889.3 L898.2 1890.2 L899.2 1890.9 L900.2 1891.7 L901.2 1892.3 L902.2 1893 L903.2 1893.6 L904.2 1894.2 L905.2 1894.8 L906.2 1895.4 L907.2 1896 L908.2 1896.6 L909.2 1897.3 L910.2 1898 L911.2 1898.6 L912.2 1899.3 L913.2 1899.9 L914.2 1900.6 L915.2 1901.3 L916.2 1901.9 L917.2 1902.6 L918.2 1903.3 L919.2 1903.9 L920.2 1904.6 L921.2 1905.2 L922.2 1905.8 L923.2 1906.3 L924.2 1906.9 L925.2 1907.4 L926.2 1907.9 L927.2 1908.3 L928.2 1908.8 L929.2 1909.3 L930.2 1909.7 L931.2 1910.1 L932.2 1910.4 L933.2 1910.7 L934.2 1911 L935.2 1911.2 L936.2 1911.5 L937.2 1911.7 L938.2 1911.9 L939.2 1912.1 L940.2 1912.3 L941.2 1912.5 L942.2 1912.8 L943.2 1913 L944.2 1913.2 L945.2 1913.4 L946.2 1913.6 L947.2 1913.8 L948.2 1913.9 L949.2 1914.1 L950.2 1914.2 L951.2 1914.3 L952.2 1914.4 L953.2 1914.5 L954.2 1914.6 L955.2 1914.7 L956.2 1914.8 L957.2 1914.9 L958.2 1914.9 L959.2 1914.9 L960.2 1914.9 L961.2 1914.9 L962.2 1914.9 L963.2 1914.8 L964.2 1914.8 L965.2 1914.7 L966.2 1914.6 L967.2 1914.5 L968.2 1914.3 L969.2 1914.2 L970.2 1914 L971.2 1913.8 L972.2 1913.6 L973.2 1913.3 L974.2 1913.1 L975.2 1912.8 L976.2 1912.4 L977.2 1912 L978.2 1911.6 L979.2 1911.2 L980.2 1910.7 L981.2 1910.3 L982.2 1909.8 L983.2 1909.4 L984.2 1908.9 L985.2 1908.5 L986.2 1908.1 L987.2 1907.8 L988.2 1907.4 L989.2 1907.1 L990.2 1906.8 L991.2 1906.6 L992.2 1906.4 L993.2 1906.3 L994.2 1906.2 L995.2 1906.1 L996.2 1906 L997.2 1906 L998.2 1905.9 L999.2 1905.9 L1000.2 1905.9 L1001.2 1906 L1002.2 1906.2 L1003.2 1906.5 L1004.2 1906.8 L1005.2 1907.1 L1006.2 1907.4 L1007.2 1907.7 L1008.2 1908 L1009.2 1908.3 L1010.2 1908.7 L1011.2 1909.1 L1012.2 1909.6 L1013.2 1909.9 L1014.2 1910.3 L1015.2 1910.5 L1016.2 1910.6 L1017.2 1910.5 L1018.2 1910 L1019.2 1909.2 L1020.2 1908.3 L1021.2 1907.1 L1022.2 1905.8 L1023.2 1903.4 L1024.2 1899.9 L1025.2 1895.5 L1026.2 1890.5 L1027.2 1884.3 L1028.2 1876.7 L1029.2 1867.9 L1030.2 1857 L1031.2 1843.2 L1032.2 1828.4 L1033.2 1812.1 L1034.2 1795.7 L1035.2 1780.6 L1036.2 1765.4 L1037.2 1747.9 L1038.2 1728 L1039.2 1706.3 L1040.2 1681.5 L1041.2 1659.5 L1042.2 1640.5 L1043.2 1623.9 L1044.2 1609.1 L1045.2 1595.8 L1046.2 1583.7 L1047.2 1573.2 L1048.2 1564.1 L1049.2 1556 L1050.2 1548.5 L1051.2 1541.1 L1052.2 1533.8 L1053.2 1527 L1054.2 1521 L1055.2 1516.1 L1056.2 1511.9 L1057.2 1509 L1058.2 1506.8 L1059.2 1505.2 L1060.2 1505 L1061.2 1506.2 L1062.2 1508.2 L1063.2 1510.7 L1064.2 1514.5 L1065.2 1519.7 L1066.2 1525.8 L1067.2 1532.9 L1068.2 1541.9 L1069.2 1551.4 L1070.2 1561 L1071.2 1571.4 L1072.2 1582.4 L1073.2 1594.4 L1074.2 1608 L1075.2 1623.9 L1076.2 1641 L1077.2 1659.1 L1078.2 1676.4 L1079.2 1692.5 L1080.2 1708.5 L1081.2 1724.8 L1082.2 1741.1 L1083.2 1757.6 L1084.2 1774.3 L1085.2 1792.2 L1086.2 1810.1 L1087.2 1825.8 L1088.2 1838.3 L1089.2 1849.2 L1090.2 1858.7 L1091.2 1866.7 L1092.2 1873.7 L1093.2 1879.8 L1094.2 1885 L1095.2 1889.2 L1096.2 1892.7 L1097.2 1895.9 L1098.2 1898.6 L1099.2 1901.1 L1100.2 1903.2 L1101.2 1905.2 L1102.2 1907 L1103.2 1908.6 L1104.2 1910.1 L1105.2 1911.3 L1106.2 1912.3 L1107.2 1913.1 L1108.2 1913.9 L1109.2 1914.7 L1110.2 1915.3 L1111.2 1915.9 L1112.2 1916.4 L1113.2 1916.8 L1114.2 1917.2 L1115.2 1917.6 L1116.2 1917.9 L1117.2 1918.2 L1118.2 1918.5 L1119.2 1918.8 L1120.2 1919 L1121.2 1919.2 L1122.2 1919.3 L1123.2 1919.3 L1124.2 1919.4 L1125.2 1919.5 L1126.2 1919.5 L1127.2 1919.6 L1128.2 1919.6 L1129.2 1919.6 L1130.2 1919.7 L1131.2 1919.7 L1132.2 1919.6 L1133.2 1919.6 L1134.2 1919.6 L1135.2 1919.6 L1136.2 1919.5 L1137.2 1919.6 L1138.2 1919.6 L1139.2 1919.6 L1140.2 1919.7 L1141.2 1919.8 L1142.2 1919.9 L1143.2 1920 L1144.2 1920.1 L1145.2 1920.2 L1146.2 1920.2 L1147.2 1920.3 L1148.2 1920.4 L1149.2 1920.4 L1150.2 1920.5 L1151.2 1920.5 L1152.2 1920.5 L1153.2 1920.5 L1154.2 1920.5 L1155.2 1920.6 L1156.2 1920.6 L1157.2 1920.6 L1158.2 1920.6 L1159.2 1920.7 L1160.2 1920.7 L1161.2 1920.8 L1162.2 1920.8 L1163.2 1920.9 L1164.2 1920.9 L1165.2 1920.9 L1166.2 1921 L1167.2 1921 L1168.2 1921.1 L1169.2 1921.1 L1170.2 1921.2 L1171.2 1921.3 L1172.2 1921.4 L1173.2 1921.5 L1174.2 1921.6 L1175.2 1921.7 L1176.2 1921.8 L1177.2 1921.8 L1178.2 1921.9 L1179.2 1921.9 L1180.2 1921.9 L1181.2 1922 L1182.2 1922 L1183.2 1922 L1184.2 1922 L1185.2 1922.1 L1186.2 1922.1 L1187.2 1922.1 L1188.2 1922.1 L1189.2 1922.1 L1190.2 1922.1 L1191.2 1922.1 L1192.2 1922 L1193.2 1922 L1194.2 1922 L1195.2 1922 L1196.2 1921.9 L1197.2 1921.9 L1198.2 1922 L1199.2 1922 L1200.2 1922 L1201.2 1922 L1202.2 1922.1 L1203.2 1922.1 L1204.2 1922.1 L1205.2 1922.1 L1206.2 1922.1 L1207.2 1922.1 L1208.2 1922.2 L1209.2 1922.3 L1210.2 1922.3 L1211.2 1922.4 L1212.2 1922.6 L1213.2 1922.7 L1214.2 1922.8 L1215.2 1922.8 L1216.2 1922.9 L1217.2 1923 L1218.2 1923 L1219.2 1923.1 L1220.2 1923.1 L1221.2 1923.1 L1222.2 1923.1 L1223.2 1923.1 L1224.2 1923.1 L1225.2 1923 L1226.2 1923 L1227.2 1923 L1228.2 1922.9 L1229.2 1922.9 L1230.2 1923 L1231.2 1923 L1232.2 1923.1 L1233.2 1923.2 L1234.2 1923.3 L1235.2 1923.4 L1236.2 1923.5 L1237.2 1923.6 L1238.2 1923.7 L1239.2 1923.7 L1240.2 1923.7 L1241.2 1923.7 L1242.2 1923.7 L1243.2 1923.6 L1244.2 1923.6 L1245.2 1923.5 L1246.2 1923.5 L1247.2 1923.4 L1248.2 1923.4 L1249.2 1923.4 L1250.2 1923.4 L1251.2 1923.4 L1252.2 1923.4 L1253.2 1923.4 L1254.2 1923.4 L1255.2 1923.3 L1256.2 1923.3 L1257.2 1923.4 L1258.2 1923.4 L1259.2 1923.4 L1260.2 1923.4 L1261.2 1923.5 L1262.2 1923.6 L1263.2 1923.7 L1264.2 1923.7 L1265.2 1923.8 L1266.2 1923.9 L1267.2 1923.9 L1268.2 1923.9 L1269.2 1923.9 L1270.2 1923.9 L1271.2 1923.9 L1272.2 1923.8 L1273.2 1923.8 L1274.2 1923.7 L1275.2 1923.6 L1276.2 1923.6 L1277.2 1923.5 L1278.2 1923.5 L1279.2 1923.5 L1280.2 1923.5 L1281.2 1923.6 L1282.2 1923.6 L1283.2 1923.6 L1284.2 1923.7 L1285.2 1923.7 L1286.2 1923.8 L1287.2 1923.8 L1288.2 1923.8 L1289.2 1923.8 L1290.2 1923.7 L1291.2 1923.7 L1292.2 1923.7 L1293.2 1923.6 L1294.2 1923.6 L1295.2 1923.6 L1296.2 1923.6 L1297.2 1923.5 L1298.2 1923.5 L1299.2 1923.5 L1300.2 1923.6 L1301.2 1923.6 L1302.2 1923.6 L1303.2 1923.6 L1304.2 1923.5 L1305.2 1923.5 L1306.2 1923.5 L1307.2 1923.5 L1308.2 1923.6 L1309.2 1923.6 L1310.2 1923.6 L1311.2 1923.6 L1312.2 1923.7 L1313.2 1923.7 L1314.2 1923.6 L1315.2 1923.6 L1316.2 1923.5 L1317.2 1923.4 L1318.2 1923.4 L1319.2 1923.3 L1320.2 1923.3 L1321.2 1923.3 L1322.2 1923.3 L1323.2 1923.3 L1324.2 1923.3 L1325.2 1923.4 L1326.2 1923.4 L1327.2 1923.5 L1328.2 1923.5 L1329.2 1923.6 L1330.2 1923.6 L1331.2 1923.7 L1332.2 1923.8 L1333.2 1923.8 L1334.2 1923.9 L1335.2 1923.9 L1336.2 1923.9 L1337.2 1923.9 L1338.2 1923.9 L1339.2 1923.9 L1340.2 1923.9 L1341.2 1923.9 L1342.2 1923.9 L1343.2 1923.9 L1344.2 1923.9 L1345.2 1923.9 L1346.2 1923.8 L1347.2 1923.8 L1348.2 1923.8 L1349.2 1923.8 L1350.2 1923.8 L1351.2 1923.8 L1352.2 1923.8 L1353.2 1923.9 L1354.2 1923.9 L1355.2 1923.9 L1356.2 1924 L1357.2 1923.9 L1358.2 1923.9 L1359.2 1923.9 L1360.2 1923.8 L1361.2 1923.8 L1362.2 1923.7 L1363.2 1923.7 L1364.2 1923.7 L1365.2 1923.6 L1366.2 1923.6 L1367.2 1923.6 L1368.2 1923.6 L1369.2 1923.6 L1370.2 1923.6 L1371.2 1923.6 L1372.2 1923.6 L1373.2 1923.6 L1374.2 1923.6 L1375.2 1923.6 L1376.2 1923.5 L1377.2 1923.5 L1378.2 1923.5 L1379.2 1923.6 L1380.2 1923.6 L1381.2 1923.6 L1382.2 1923.6 L1383.2 1923.6 L1384.2 1923.6 L1385.2 1923.7 L1386.2 1923.7 L1387.2 1923.8 L1388.2 1923.8 L1389.2 1923.8 L1390.2 1923.9 L1391.2 1923.9 L1392.2 1923.9 L1393.2 1923.9 L1394.2 1923.9 L1395.2 1923.9 L1396.2 1923.9 L1397.2 1923.9 L1398.2 1923.9 L1399.2 1923.9 L1400.2 1923.9 L1401.2 1923.9 L1402.2 1923.9 L1403.2 1923.9 L1404.2 1923.9 L1405.2 1923.9 L1406.2 1924 L1407.2 1924 L1408.2 1924 L1409.2 1924 L1410.2 1924 L1411.2 1924 L1412.2 1924 L1413.2 1923.9 L1414.2 1923.9 L1415.2 1923.8 L1416.2 1923.8 L1417.2 1923.7 L1418.2 1923.7 L1419.2 1923.7 L1420.2 1923.7 L1421.2 1923.7 L1422.2 1923.6 L1423.2 1923.6 L1424.2 1923.6 L1425.2 1923.5 L1426.2 1923.5 L1427.2 1923.4 L1428.2 1923.4 L1429.2 1923.4 L1430.2 1923.3 L1431.2 1923.4 L1432.2 1923.4 L1433.2 1923.4 L1434.2 1923.5 L1435.2 1923.5 L1436.2 1923.5 L1437.2 1923.5 L1438.2 1923.5 L1439.2 1923.5 L1440.2 1923.5 L1441.2 1923.6 L1442.2 1923.6 L1443.2 1923.6 L1444.2 1923.7 L1445.2 1923.7 L1446.2 1923.8 L1447.2 1923.8 L1448.2 1923.8 L1449.2 1923.8 L1450.2 1923.8 L1451.2 1923.7 L1452.2 1923.7 L1453.2 1923.6 L1454.2 1923.6 L1455.2 1923.6 L1456.2 1923.5 L1457.2 1923.5 L1458.2 1923.5 L1459.2 1923.5 L1460.2 1923.5 L1461.2 1923.5 L1462.2 1923.4 L1463.2 1923.4 L1464.2 1923.3 L1465.2 1923.3 L1466.2 1923.3 L1467.2 1923.3 L1468.2 1923.3 L1469.2 1923.3 L1470.2 1923.3 L1471.2 1923.3 L1472.2 1923.3 L1473.2 1923.4 L1474.2 1923.4 L1475.2 1923.4 L1476.2 1923.5 L1477.2 1923.5 L1478.2 1923.5 L1479.2 1923.6 L1480.2 1923.6 L1481.2 1923.6 L1482.2 1923.6 L1483.2 1923.6 L1484.2 1923.7 L1485.2 1923.7 L1486.2 1923.6 L1487.2 1923.6 L1488.2 1923.6 L1489.2 1923.6 L1490.2 1923.5 L1491.2 1923.5 L1492.2 1923.5 L1493.2 1923.5 L1494.2 1923.5 L1495.2 1923.5 L1496.2 1923.6 L1497.2 1923.6 L1498.2 1923.6 L1499.2 1923.6 L1500.2 1923.6 L1501.2 1923.6 L1502.2 1923.6 L1503.2 1923.6 L1504.2 1923.6 L1505.2 1923.6 L1506.2 1923.6 L1507.2 1923.6 L1508.2 1923.6 L1509.2 1923.7 L1510.2 1923.7 L1511.2 1923.7 L1512.2 1923.8 L1513.2 1923.8 L1514.2 1923.7 L1515.2 1923.7 L1516.2 1923.7 L1517.2 1923.6 L1518.2 1923.6 L1519.2 1923.5 L1520.2 1923.5 L1521.2 1923.4 L1522.2 1923.4 L1523.2 1923.4 L1524.2 1923.4 L1525.2 1923.4 L1526.2 1923.5 L1527.2 1923.5 L1528.2 1923.6 L1529.2 1923.6 L1530.2 1923.7 L1531.2 1923.7 L1532.2 1923.7 L1533.2 1923.8 L1534.2 1923.8 L1535.2 1923.8 L1536.2 1923.9 L1537.2 1923.9 L1538.2 1923.9 L1539.2 1923.9 L1540.2 1923.9 L1541.2 1923.9 L1542.2 1923.9 L1543.2 1923.9 L1544.2 1923.9 L1545.2 1924 L1546.2 1924 L1547.2 1924 L1548.2 1924 L1549.2 1924 L1550.2 1924 L1551.2 1924 L1552.2 1924.1 L1553.2 1924.1 L1554.2 1924.1 L1555.2 1924.1 L1556.2 1924.1 L1557.2 1924.2 L1558.2 1924.1 L1559.2 1924.1 L1560.2 1924.1 L1561.2 1924.1 L1562.2 1924 L1563.2 1923.9 L1564.2 1923.9 L1565.2 1923.8 L1566.2 1923.8 L1567.2 1923.7 L1568.2 1923.7 L1569.2 1923.7 L1570.2 1923.7 L1571.2 1923.7 L1572.2 1923.7 L1573.2 1923.8 L1574.2 1923.8 L1575.2 1923.8 L1576.2 1923.9 L1577.2 1923.9 L1578.2 1923.9 L1579.2 1923.9 L1580.2 1924 L1581.2 1924 L1582.2 1923.9 L1583.2 1923.9 L1584.2 1923.9 L1585.2 1923.8 L1586.2 1923.8 L1587.2 1923.7 L1588.2 1923.6 L1589.2 1923.6 L1590.2 1923.6 L1591.2 1923.6 L1592.2 1923.6 L1593.2 1923.6 L1594.2 1923.6 L1595.2 1923.6 L1596.2 1923.6 L1597.2 1923.7 L1598.2 1923.7 L1599.2 1923.7 L1600.2 1923.6 L1601.2 1923.6 L1602.2 1923.6 L1603.2 1923.5 L1604.2 1923.5 L1605.2 1923.5 L1606.2 1923.5 L1607.2 1923.5 L1608.2 1923.5 L1609.2 1923.5 L1610.2 1923.6 L1611.2 1923.6 L1612.2 1923.7 L1613.2 1923.7 L1614.2 1923.8 L1615.2 1923.8 L1616.2 1923.8 L1617.2 1923.8 L1618.2 1923.7 L1619.2 1923.7 L1620.2 1923.6 L1621.2 1923.6 L1622.2 1923.6 L1623.2 1923.6 L1624.2 1923.6" fill="none" stroke="#000" stroke-width="1.8" stroke-linejoin="round" stroke-linecap="butt"/>
<line x1="506.7" y1="1920.3" x2="705.1" y2="1858.4" stroke="#ff0000" stroke-width="1.5" stroke-linecap="butt"/>
<line x1="705.1" y1="1858.4" x2="935" y2="1911.1" stroke="#ff0000" stroke-width="1.5" stroke-linecap="butt"/>
<line x1="1016.1" y1="1910.8" x2="1121.9" y2="1919.1" stroke="#ff0000" stroke-width="1.5" stroke-linecap="butt"/>
<line x1="506.7" y1="1910.8" x2="506.7" y2="1920.3" stroke="#0000ff" stroke-width="1.6" stroke-linecap="butt"/>
<line x1="705.1" y1="1849.3" x2="705.1" y2="1867.8" stroke="#0000ff" stroke-width="1.6" stroke-linecap="butt"/>
<line x1="935" y1="1911.1" x2="935" y2="1920.8" stroke="#0000ff" stroke-width="1.6" stroke-linecap="butt"/>
<line x1="1016.1" y1="1901.4" x2="1016.1" y2="1910.8" stroke="#0000ff" stroke-width="1.6" stroke-linecap="butt"/>
<line x1="1121.9" y1="1919.1" x2="1121.9" y2="1928.8" stroke="#0000ff" stroke-width="1.6" stroke-linecap="butt"/>
<text transform="translate(609.4 1712.3) scale(1 1.025)" font-size="29.4" text-anchor="start" fill="#000" stroke="#000" stroke-width="0.3">HA Sample 2</text>
<text transform="translate(1077 1504.6) scale(1 1.025)" font-size="29.4" text-anchor="start" fill="#000" stroke="#000" stroke-width="0.3">Ammonium Acetate</text>
</svg>
</body></html>
